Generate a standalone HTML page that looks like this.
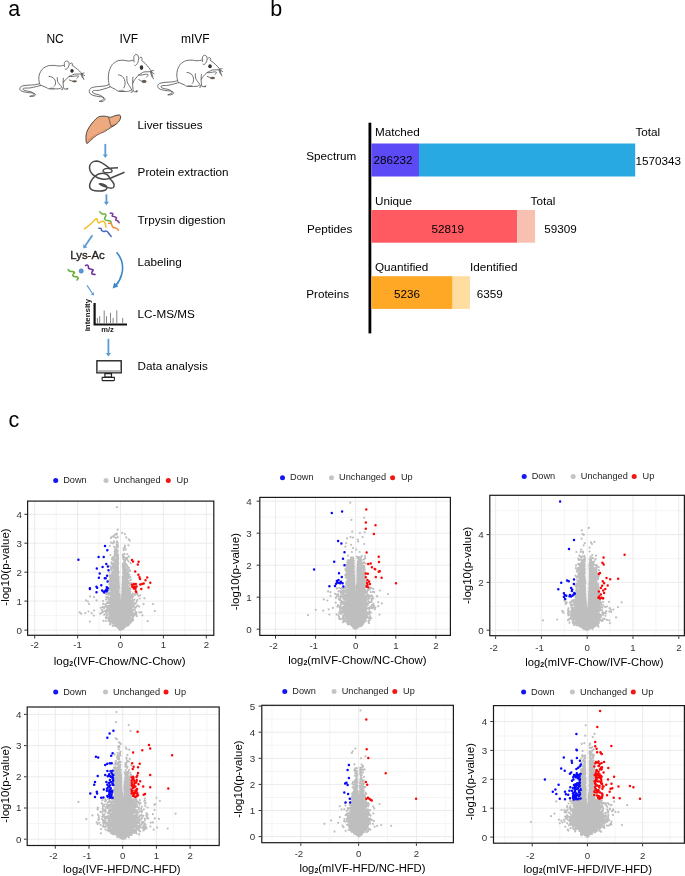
<!DOCTYPE html>
<html><head><meta charset="utf-8"><style>
html,body{margin:0;padding:0;background:#fff;}
svg{display:block;font-family:"Liberation Sans", sans-serif;will-change:transform;}
</style></head><body>
<svg width="685" height="876" viewBox="0 0 685 876">
<text x="8.2" y="15.6" font-size="21.5">a</text>
<text x="270.3" y="15.5" font-size="21.5">b</text>
<text x="8.5" y="427.0" font-size="21.5">c</text>
<g transform="translate(0.00 0.00) scale(1 1.0)"><ellipse cx="72" cy="70.9" rx="1.75" ry="1.8" fill="#333"/>
<ellipse cx="74.6" cy="81.3" rx="2.4" ry="1.15" fill="#6b5d50"/>
<ellipse cx="67.2" cy="88.8" rx="1" ry="0.8" fill="#777"/>
<ellipse cx="52" cy="88.4" rx="3" ry="0.9" fill="#aaa"/><g fill="none" stroke="#555" stroke-width="0.85" stroke-linecap="round"><path vector-effect="non-scaling-stroke" d="M39.7 83.8C39.6 83.1 38.8 81.2 38.8 79.5C38.8 77.8 38.9 75.6 39.5 73.9C40.1 72.2 41.4 70.3 42.3 69.2C43.2 68.1 43.9 67.8 45.0 67.2C46.1 66.6 47.2 66.0 48.7 65.7C50.2 65.4 52.5 65.4 54.2 65.4C55.9 65.5 57.6 66.0 59.1 66.0C60.6 66.0 62.7 65.5 63.4 65.4"/>
<path vector-effect="non-scaling-stroke" d="M64.5 66.6C64.5 66.1 64.2 64.3 64.3 63.5C64.4 62.7 64.6 62.2 65.0 61.8C65.4 61.4 66.0 61.1 66.5 61.1C67.0 61.1 67.8 61.2 68.3 61.7C68.8 62.2 69.2 63.2 69.2 64.1C69.2 65.0 68.8 66.3 68.3 67.2C67.8 68.1 66.7 69.0 66.2 69.3C65.7 69.6 65.4 69.0 65.2 69.0"/>
<path vector-effect="non-scaling-stroke" d="M70.1 63.8C70.3 63.7 70.7 63.1 71.1 63.1C71.5 63.1 72.0 63.2 72.3 63.5C72.5 63.8 72.5 64.5 72.6 64.7"/>
<path vector-effect="non-scaling-stroke" d="M72.0 65.4C72.6 65.8 74.5 66.9 75.7 67.8C76.9 68.7 78.3 70.0 79.3 70.9C80.3 71.9 81.4 73.1 81.8 73.5"/>
<path vector-effect="non-scaling-stroke" d="M81.8 73.9C81.2 73.9 79.3 74.0 78.1 74.1C76.9 74.1 75.5 74.0 74.4 74.2C73.3 74.4 72.3 75.1 71.4 75.5C70.5 75.9 69.6 76.2 69.2 76.4"/>
<path vector-effect="non-scaling-stroke" d="M69.5 76.6C70.0 76.6 71.5 76.6 72.6 76.5C73.7 76.4 75.3 75.9 76.3 75.9C77.3 75.9 78.6 76.0 78.7 76.4C78.8 76.8 77.2 77.9 76.9 78.2"/>
<path vector-effect="non-scaling-stroke" d="M81.6 74L84.6 75.6M81.9 74.4L83.8 79.4M81 74.6L82.5 77.8M81.5 73.6L84 73"/>
<path vector-effect="non-scaling-stroke" d="M69.2 76.4C68.8 76.8 67.3 78.0 66.5 78.8C65.7 79.5 64.9 80.3 64.4 80.9C63.9 81.5 63.6 82.2 63.4 82.5"/>
<path vector-effect="non-scaling-stroke" d="M69.3 80.0C69.6 80.1 70.5 80.4 71.0 80.6C71.5 80.8 72.3 81.2 72.6 81.3"/>
<path vector-effect="non-scaling-stroke" d="M63.4 78.2C63.4 78.9 63.1 81.2 63.1 82.5C63.1 83.8 63.2 85.2 63.4 86.2C63.5 87.2 63.5 88.2 64.0 88.7C64.5 89.2 65.9 89.1 66.5 89.1C67.1 89.1 67.6 88.7 67.8 88.6"/>
<path vector-effect="non-scaling-stroke" d="M57.3 77.6C57.3 78.2 57.3 80.3 57.6 81.3C57.9 82.3 58.4 82.9 59.1 83.8C59.8 84.7 61.0 85.9 61.6 86.8C62.2 87.7 62.8 88.8 62.8 89.3C62.8 89.8 61.7 89.5 61.5 89.5"/>
<path vector-effect="non-scaling-stroke" d="M49.0 76.4C49.5 76.5 50.8 76.6 51.7 77.0C52.6 77.4 53.6 78.1 54.2 78.8C54.8 79.5 55.2 80.4 55.4 81.3C55.6 82.2 55.6 83.6 55.4 84.4C55.2 85.2 54.4 85.9 54.2 86.2"/>
<path vector-effect="non-scaling-stroke" d="M39.9 84.8C40.4 85.0 42.0 85.8 43.0 86.2C44.0 86.6 45.2 87.0 46.2 87.4C47.2 87.8 47.4 88.5 48.7 88.7C50.0 89.0 52.5 88.9 54.2 88.9C55.9 88.9 58.0 88.9 59.1 88.7C60.2 88.5 60.7 88.1 61.0 88.0"/>
<path vector-effect="non-scaling-stroke" d="M39.2 83.8C38.4 84.0 36.4 84.6 34.5 84.8C32.6 85.0 30.0 85.0 28.0 85.2C26.0 85.4 24.0 85.6 22.7 85.9C21.4 86.2 20.8 86.7 20.3 87.2C19.8 87.7 19.7 88.4 19.8 89.0C19.9 89.6 20.1 90.2 20.9 90.7C21.7 91.2 23.0 91.7 24.4 92.0C25.8 92.3 27.8 92.5 29.3 92.7C30.8 92.9 32.2 92.8 33.2 93.1C34.2 93.3 35.1 93.8 35.4 94.2C35.7 94.6 35.4 95.1 35.0 95.5C34.6 95.9 33.6 96.2 32.8 96.4C32.0 96.6 30.6 96.4 30.1 96.4"/>
<path vector-effect="non-scaling-stroke" d="M40.7 85.4C40.0 85.6 38.5 86.1 36.7 86.5C34.9 86.9 32.1 87.6 30.1 87.9C28.1 88.2 26.1 88.0 24.9 88.1C23.7 88.2 23.3 88.4 23.1 88.7C22.9 89.0 23.0 89.6 23.6 90.0C24.2 90.4 25.4 90.6 26.6 90.9C27.8 91.2 29.8 91.4 31.0 91.8C32.2 92.2 33.1 92.8 33.6 93.3C34.1 93.8 34.3 94.2 34.1 94.6C33.9 95.0 33.0 95.2 32.3 95.5C31.6 95.8 30.5 96.1 30.1 96.2"/></g></g>
<g transform="translate(69.50 -26.73) scale(1 1.33)"><ellipse cx="72" cy="70.9" rx="1.75" ry="1.8" fill="#333"/>
<ellipse cx="74.6" cy="81.3" rx="2.4" ry="1.15" fill="#6b5d50"/>
<ellipse cx="67.2" cy="88.8" rx="1" ry="0.8" fill="#777"/>
<ellipse cx="52" cy="88.4" rx="3" ry="0.9" fill="#aaa"/><g fill="none" stroke="#555" stroke-width="0.85" stroke-linecap="round"><path vector-effect="non-scaling-stroke" d="M39.7 83.8C39.6 83.1 38.8 81.2 38.8 79.5C38.8 77.8 38.9 75.6 39.5 73.9C40.1 72.2 41.4 70.3 42.3 69.2C43.2 68.1 43.9 67.8 45.0 67.2C46.1 66.6 47.2 66.0 48.7 65.7C50.2 65.4 52.5 65.4 54.2 65.4C55.9 65.5 57.6 66.0 59.1 66.0C60.6 66.0 62.7 65.5 63.4 65.4"/>
<path vector-effect="non-scaling-stroke" d="M64.5 66.6C64.5 66.1 64.2 64.3 64.3 63.5C64.4 62.7 64.6 62.2 65.0 61.8C65.4 61.4 66.0 61.1 66.5 61.1C67.0 61.1 67.8 61.2 68.3 61.7C68.8 62.2 69.2 63.2 69.2 64.1C69.2 65.0 68.8 66.3 68.3 67.2C67.8 68.1 66.7 69.0 66.2 69.3C65.7 69.6 65.4 69.0 65.2 69.0"/>
<path vector-effect="non-scaling-stroke" d="M70.1 63.8C70.3 63.7 70.7 63.1 71.1 63.1C71.5 63.1 72.0 63.2 72.3 63.5C72.5 63.8 72.5 64.5 72.6 64.7"/>
<path vector-effect="non-scaling-stroke" d="M72.0 65.4C72.6 65.8 74.5 66.9 75.7 67.8C76.9 68.7 78.3 70.0 79.3 70.9C80.3 71.9 81.4 73.1 81.8 73.5"/>
<path vector-effect="non-scaling-stroke" d="M81.8 73.9C81.2 73.9 79.3 74.0 78.1 74.1C76.9 74.1 75.5 74.0 74.4 74.2C73.3 74.4 72.3 75.1 71.4 75.5C70.5 75.9 69.6 76.2 69.2 76.4"/>
<path vector-effect="non-scaling-stroke" d="M69.5 76.6C70.0 76.6 71.5 76.6 72.6 76.5C73.7 76.4 75.3 75.9 76.3 75.9C77.3 75.9 78.6 76.0 78.7 76.4C78.8 76.8 77.2 77.9 76.9 78.2"/>
<path vector-effect="non-scaling-stroke" d="M81.6 74L84.6 75.6M81.9 74.4L83.8 79.4M81 74.6L82.5 77.8M81.5 73.6L84 73"/>
<path vector-effect="non-scaling-stroke" d="M69.2 76.4C68.8 76.8 67.3 78.0 66.5 78.8C65.7 79.5 64.9 80.3 64.4 80.9C63.9 81.5 63.6 82.2 63.4 82.5"/>
<path vector-effect="non-scaling-stroke" d="M69.3 80.0C69.6 80.1 70.5 80.4 71.0 80.6C71.5 80.8 72.3 81.2 72.6 81.3"/>
<path vector-effect="non-scaling-stroke" d="M63.4 78.2C63.4 78.9 63.1 81.2 63.1 82.5C63.1 83.8 63.2 85.2 63.4 86.2C63.5 87.2 63.5 88.2 64.0 88.7C64.5 89.2 65.9 89.1 66.5 89.1C67.1 89.1 67.6 88.7 67.8 88.6"/>
<path vector-effect="non-scaling-stroke" d="M57.3 77.6C57.3 78.2 57.3 80.3 57.6 81.3C57.9 82.3 58.4 82.9 59.1 83.8C59.8 84.7 61.0 85.9 61.6 86.8C62.2 87.7 62.8 88.8 62.8 89.3C62.8 89.8 61.7 89.5 61.5 89.5"/>
<path vector-effect="non-scaling-stroke" d="M49.0 76.4C49.5 76.5 50.8 76.6 51.7 77.0C52.6 77.4 53.6 78.1 54.2 78.8C54.8 79.5 55.2 80.4 55.4 81.3C55.6 82.2 55.6 83.6 55.4 84.4C55.2 85.2 54.4 85.9 54.2 86.2"/>
<path vector-effect="non-scaling-stroke" d="M39.9 84.8C40.4 85.0 42.0 85.8 43.0 86.2C44.0 86.6 45.2 87.0 46.2 87.4C47.2 87.8 47.4 88.5 48.7 88.7C50.0 89.0 52.5 88.9 54.2 88.9C55.9 88.9 58.0 88.9 59.1 88.7C60.2 88.5 60.7 88.1 61.0 88.0"/>
<path vector-effect="non-scaling-stroke" d="M39.2 83.8C38.4 84.0 36.4 84.6 34.5 84.8C32.6 85.0 30.0 85.0 28.0 85.2C26.0 85.4 24.0 85.6 22.7 85.9C21.4 86.2 20.8 86.7 20.3 87.2C19.8 87.7 19.7 88.4 19.8 89.0C19.9 89.6 20.1 90.2 20.9 90.7C21.7 91.2 23.0 91.7 24.4 92.0C25.8 92.3 27.8 92.5 29.3 92.7C30.8 92.9 32.2 92.8 33.2 93.1C34.2 93.3 35.1 93.8 35.4 94.2C35.7 94.6 35.4 95.1 35.0 95.5C34.6 95.9 33.6 96.2 32.8 96.4C32.0 96.6 30.6 96.4 30.1 96.4"/>
<path vector-effect="non-scaling-stroke" d="M40.7 85.4C40.0 85.6 38.5 86.1 36.7 86.5C34.9 86.9 32.1 87.6 30.1 87.9C28.1 88.2 26.1 88.0 24.9 88.1C23.7 88.2 23.3 88.4 23.1 88.7C22.9 89.0 23.0 89.6 23.6 90.0C24.2 90.4 25.4 90.6 26.6 90.9C27.8 91.2 29.8 91.4 31.0 91.8C32.2 92.2 33.1 92.8 33.6 93.3C34.1 93.8 34.3 94.2 34.1 94.6C33.9 95.0 33.0 95.2 32.3 95.5C31.6 95.8 30.5 96.1 30.1 96.2"/></g></g>
<g transform="translate(138.00 -13.12) scale(1 1.12)"><ellipse cx="72" cy="70.9" rx="1.75" ry="1.8" fill="#333"/>
<ellipse cx="74.6" cy="81.3" rx="2.4" ry="1.15" fill="#6b5d50"/>
<ellipse cx="67.2" cy="88.8" rx="1" ry="0.8" fill="#777"/>
<ellipse cx="52" cy="88.4" rx="3" ry="0.9" fill="#aaa"/><g fill="none" stroke="#555" stroke-width="0.85" stroke-linecap="round"><path vector-effect="non-scaling-stroke" d="M39.7 83.8C39.6 83.1 38.8 81.2 38.8 79.5C38.8 77.8 38.9 75.6 39.5 73.9C40.1 72.2 41.4 70.3 42.3 69.2C43.2 68.1 43.9 67.8 45.0 67.2C46.1 66.6 47.2 66.0 48.7 65.7C50.2 65.4 52.5 65.4 54.2 65.4C55.9 65.5 57.6 66.0 59.1 66.0C60.6 66.0 62.7 65.5 63.4 65.4"/>
<path vector-effect="non-scaling-stroke" d="M64.5 66.6C64.5 66.1 64.2 64.3 64.3 63.5C64.4 62.7 64.6 62.2 65.0 61.8C65.4 61.4 66.0 61.1 66.5 61.1C67.0 61.1 67.8 61.2 68.3 61.7C68.8 62.2 69.2 63.2 69.2 64.1C69.2 65.0 68.8 66.3 68.3 67.2C67.8 68.1 66.7 69.0 66.2 69.3C65.7 69.6 65.4 69.0 65.2 69.0"/>
<path vector-effect="non-scaling-stroke" d="M70.1 63.8C70.3 63.7 70.7 63.1 71.1 63.1C71.5 63.1 72.0 63.2 72.3 63.5C72.5 63.8 72.5 64.5 72.6 64.7"/>
<path vector-effect="non-scaling-stroke" d="M72.0 65.4C72.6 65.8 74.5 66.9 75.7 67.8C76.9 68.7 78.3 70.0 79.3 70.9C80.3 71.9 81.4 73.1 81.8 73.5"/>
<path vector-effect="non-scaling-stroke" d="M81.8 73.9C81.2 73.9 79.3 74.0 78.1 74.1C76.9 74.1 75.5 74.0 74.4 74.2C73.3 74.4 72.3 75.1 71.4 75.5C70.5 75.9 69.6 76.2 69.2 76.4"/>
<path vector-effect="non-scaling-stroke" d="M69.5 76.6C70.0 76.6 71.5 76.6 72.6 76.5C73.7 76.4 75.3 75.9 76.3 75.9C77.3 75.9 78.6 76.0 78.7 76.4C78.8 76.8 77.2 77.9 76.9 78.2"/>
<path vector-effect="non-scaling-stroke" d="M81.6 74L84.6 75.6M81.9 74.4L83.8 79.4M81 74.6L82.5 77.8M81.5 73.6L84 73"/>
<path vector-effect="non-scaling-stroke" d="M69.2 76.4C68.8 76.8 67.3 78.0 66.5 78.8C65.7 79.5 64.9 80.3 64.4 80.9C63.9 81.5 63.6 82.2 63.4 82.5"/>
<path vector-effect="non-scaling-stroke" d="M69.3 80.0C69.6 80.1 70.5 80.4 71.0 80.6C71.5 80.8 72.3 81.2 72.6 81.3"/>
<path vector-effect="non-scaling-stroke" d="M63.4 78.2C63.4 78.9 63.1 81.2 63.1 82.5C63.1 83.8 63.2 85.2 63.4 86.2C63.5 87.2 63.5 88.2 64.0 88.7C64.5 89.2 65.9 89.1 66.5 89.1C67.1 89.1 67.6 88.7 67.8 88.6"/>
<path vector-effect="non-scaling-stroke" d="M57.3 77.6C57.3 78.2 57.3 80.3 57.6 81.3C57.9 82.3 58.4 82.9 59.1 83.8C59.8 84.7 61.0 85.9 61.6 86.8C62.2 87.7 62.8 88.8 62.8 89.3C62.8 89.8 61.7 89.5 61.5 89.5"/>
<path vector-effect="non-scaling-stroke" d="M49.0 76.4C49.5 76.5 50.8 76.6 51.7 77.0C52.6 77.4 53.6 78.1 54.2 78.8C54.8 79.5 55.2 80.4 55.4 81.3C55.6 82.2 55.6 83.6 55.4 84.4C55.2 85.2 54.4 85.9 54.2 86.2"/>
<path vector-effect="non-scaling-stroke" d="M39.9 84.8C40.4 85.0 42.0 85.8 43.0 86.2C44.0 86.6 45.2 87.0 46.2 87.4C47.2 87.8 47.4 88.5 48.7 88.7C50.0 89.0 52.5 88.9 54.2 88.9C55.9 88.9 58.0 88.9 59.1 88.7C60.2 88.5 60.7 88.1 61.0 88.0"/>
<path vector-effect="non-scaling-stroke" d="M39.2 83.8C38.4 84.0 36.4 84.6 34.5 84.8C32.6 85.0 30.0 85.0 28.0 85.2C26.0 85.4 24.0 85.6 22.7 85.9C21.4 86.2 20.8 86.7 20.3 87.2C19.8 87.7 19.7 88.4 19.8 89.0C19.9 89.6 20.1 90.2 20.9 90.7C21.7 91.2 23.0 91.7 24.4 92.0C25.8 92.3 27.8 92.5 29.3 92.7C30.8 92.9 32.2 92.8 33.2 93.1C34.2 93.3 35.1 93.8 35.4 94.2C35.7 94.6 35.4 95.1 35.0 95.5C34.6 95.9 33.6 96.2 32.8 96.4C32.0 96.6 30.6 96.4 30.1 96.4"/>
<path vector-effect="non-scaling-stroke" d="M40.7 85.4C40.0 85.6 38.5 86.1 36.7 86.5C34.9 86.9 32.1 87.6 30.1 87.9C28.1 88.2 26.1 88.0 24.9 88.1C23.7 88.2 23.3 88.4 23.1 88.7C22.9 89.0 23.0 89.6 23.6 90.0C24.2 90.4 25.4 90.6 26.6 90.9C27.8 91.2 29.8 91.4 31.0 91.8C32.2 92.2 33.1 92.8 33.6 93.3C34.1 93.8 34.3 94.2 34.1 94.6C33.9 95.0 33.0 95.2 32.3 95.5C31.6 95.8 30.5 96.1 30.1 96.2"/></g></g>
<path d="M86.4 142.9C85.8 139.5 85.7 135.5 86.6 132.5C87.8 128.8 90.5 124.8 93.4 121.6C95.2 119.5 96.8 117.9 98.6 116.9C100.5 116 103.5 116.1 106.5 116.4C108 116.6 109 117.2 110.2 117.4C111.8 117.3 113 116.3 114.6 115.8C116.2 115.3 118 114.9 119.3 115C120.6 115.2 120.8 116.5 120.5 118C120.1 120 118.8 121.8 117 123.4C115.3 125 113 126.3 110.6 127.6C108.5 128.8 106.7 130.6 104.5 131.6C102 132.6 99 133.8 96.8 135.2C94.4 136.8 92.4 138.6 90.6 140.5C89.4 141.8 88.2 143 87.2 143.4C86.8 143.5 86.5 143.3 86.4 142.9Z" fill="#EDAA80" stroke="#3a3a3a" stroke-width="0.9"/>
<path d="M87 141.5C89 138.5 92.5 135.8 96.5 133.8C100 132 103.5 130.6 106.2 129.2C108.3 128 110.3 126.7 112.2 125.6C110 127.6 107.5 129.8 104.6 131.3C101.8 132.7 98.5 134 96 135.6C93 137.6 90.6 140.2 88.2 142.6Z" fill="#E08E68"/>
<path d="M108.6 117.6C109.4 119.5 109.8 121.6 110.2 123.6C110.5 125 111 126 111.8 126.4" fill="none" stroke="#5a4030" stroke-width="0.8"/>
<path d="M110.4 126.2C111.8 125.3 113.5 124.8 115 125" fill="none" stroke="#6a4a3a" stroke-width="0.6"/>
<circle cx="105.9" cy="129.8" r="0.9" fill="#7CB342"/>
<path d="M105.3 143.9L105.3 154.9" stroke="#5B9BD5" stroke-width="1.8" fill="none"/><path d="M102.7 154.6L105.3 158.0L107.9 154.6Z" fill="#5B9BD5"/>
<path d="M106.4 194.3L106.4 202.1" stroke="#5B9BD5" stroke-width="1.8" fill="none"/><path d="M103.8 201.8L106.4 205.2L109.0 201.8Z" fill="#5B9BD5"/>
<path d="M92.4 235.3L85.1 246.0" stroke="#5B9BD5" stroke-width="1.8" fill="none"/><path d="M83.2 244.3L83.4 248.6L87.5 247.2Z" fill="#5B9BD5"/>
<path d="M108.4 338.8L108.4 353.3" stroke="#5B9BD5" stroke-width="1.8" fill="none"/><path d="M105.8 353.0L108.4 356.4L111.0 353.0Z" fill="#5B9BD5"/>
<path d="M87.0 285.3L92.5 293.5" stroke="#5B9BD5" stroke-width="1.2" fill="none"/><path d="M90.7 294.4L93.9 295.6L94.0 292.2Z" fill="#5B9BD5"/>
<path d="M116.6 252.2C121.5 258 123.8 266 121.8 274C120.6 278.8 118.5 282.5 115.6 285.6" fill="none" stroke="#3D86C9" stroke-width="1.6"/>
<path d="M112.6 288.4L114.2 282.6L118.3 286.6Z" fill="#3D86C9"/>
<path d="M118 167.8L109.5 168.3C106 165.5 100.5 161.2 96.8 161.1C92.3 161.1 89.6 164 89.5 167.5C89.4 171 91.5 173.8 94.9 176.2C97.5 174 101 173 104 173.4C107 174 109 176 109.7 178.2C108 179.3 105 179.4 102 179C99 178.6 96.5 177.5 94.9 176.2C92 179 90 182 89.6 185.5C89.4 188.5 91.5 190.3 95 190.8C99 191.3 103 191 105 190.3C107.5 189 107.5 186.5 105.5 185.3C103.5 184 100.5 183.6 99.4 183.9C101 185.2 104 186.5 107.1 187.4C109.5 188.2 112 188.6 113.5 187.5C114.5 185.5 113.8 183 112.5 181.5C111.5 180.3 110.5 179.3 109.7 178.5L124.5 172.3" fill="none" stroke="#484848" stroke-width="1.5" stroke-linejoin="round"/>
<path d="M105.5 168.6C103.3 169.2 102.5 170.8 103.4 171.8C104.6 172.8 108 172.9 110.5 172.4C112.4 171.9 112.5 170.4 111.2 169.5C109.6 168.5 107.3 168.2 105.5 168.6Z" fill="none" stroke="#484848" stroke-width="1.4"/>
<path d="M84.5 228.9C85.4 228.2 88.2 226.2 90.1 224.5C92.1 222.8 95.0 219.3 96.3 218.8C97.5 218.3 97.2 220.8 97.6 221.5C98.0 222.1 98.2 222.9 98.9 222.9C99.6 222.9 100.7 221.7 101.5 221.5C102.3 221.2 103.1 221.2 103.7 221.5C104.3 221.7 104.7 222.0 105.0 222.9C105.4 223.9 105.8 226.5 105.9 227.2" fill="none" stroke="#F5BE2A" stroke-width="1.5" stroke-linecap="round"/>
<path d="M99.8 211.8C100.2 212.2 101.5 213.6 102.4 214.0C103.3 214.4 104.5 213.7 105.0 214.0C105.6 214.3 106.0 215.3 105.9 215.9C105.8 216.6 104.7 217.3 104.6 218.0C104.5 218.6 104.9 219.5 105.5 220.0C106.0 220.4 107.0 220.4 107.8 220.6C108.6 220.8 109.7 220.7 110.3 221.0C110.8 221.3 111.0 222.1 111.2 222.3" fill="none" stroke="#6AB23E" stroke-width="1.5" stroke-linecap="round"/>
<path d="M110.3 213.1C110.7 213.3 112.6 213.4 112.9 213.8C113.2 214.3 111.9 215.5 112.2 216.0C112.5 216.5 113.9 216.5 114.7 216.8C115.4 217.1 116.5 217.4 116.6 218.0C116.7 218.5 115.4 219.5 115.5 220.0C115.7 220.5 117.2 220.4 117.7 220.8C118.3 221.3 118.8 222.3 119.1 222.6" fill="none" stroke="#7A3E9D" stroke-width="1.5" stroke-linecap="round"/>
<path d="M108.5 223.2C108.9 223.3 110.4 223.1 111.0 223.5C111.6 223.8 111.7 224.8 112.0 225.4C112.4 226.0 112.5 226.9 113.1 227.3C113.7 227.8 114.8 227.8 115.5 228.0C116.2 228.3 116.8 228.5 117.3 228.9C117.8 229.3 118.2 230.0 118.4 230.2" fill="none" stroke="#F08A36" stroke-width="1.5" stroke-linecap="round"/>
<path d="M98.9 228.2C99.3 228.2 100.7 228.1 101.1 228.5C101.5 228.8 101.1 229.7 101.5 230.2C102.0 230.7 103.1 231.4 103.7 231.5C104.4 231.7 104.8 231.0 105.5 231.1C106.1 231.2 107.0 231.4 107.7 232.0C108.3 232.5 108.8 233.6 109.4 234.3C110.0 235.1 110.9 236.0 111.2 236.4" fill="none" stroke="#4565C0" stroke-width="1.5" stroke-linecap="round"/>
<path d="M68.2 269.5C68.5 269.8 69.0 270.9 69.8 271.3C70.6 271.7 72.1 271.4 72.9 271.6C73.7 271.8 74.5 272.1 74.5 272.6C74.5 273.1 73.1 274.1 72.9 274.7C72.7 275.3 72.9 275.9 73.5 276.3C74.1 276.7 75.8 276.5 76.6 276.8C77.4 277.1 78.1 277.4 78.2 277.9C78.3 278.4 77.3 279.6 77.1 280.0" fill="none" stroke="#6AAE3A" stroke-width="1.6" stroke-linecap="round"/>
<path d="M85.5 265.5C85.8 265.4 86.6 264.9 87.1 265.0C87.6 265.1 88.1 265.7 88.4 266.3C88.7 266.9 88.2 267.9 88.7 268.4C89.2 268.9 90.5 268.9 91.3 269.2C92.0 269.5 93.1 269.5 93.2 270.0C93.3 270.5 92.1 271.5 91.9 272.1C91.7 272.8 91.6 273.5 92.1 273.9C92.6 274.3 94.5 274.4 95.0 274.5" fill="none" stroke="#6E2F9A" stroke-width="1.6" stroke-linecap="round"/>
<circle cx="81.2" cy="271" r="2.2" fill="#5A95D8" stroke="#3E78BE" stroke-width="0.5"/>
<text x="70.3" y="258.9" font-size="11.4" fill="#2a2420" stroke="#2a2420" stroke-width="0.35">Lys-Ac</text>
<path d="M94.6 303.1V324.5H127" fill="none" stroke="#111" stroke-width="2.2"/>
<path d="M97.4 318.0V323.4M99.7 316.2V323.4M104.2 310.5V323.4M106.5 316.2V323.4M110.5 312.8V323.4M113.1 318.0V323.4M116.8 310.3V323.4M122.7 318.0V323.4" stroke="#777" stroke-width="0.9" fill="none"/>
<text transform="translate(89.9 315.1) rotate(-90)" font-size="7.9" font-weight="bold" text-anchor="middle" fill="#222">intensity</text>
<text x="107.6" y="332.3" font-size="7.6" font-weight="bold" text-anchor="middle" fill="#222">m/z</text>
<rect x="96.9" y="360.8" width="24.3" height="12" fill="#fff" stroke="#222" stroke-width="1.4"/>
<rect x="97.6" y="370" width="22.9" height="2.2" fill="#bbb"/>
<path d="M104.9 373.6H111.5V377.2H104.9Z" fill="#fff" stroke="#222" stroke-width="1.2"/>
<path d="M102.2 377.4H114.3Q114.6 380.6 114 380.6H102.4Q101.9 380.6 102.2 377.4Z" fill="#fff" stroke="#222" stroke-width="1.1"/>
<text x="46.4" y="42.8" font-size="12">NC</text>
<text x="119.4" y="42.5" font-size="12">IVF</text>
<text x="181.0" y="42.5" font-size="12">mIVF</text>
<text x="137.6" y="129.0" font-size="11.7">Liver tissues</text>
<text x="137.6" y="176.0" font-size="11.7">Protein extraction</text>
<text x="137.6" y="223.5" font-size="11.7">Trpysin digestion</text>
<text x="137.6" y="266.1" font-size="11.7">Labeling</text>
<text x="137.6" y="317.8" font-size="11.7">LC-MS/MS</text>
<text x="137.6" y="369.6" font-size="11.7">Data analysis</text>
<rect x="368.5" y="122.7" width="2.8" height="210.7" fill="#000"/>
<rect x="371.3" y="143.5" width="47.7" height="33.0" fill="#5D4AF7"/>
<rect x="419.0" y="143.5" width="216.2" height="33.0" fill="#29A9E1"/>
<rect x="371.3" y="210.0" width="145.8" height="32.7" fill="#FF5A62"/>
<rect x="517.1" y="210.0" width="18.0" height="32.7" fill="#F7C0B1"/>
<rect x="371.3" y="276.2" width="81.3" height="32.7" fill="#FFA826"/>
<rect x="452.6" y="276.2" width="17.4" height="32.7" fill="#FFDDA0"/>
<text x="375.0" y="135.5" font-size="11.7">Matched</text>
<text x="635.5" y="135.5" font-size="11.7">Total</text>
<text x="306.3" y="160.1" font-size="11.7">Spectrum</text>
<text x="373.4" y="164.0" font-size="11.7">286232</text>
<text x="635.5" y="164.7" font-size="11.7">1570343</text>
<text x="375.0" y="204.7" font-size="11.7">Unique</text>
<text x="530.6" y="204.7" font-size="11.7">Total</text>
<text x="306.9" y="233.3" font-size="11.7">Peptides</text>
<text x="431.5" y="232.9" font-size="11.7">52819</text>
<text x="544.3" y="233.0" font-size="11.7">59309</text>
<text x="375.0" y="270.8" font-size="11.7">Quantified</text>
<text x="470.0" y="270.8" font-size="11.7">Identified</text>
<text x="306.2" y="298.2" font-size="11.7">Proteins</text>
<text x="393.9" y="298.2" font-size="11.7">5236</text>
<text x="476.7" y="298.2" font-size="11.7">6359</text>
<rect x="27.5" y="501.0" width="186.5" height="134.2" fill="#fff"/>
<path d="M56.2 501.0V635.2M99.0 501.0V635.2M141.9 501.0V635.2M184.8 501.0V635.2M27.5 615.6H214.0M27.5 586.7H214.0M27.5 557.7H214.0M27.5 528.8H214.0" stroke="#F2F2F2" stroke-width="0.8" fill="none"/>
<path d="M34.7 501.0V635.2M77.6 501.0V635.2M120.5 501.0V635.2M163.4 501.0V635.2M206.3 501.0V635.2M27.5 630.1H214.0M27.5 601.1H214.0M27.5 572.2H214.0M27.5 543.2H214.0M27.5 514.3H214.0" stroke="#EBEBEB" stroke-width="1" fill="none"/>
<path d="M121.5 608.9h0M116.3 567.1h0M122.0 623.1h0M116.6 567.5h0M114.8 614.9h0M126.3 612.7h0M123.2 591.0h0M122.0 613.2h0M114.4 603.5h0M121.4 627.9h0M122.6 596.2h0M116.7 604.1h0M110.9 614.1h0M124.5 593.9h0M115.8 615.2h0M124.7 611.4h0M122.6 623.5h0M117.4 610.8h0M116.5 619.5h0M117.5 617.0h0M114.9 591.0h0M119.9 616.2h0M122.2 610.1h0M114.5 556.2h0M111.6 564.0h0M125.9 598.0h0M126.0 607.6h0M125.6 618.3h0M117.9 621.3h0M117.5 561.2h0M115.8 605.2h0M118.6 623.2h0M119.8 599.3h0M114.9 588.9h0M116.7 599.9h0M127.8 581.8h0M120.1 626.8h0M119.6 604.6h0M117.8 608.1h0M116.4 625.5h0M123.6 602.7h0M116.0 582.2h0M118.8 601.1h0M125.5 590.0h0M116.9 605.6h0M116.0 590.8h0M115.6 621.8h0M125.4 591.6h0M117.1 595.6h0M117.1 588.1h0M125.9 621.4h0M128.7 592.9h0M119.2 620.0h0M120.7 625.4h0M116.6 581.9h0M115.6 581.3h0M118.3 579.6h0M121.6 610.6h0M117.1 616.5h0M120.5 629.3h0M118.5 598.0h0M118.4 593.1h0M115.2 583.9h0M126.6 620.5h0M119.4 598.4h0M117.2 586.6h0M112.9 563.4h0M118.6 621.7h0M117.3 607.0h0M129.3 612.7h0M131.1 601.0h0M115.6 573.6h0M118.4 584.7h0M111.2 578.5h0M123.3 601.7h0M123.7 619.4h0M113.7 589.6h0M120.5 620.7h0M117.0 584.3h0M113.0 584.8h0M119.2 621.1h0M116.9 612.1h0M117.8 614.6h0M117.8 595.1h0M122.6 621.9h0M112.6 611.1h0M121.8 618.8h0M132.0 612.8h0M115.5 623.6h0M115.9 598.7h0M119.7 611.8h0M125.5 598.0h0M125.3 602.0h0M122.8 612.3h0M128.2 587.5h0M122.2 603.2h0M116.7 586.2h0M119.8 613.5h0M124.2 607.5h0M111.5 619.8h0M117.6 542.6h0M118.4 617.8h0M130.9 619.0h0M122.6 625.7h0M115.2 590.0h0M113.0 594.6h0M115.1 612.0h0M116.0 609.9h0M115.6 596.8h0M115.8 608.3h0M137.7 605.5h0M116.0 583.5h0M117.3 592.7h0M118.7 612.5h0M126.9 611.6h0M116.3 612.4h0M118.0 623.4h0M123.9 621.0h0M113.9 616.0h0M125.3 616.9h0M104.2 614.8h0M118.9 602.0h0M116.1 560.6h0M117.3 589.1h0M116.4 587.8h0M128.5 595.9h0M115.2 600.8h0M112.9 573.9h0M114.0 595.2h0M116.5 606.0h0M123.5 625.6h0M127.3 609.9h0M123.7 623.5h0M118.2 605.8h0M111.0 588.3h0M126.4 617.6h0M131.3 595.2h0M115.6 604.7h0M117.4 621.8h0M123.2 572.4h0M117.6 610.8h0M115.6 615.6h0M118.7 582.8h0M126.4 623.8h0M124.2 597.5h0M110.9 620.1h0M121.9 619.9h0M111.4 583.3h0M128.2 614.0h0M114.8 559.3h0M119.2 599.2h0M126.1 599.8h0M119.0 605.0h0M118.9 615.0h0M121.7 613.8h0M114.3 569.3h0M119.6 619.6h0M116.4 551.2h0M117.7 590.4h0M118.2 612.7h0M107.3 611.8h0M114.0 605.9h0M121.0 628.6h0M133.0 609.7h0M128.1 618.0h0M113.1 591.1h0M112.3 608.9h0M119.1 619.2h0M116.7 575.8h0M120.0 628.4h0M114.2 535.7h0M119.9 617.0h0M117.7 582.5h0M131.6 604.5h0M117.9 586.5h0M110.6 598.9h0M119.7 612.6h0M123.8 595.8h0M112.3 612.2h0M113.5 607.2h0M122.4 620.3h0M128.7 606.6h0M125.7 614.1h0M122.4 593.7h0M117.8 600.4h0M118.0 581.3h0M127.8 597.6h0M119.3 600.6h0M124.2 617.9h0M112.3 588.5h0M118.6 624.9h0M118.7 589.2h0M120.5 608.1h0M122.7 604.2h0M120.4 627.1h0M123.3 621.6h0M117.8 596.2h0M122.9 622.6h0M113.0 566.7h0M119.7 621.5h0M119.2 605.5h0M127.7 622.0h0M120.5 604.1h0M117.3 565.3h0M127.7 575.1h0M112.3 596.4h0M124.0 589.6h0M123.1 578.2h0M122.1 615.2h0M122.3 625.0h0M123.5 604.8h0M115.0 617.0h0M125.2 618.7h0M113.8 615.9h0M125.2 624.8h0M112.3 591.6h0M126.7 602.2h0M113.4 600.3h0M119.4 627.1h0M118.7 609.5h0M124.4 600.3h0M118.2 621.5h0M123.1 614.2h0M120.6 620.5h0M111.8 610.2h0M125.7 611.0h0M116.2 578.6h0M123.0 616.8h0M119.0 628.0h0M123.0 626.2h0M110.0 624.2h0M124.8 572.8h0M123.0 596.2h0M127.1 614.1h0M129.7 616.0h0M125.2 586.8h0M118.0 624.6h0M115.9 572.2h0M108.7 599.4h0M115.7 623.3h0M117.2 624.2h0M130.6 603.2h0M126.1 604.0h0M122.2 627.7h0M125.0 592.5h0M117.8 574.3h0M122.1 601.1h0M112.4 595.0h0M116.9 621.1h0M119.4 625.4h0M113.3 598.0h0M124.5 576.6h0M116.3 613.2h0M114.6 590.6h0M114.5 625.4h0M123.7 607.2h0M114.2 603.1h0M128.8 609.5h0M124.4 612.6h0M121.8 606.0h0M124.9 571.9h0M127.9 590.2h0M112.8 625.9h0M127.9 606.7h0M114.8 599.5h0M122.5 613.6h0M123.0 576.6h0M119.6 601.5h0M119.2 625.4h0M122.0 626.6h0M121.6 620.7h0M126.8 565.0h0M120.4 629.8h0M112.4 598.3h0M121.1 625.9h0M119.0 616.6h0M114.8 602.0h0M114.2 616.8h0M121.3 618.0h0M128.0 596.7h0M119.4 622.7h0M113.1 586.5h0M114.2 584.3h0M110.8 620.6h0M125.3 603.4h0M117.6 619.7h0M122.5 619.5h0M119.1 606.4h0M111.2 604.9h0M113.9 619.0h0M122.6 594.6h0M124.9 582.4h0M122.3 617.3h0M120.4 606.8h0M120.4 612.0h0M123.0 603.6h0M113.7 606.1h0M116.3 626.1h0M122.7 591.0h0M113.6 586.0h0M127.2 580.8h0M123.2 601.5h0M116.3 621.3h0M110.3 608.9h0M123.3 612.0h0M126.9 603.2h0M123.2 614.3h0M117.5 619.4h0M113.1 613.0h0M122.9 600.0h0M122.5 590.6h0M116.5 556.9h0M122.1 621.2h0M103.5 611.6h0M116.1 599.9h0M115.6 607.2h0M114.5 551.8h0M110.3 610.6h0M117.1 615.4h0M114.3 585.9h0M121.2 610.9h0M120.4 616.5h0M128.4 576.6h0M114.2 564.0h0M120.6 618.2h0M117.9 593.7h0M122.3 607.6h0M121.2 615.5h0M118.1 559.5h0M124.3 604.1h0M121.7 627.3h0M121.3 625.0h0M127.2 559.7h0M109.0 592.7h0M129.5 587.5h0M119.0 626.2h0M133.3 600.5h0M117.9 609.0h0M113.0 593.9h0M127.3 617.1h0M127.0 608.8h0M121.0 613.9h0M105.3 604.3h0M119.4 621.4h0M125.0 610.6h0M116.1 587.0h0M119.0 598.1h0M116.9 602.8h0M125.3 587.3h0M123.4 621.2h0M119.0 623.7h0M114.8 611.2h0M115.2 603.1h0M125.6 606.1h0M116.0 593.4h0M130.7 606.9h0M118.6 581.8h0M127.0 582.0h0M133.4 596.0h0M120.0 603.2h0M118.5 572.4h0M122.9 598.3h0M113.1 611.2h0M125.7 572.9h0M124.4 598.7h0M115.4 592.9h0M118.7 586.6h0M123.1 585.4h0M114.1 575.7h0M116.5 576.0h0M118.7 612.0h0M115.4 608.2h0M112.7 577.7h0M118.0 616.8h0M125.9 594.4h0M120.2 614.9h0M123.7 608.0h0M116.9 612.6h0M114.2 578.8h0M117.1 619.3h0M120.3 602.8h0M110.2 588.9h0M118.2 571.7h0M123.1 586.9h0M125.8 600.9h0M109.9 621.0h0M118.8 591.0h0M119.5 624.5h0M125.2 619.1h0M122.0 596.7h0M110.0 614.2h0M125.1 599.8h0M117.8 604.1h0M117.3 578.2h0M117.2 592.2h0M118.6 610.5h0M120.7 610.1h0M120.9 610.7h0M118.1 580.1h0M128.4 623.3h0M135.4 612.6h0M136.3 612.1h0M122.4 604.9h0M121.8 613.1h0M132.4 600.2h0M119.1 614.1h0M127.0 604.5h0M117.7 622.6h0M116.8 568.4h0M115.3 562.6h0M126.7 559.1h0M118.1 584.7h0M117.0 570.5h0M107.4 602.1h0M123.5 593.9h0M123.6 620.1h0M122.7 583.0h0M112.3 615.3h0M113.6 598.6h0M101.7 612.9h0M121.9 622.0h0M115.2 624.3h0M110.2 605.2h0M125.1 623.7h0M119.8 606.2h0M120.2 619.3h0M125.6 587.2h0M119.3 605.9h0M116.6 571.5h0M119.7 618.2h0M110.4 592.7h0M124.3 610.1h0M112.8 588.1h0M134.3 615.2h0M126.9 607.5h0M128.8 587.7h0M126.0 582.1h0M122.7 566.4h0M123.6 597.6h0M126.0 584.7h0M110.9 616.6h0M115.3 552.4h0M109.4 606.2h0M114.7 620.4h0M116.5 613.8h0M123.5 615.5h0M134.0 614.2h0M130.2 595.1h0M110.9 567.1h0M130.7 622.4h0M111.4 597.7h0M113.6 575.7h0M122.3 588.1h0M126.0 581.1h0M127.2 578.9h0M112.6 601.3h0M117.6 604.8h0M130.4 588.6h0M130.3 620.6h0M110.8 619.6h0M124.4 608.1h0M109.6 608.8h0M132.7 605.7h0M116.5 585.8h0M124.7 620.4h0M132.1 609.6h0M121.6 608.8h0M123.7 550.2h0M123.1 610.5h0M114.4 601.8h0M102.3 612.2h0M127.3 585.1h0M117.1 557.6h0M116.3 609.2h0M115.6 582.5h0M127.5 598.8h0M117.7 598.8h0M114.1 571.0h0M121.8 622.5h0M115.0 585.1h0M123.2 594.8h0M123.1 617.6h0M127.3 574.4h0M115.5 612.6h0M108.3 606.9h0M121.3 604.6h0M115.0 578.3h0M123.6 590.3h0M115.8 570.9h0M114.8 609.5h0M116.0 616.3h0M114.8 597.6h0M116.8 618.4h0M121.8 599.2h0M116.7 581.0h0M126.3 588.1h0M105.7 613.5h0M126.0 558.1h0M113.6 565.6h0M124.1 627.5h0M114.5 580.5h0M106.6 614.6h0M129.5 597.2h0M114.4 612.3h0M119.4 615.5h0M109.0 611.5h0M118.5 580.2h0M116.5 580.5h0M118.6 608.0h0M115.3 595.3h0M123.0 588.0h0M111.2 611.3h0M116.9 593.7h0M116.0 591.0h0M112.3 594.1h0M125.4 621.6h0M124.0 591.1h0M123.6 593.0h0M122.9 624.4h0M118.2 599.2h0M119.9 601.7h0M117.9 625.1h0M135.1 603.7h0M126.1 570.2h0M126.1 598.8h0M114.8 580.1h0M123.6 580.4h0M116.0 585.2h0M126.1 580.7h0M123.2 569.9h0M124.3 582.4h0M116.9 559.8h0M128.5 583.5h0M121.2 629.2h0M124.8 579.6h0M112.4 564.6h0M123.8 592.8h0M123.8 611.0h0M117.9 562.6h0M114.2 611.1h0M123.6 612.6h0M126.6 598.4h0M118.1 568.2h0M118.4 596.2h0M129.2 590.2h0M129.5 570.2h0M126.7 605.3h0M114.5 578.2h0M122.9 609.3h0M126.3 579.2h0M116.9 560.7h0M128.7 612.2h0M126.7 618.0h0M120.1 623.5h0M132.8 615.9h0M110.0 586.5h0M120.6 623.6h0M117.0 597.4h0M124.3 608.9h0M112.7 590.3h0M110.5 594.1h0M123.8 585.8h0M125.3 581.1h0M114.1 610.2h0M123.9 621.8h0M117.5 615.9h0M125.6 619.2h0M114.5 591.6h0M129.8 588.7h0M125.2 614.8h0M127.3 622.9h0M124.1 602.3h0M125.2 612.1h0M114.0 617.7h0M121.1 616.3h0M111.3 613.7h0M117.8 572.1h0M124.5 588.2h0M120.3 626.8h0M124.5 595.3h0M115.2 617.9h0M125.8 549.4h0M120.4 615.4h0M122.3 610.8h0M122.7 600.4h0M128.2 620.6h0M119.8 603.8h0M121.7 601.8h0M118.1 558.9h0M123.2 573.5h0M111.4 590.7h0M115.6 598.2h0M121.9 606.7h0M132.8 616.7h0M120.7 613.3h0M124.2 602.8h0M116.2 618.3h0M124.5 574.6h0M123.2 564.7h0M124.3 581.1h0M117.5 588.6h0M124.5 614.1h0M124.9 586.2h0M120.5 607.9h0M116.1 607.0h0M119.4 614.3h0M121.7 626.5h0M117.5 552.1h0M124.3 561.0h0M126.9 585.7h0M123.7 548.4h0M117.8 566.2h0M129.6 601.3h0M127.6 592.3h0M110.9 607.9h0M117.6 583.4h0M109.8 566.0h0M110.7 597.3h0M117.2 605.2h0M125.0 594.8h0M123.9 617.8h0M122.3 606.5h0M107.8 614.6h0M125.0 615.2h0M125.2 596.0h0M117.9 567.0h0M116.9 617.3h0M124.6 620.1h0M123.8 563.9h0M126.1 583.5h0M113.0 608.8h0M122.4 616.6h0M134.5 604.5h0M128.8 595.2h0M111.3 615.9h0M114.5 607.4h0M121.0 605.9h0M120.2 623.2h0M124.6 606.5h0M117.3 580.8h0M127.4 607.5h0M124.6 571.5h0M107.8 607.7h0M131.1 619.8h0M122.5 598.6h0M115.6 569.3h0M128.0 619.9h0M115.4 626.0h0M112.9 599.4h0M115.5 534.2h0M120.1 611.1h0M118.7 590.8h0M117.6 613.4h0M128.3 619.5h0M127.5 588.5h0M115.2 606.7h0M108.9 606.9h0M128.0 572.4h0M125.2 596.3h0M127.1 611.1h0M128.1 616.7h0M110.4 555.0h0M125.9 585.7h0M123.1 582.0h0M123.9 615.4h0M117.1 566.4h0M126.9 591.2h0M113.2 592.4h0M125.8 619.7h0M115.7 619.7h0M110.0 597.5h0M121.3 604.3h0M109.1 609.8h0M126.8 620.9h0M116.9 626.7h0M110.2 620.2h0M122.3 588.7h0M117.9 564.8h0M118.2 591.0h0M114.6 609.5h0M107.3 593.8h0M124.9 545.7h0M124.8 604.6h0M114.5 584.8h0M122.3 605.8h0M117.5 587.8h0M123.3 574.6h0M109.5 572.5h0M115.8 589.8h0M117.1 556.4h0M106.8 615.3h0M115.5 619.6h0M110.2 616.9h0M127.1 579.6h0M125.6 622.7h0M122.4 601.7h0M115.3 600.4h0M100.8 607.8h0M114.4 596.8h0M121.4 607.6h0M120.0 610.0h0M116.1 596.9h0M115.0 605.9h0M111.6 570.5h0M128.7 608.6h0M128.0 614.5h0M119.5 596.2h0M132.8 593.6h0M121.8 614.3h0M124.0 576.2h0M113.0 606.8h0M113.6 621.8h0M112.3 572.7h0M126.5 593.6h0M122.2 628.3h0M117.9 626.8h0M124.4 606.1h0M118.5 579.6h0M110.0 576.9h0M117.7 550.4h0M114.4 613.9h0M119.3 607.6h0M117.8 546.2h0M107.9 594.5h0M114.2 575.2h0M113.8 601.9h0M125.9 602.1h0M117.2 610.4h0M126.4 596.8h0M118.5 582.1h0M114.0 600.2h0M140.1 595.3h0M120.3 624.6h0M116.8 598.1h0M115.9 568.6h0M126.7 623.3h0M125.2 621.1h0M129.4 602.9h0M117.0 614.4h0M118.7 618.4h0M116.8 607.5h0M112.8 602.6h0M117.4 576.5h0M128.0 580.7h0M123.4 584.0h0M118.3 606.2h0M118.5 604.3h0M109.0 603.3h0M116.0 588.2h0M116.2 603.9h0M112.5 584.7h0M126.4 602.6h0M127.6 625.7h0M124.7 608.6h0M125.2 622.9h0M114.8 614.1h0M137.2 600.1h0M124.3 580.4h0M113.6 614.8h0M127.5 587.0h0M128.9 618.6h0M120.2 622.2h0M117.1 609.1h0M121.4 617.5h0M131.7 611.1h0M127.1 596.5h0M128.9 622.5h0M122.8 597.7h0M113.7 595.6h0M126.3 605.0h0M116.5 545.3h0M107.6 598.2h0M128.6 617.2h0M123.9 586.8h0M124.3 574.7h0M120.0 609.7h0M126.7 615.3h0M114.4 592.0h0M115.6 564.1h0M116.8 595.3h0M113.8 575.5h0M118.5 597.0h0M120.2 601.5h0M128.9 620.6h0M120.6 617.8h0M119.3 597.2h0M116.4 595.4h0M128.3 588.3h0M111.7 603.4h0M114.9 620.2h0M128.5 594.0h0M115.7 597.2h0M120.4 605.1h0M123.4 583.3h0M114.5 572.1h0M112.7 607.6h0M124.4 624.1h0M129.1 602.2h0M139.2 606.6h0M131.3 613.5h0M117.1 623.7h0M124.5 616.9h0M118.3 601.9h0M110.3 624.5h0M118.2 627.4h0M117.8 589.2h0M121.9 598.2h0M116.5 591.8h0M116.3 584.0h0M117.8 609.8h0M126.5 575.3h0M129.7 610.0h0M116.0 564.3h0M116.4 622.0h0M132.0 607.2h0M114.2 561.0h0M129.1 599.0h0M127.2 576.4h0M111.8 621.9h0M117.9 592.3h0M116.4 599.3h0M107.0 607.3h0M112.9 617.4h0M132.0 604.9h0M113.1 579.2h0M115.4 621.4h0M124.5 590.5h0M123.6 575.0h0M118.6 610.9h0M129.4 591.3h0M116.9 541.3h0M116.0 617.2h0M117.9 603.0h0M128.4 571.5h0M129.0 613.1h0M118.2 607.3h0M114.2 588.3h0M111.6 563.1h0M127.7 619.4h0M124.7 600.8h0M114.6 597.9h0M117.0 583.3h0M117.1 602.5h0M131.6 583.0h0M128.4 598.6h0M123.9 626.4h0M113.7 605.1h0M115.8 622.7h0M107.9 597.1h0M117.0 601.4h0M124.9 560.8h0M114.0 586.5h0M120.2 608.9h0M129.7 620.7h0M111.3 605.6h0M128.6 600.3h0M107.5 609.5h0M122.7 618.4h0M123.5 579.3h0M125.3 582.9h0M125.3 589.2h0M116.9 564.6h0M113.5 619.6h0M115.8 610.8h0M125.4 606.5h0M126.2 600.2h0M117.1 555.1h0M130.7 597.0h0M117.0 572.3h0M116.7 588.7h0M114.0 604.9h0M128.6 591.4h0M126.6 600.5h0M126.7 601.5h0M127.2 566.8h0M129.0 621.5h0M116.4 559.0h0M121.8 624.0h0M119.0 607.2h0M113.3 578.3h0M130.6 598.4h0M113.3 618.1h0M126.3 589.7h0M111.8 574.0h0M126.8 586.7h0M111.8 619.1h0M129.0 592.4h0M130.7 611.9h0M124.7 598.8h0M114.3 614.4h0M116.3 566.1h0M112.2 614.9h0M117.6 556.4h0M116.2 601.8h0M125.9 616.3h0M126.7 614.6h0M125.5 612.8h0M112.2 616.7h0M114.4 558.7h0M115.8 614.5h0M124.2 622.6h0M115.4 592.0h0M117.5 597.2h0M129.5 612.4h0M120.0 608.8h0M122.5 609.5h0M118.1 586.1h0M114.3 606.6h0M127.6 605.0h0M121.8 600.3h0M127.4 557.8h0M117.0 569.6h0M118.8 588.4h0M130.1 609.9h0M122.6 614.5h0M123.9 572.3h0M115.0 582.9h0M117.4 622.7h0M117.7 577.7h0M113.8 601.2h0M130.4 614.7h0M110.8 605.3h0M115.4 566.7h0M125.7 621.8h0M123.6 592.4h0M129.8 613.8h0M118.3 573.7h0M114.6 620.9h0M108.9 608.8h0M129.1 610.7h0M119.7 629.2h0M114.9 549.3h0M128.9 610.2h0M117.0 542.2h0M113.4 574.1h0M110.0 583.1h0M116.6 614.0h0M124.2 599.8h0M118.7 603.2h0M127.0 606.7h0M115.8 560.0h0M137.0 601.1h0M116.8 596.6h0M121.5 601.0h0M125.0 605.6h0M131.7 619.3h0M142.4 615.3h0M109.0 609.2h0M118.5 615.6h0M122.7 589.5h0M124.7 593.1h0M127.4 569.1h0M119.1 600.5h0M114.2 566.7h0M110.6 599.1h0M128.2 617.1h0M130.2 585.0h0M108.8 614.2h0M115.8 562.6h0M134.7 613.8h0M130.4 577.2h0M117.5 612.0h0M123.3 581.5h0M112.2 606.4h0M116.3 594.7h0M124.3 592.1h0M128.9 600.9h0M125.0 594.1h0M128.1 606.0h0M125.9 625.1h0M126.5 570.6h0M117.9 596.3h0M134.6 594.0h0M125.2 609.0h0M118.1 570.6h0M106.7 605.8h0M125.9 584.3h0M130.3 608.8h0M110.5 589.3h0M121.6 612.3h0M135.3 594.8h0M116.5 567.8h0M119.2 593.7h0M122.6 582.6h0M122.5 608.3h0M124.0 612.4h0M112.8 605.2h0M111.0 602.8h0M130.4 609.4h0M131.1 609.1h0M117.3 578.4h0M119.4 619.7h0M111.5 617.4h0M132.4 597.7h0M127.4 599.0h0M106.0 599.6h0M113.5 620.4h0M128.0 613.0h0M113.0 577.6h0M128.4 615.0h0M102.0 609.9h0M108.4 608.1h0M122.9 596.3h0M113.5 617.5h0M117.8 618.7h0M116.9 608.3h0M111.5 585.2h0M124.9 577.5h0M124.8 600.0h0M126.2 615.4h0M112.0 604.1h0M124.8 625.8h0M126.4 624.5h0M115.3 623.0h0M129.1 590.7h0M109.4 584.3h0M126.8 573.4h0M118.9 587.5h0M126.7 594.6h0M127.0 592.9h0M130.4 607.6h0M123.4 569.2h0M116.3 570.1h0M125.6 559.3h0M114.4 561.6h0M117.3 557.3h0M123.6 559.6h0M116.5 603.1h0M110.1 611.2h0M124.9 614.2h0M115.9 607.6h0M118.6 627.1h0M114.1 565.7h0M123.0 588.8h0M112.0 582.6h0M129.4 593.5h0M116.1 574.2h0M114.1 546.8h0M122.7 580.2h0M124.6 619.1h0M125.7 596.2h0M128.1 602.7h0M124.7 575.5h0M114.7 612.5h0M125.2 565.1h0M124.0 604.6h0M108.5 607.7h0M113.8 583.8h0M117.1 567.2h0M122.9 627.5h0M122.7 586.3h0M124.6 625.7h0M124.2 563.4h0M107.0 603.2h0M115.6 578.1h0M122.9 618.7h0M127.7 596.2h0M125.1 617.6h0M113.1 560.1h0M127.0 584.5h0M127.8 593.9h0M113.0 588.9h0M130.6 563.2h0M127.7 603.7h0M117.3 625.3h0M114.0 581.0h0M128.6 615.2h0M124.3 584.5h0M131.3 618.4h0M124.3 556.9h0M109.0 601.7h0M125.5 584.3h0M114.4 593.3h0M113.1 609.1h0M113.1 587.9h0M125.6 591.8h0M114.0 621.6h0M123.9 565.1h0M115.4 570.2h0M112.2 608.3h0M127.4 609.8h0M124.0 566.8h0M110.8 612.5h0M126.1 614.3h0M130.4 591.5h0M127.3 621.5h0M124.0 587.9h0M118.2 563.2h0M122.8 599.3h0M115.3 586.4h0M123.2 585.7h0M124.9 626.4h0M111.2 613.3h0M130.1 617.3h0M114.7 588.0h0M117.3 620.1h0M110.0 602.4h0M117.0 574.0h0M126.9 619.3h0M131.6 606.3h0M111.5 612.4h0M111.2 616.9h0M122.0 629.2h0M134.4 614.9h0M110.8 622.5h0M114.0 622.9h0M125.0 568.8h0M110.1 581.1h0M122.8 554.6h0M122.9 563.5h0M121.9 596.2h0M124.5 584.6h0M112.0 601.0h0M128.1 602.0h0M124.3 614.3h0M132.4 602.0h0M128.7 613.6h0M127.2 592.1h0M122.1 592.0h0M116.3 577.4h0M129.3 604.7h0M112.5 579.2h0M114.4 623.8h0M112.0 606.3h0M126.7 609.2h0M122.7 586.6h0M125.7 593.2h0M116.5 580.0h0M109.8 614.3h0M123.8 568.2h0M124.9 570.7h0M127.3 612.7h0M132.4 607.0h0M132.0 618.0h0M126.5 616.4h0M124.7 603.8h0M123.0 610.8h0M111.7 596.2h0M110.1 618.8h0M114.3 571.8h0M112.7 623.4h0M126.2 578.4h0M111.4 602.4h0M128.0 609.4h0M115.4 577.1h0M113.4 573.0h0M129.1 616.1h0M107.7 610.9h0M115.0 554.8h0M110.7 585.6h0M115.6 586.3h0M125.0 607.4h0M125.2 585.4h0M128.8 605.0h0M123.6 606.9h0M122.6 592.7h0M130.7 613.0h0M115.7 593.8h0M113.6 566.2h0M127.8 577.3h0M112.2 610.0h0M124.3 600.8h0M100.1 613.7h0M116.9 553.9h0M117.2 585.4h0M124.9 627.3h0M125.2 567.9h0M113.8 557.9h0M118.1 557.2h0M127.1 624.3h0M121.1 629.6h0M123.8 596.7h0M123.9 579.5h0M111.4 596.7h0M131.9 603.0h0M131.5 604.2h0M125.5 574.2h0M113.4 590.2h0M110.8 610.9h0M118.0 578.6h0M117.1 573.5h0M126.1 572.7h0M129.2 598.9h0M124.1 559.5h0M111.5 567.2h0M130.1 570.8h0M112.2 596.1h0M112.9 577.2h0M111.4 577.7h0M131.3 615.0h0M124.8 562.6h0M129.4 605.4h0M111.7 608.4h0M109.3 580.7h0M114.1 568.8h0M123.5 566.5h0M134.5 607.1h0M114.9 603.7h0M130.8 613.4h0M108.1 601.9h0M116.1 571.9h0M114.5 589.4h0M110.5 587.0h0M128.1 612.0h0M130.4 589.1h0M118.7 584.0h0M118.0 576.3h0M110.0 579.4h0M110.9 582.1h0M115.5 575.0h0M116.1 547.6h0M116.9 579.7h0M124.0 583.2h0M111.9 607.8h0M112.4 581.6h0M124.1 573.2h0M128.5 574.8h0M126.0 611.6h0M125.2 572.9h0M113.8 613.7h0M123.0 628.8h0M114.0 599.1h0M124.0 569.1h0M127.7 590.9h0M127.1 595.6h0M127.9 623.8h0M110.8 601.1h0M126.6 597.7h0M122.9 568.0h0M124.8 566.6h0M129.2 603.8h0M113.9 541.4h0M116.8 533.7h0M127.0 588.1h0M117.9 600.8h0M116.8 534.6h0M109.6 621.6h0M113.9 577.0h0M112.7 602.3h0M118.8 594.7h0M130.1 597.5h0M110.8 614.3h0M124.4 566.4h0M123.2 554.9h0M124.8 547.2h0M106.2 611.9h0M113.4 616.2h0M116.6 542.6h0M103.2 603.9h0M126.6 583.3h0M112.4 603.7h0M108.7 594.5h0M117.1 599.5h0M126.1 577.4h0M112.4 589.1h0M123.7 565.6h0M115.2 550.5h0M113.9 594.2h0M119.6 596.9h0M114.4 596.1h0M115.5 579.4h0M136.3 614.3h0M129.8 609.7h0M110.8 606.8h0M109.9 600.1h0M124.6 624.9h0M122.9 555.9h0M112.9 597.5h0M114.7 559.7h0M134.5 609.3h0M128.7 604.0h0M134.6 615.4h0M115.0 616.6h0M117.5 555.7h0M114.1 598.1h0M112.2 613.6h0M130.2 600.9h0M129.1 578.0h0M129.8 608.0h0M106.5 609.9h0M124.3 570.6h0M127.6 566.8h0M117.0 591.1h0M129.6 617.8h0M129.3 623.7h0M130.9 579.8h0M136.0 603.1h0M102.7 606.9h0M127.4 585.4h0M139.6 598.5h0M123.3 605.5h0M123.6 599.0h0M119.4 595.2h0M131.9 594.8h0M127.8 600.1h0M109.3 618.4h0M134.0 603.8h0M137.0 616.1h0M129.2 616.8h0M113.9 583.3h0M117.7 537.2h0M127.0 589.8h0M117.7 544.7h0M111.8 576.4h0M112.1 619.2h0M109.4 580.5h0M130.4 604.6h0M128.6 586.7h0M132.5 600.8h0M112.7 568.4h0M112.7 586.6h0M111.6 620.9h0M130.1 584.3h0M116.2 624.9h0M131.5 597.1h0M124.4 562.1h0M110.9 583.5h0M105.9 621.0h0M126.5 578.1h0M113.9 608.5h0M131.1 612.2h0M129.4 574.7h0M111.9 589.9h0M114.4 601.2h0M118.4 591.8h0M112.9 566.0h0M123.2 589.7h0M124.7 588.4h0M116.2 549.6h0M109.6 610.3h0M106.2 594.2h0M112.2 583.6h0M114.0 542.3h0M115.4 565.8h0M109.6 589.7h0M129.4 620.3h0M118.0 557.9h0M116.5 601.6h0M118.2 554.8h0M109.7 575.2h0M106.5 616.8h0M128.3 582.0h0M128.4 597.1h0M128.8 624.8h0M113.1 581.5h0M108.5 619.8h0M134.4 599.7h0M114.8 567.8h0M113.3 611.8h0M113.1 623.3h0M118.1 583.8h0M134.7 609.3h0M111.3 586.0h0M110.5 616.0h0M111.5 592.0h0M127.4 622.7h0M111.7 609.5h0M112.8 543.3h0M107.7 605.9h0M111.6 598.9h0M123.0 578.6h0M117.4 575.1h0M109.8 613.3h0M115.7 572.9h0M125.3 559.3h0M112.1 575.9h0M124.9 561.3h0M110.9 537.9h0M135.7 607.5h0M114.8 589.8h0M126.2 576.2h0M108.2 602.8h0M127.7 594.5h0M128.7 607.7h0M118.7 576.5h0M129.7 618.1h0M115.0 565.6h0M138.3 595.8h0M110.4 595.1h0M126.8 588.3h0M109.6 587.7h0M130.0 595.2h0M137.4 594.2h0M103.7 607.6h0M111.4 562.3h0M113.8 592.8h0M130.3 599.1h0M122.4 584.6h0M128.8 556.4h0M123.2 558.4h0M111.4 594.1h0M117.7 592.9h0M129.7 606.5h0M118.5 578.1h0M131.4 584.6h0M113.1 603.1h0M126.6 599.6h0M117.4 590.5h0M125.9 610.5h0M122.6 577.5h0M111.2 575.3h0M127.1 590.0h0M118.6 578.6h0M132.8 612.7h0M129.5 582.9h0M110.5 611.9h0M133.0 617.5h0M113.7 610.3h0M116.4 577.1h0M110.6 575.7h0M115.1 588.0h0M111.5 586.7h0M122.6 577.3h0M125.8 563.9h0M112.4 575.3h0M121.9 595.1h0M117.7 575.5h0M126.4 609.7h0M112.4 586.3h0M121.4 603.2h0M128.4 603.4h0M131.5 621.6h0M103.0 601.1h0M127.7 611.3h0M113.9 536.7h0M112.0 559.2h0M116.5 565.3h0M132.2 616.1h0M131.3 596.2h0M123.7 575.9h0M112.2 600.0h0M127.6 566.4h0M119.0 585.8h0M124.4 578.1h0M122.8 564.2h0M118.9 628.7h0M112.5 581.9h0M115.5 594.3h0M113.4 568.6h0M136.3 613.7h0M134.7 610.5h0M118.2 628.1h0M110.9 617.2h0M121.9 597.4h0M127.5 573.0h0M128.5 576.0h0M110.8 575.5h0M129.6 595.8h0M128.5 561.4h0M125.6 626.1h0M113.8 596.7h0M133.2 620.2h0M114.5 554.0h0M108.1 597.6h0M126.4 595.3h0M130.2 593.3h0M111.0 542.6h0M112.7 593.4h0M127.8 608.8h0M123.2 557.4h0M123.4 570.8h0M125.6 574.0h0M115.4 553.4h0M108.7 614.4h0M119.9 629.9h0M112.7 580.9h0M129.0 605.5h0M132.5 614.3h0M112.3 558.3h0M104.1 608.3h0M108.5 620.7h0M111.8 618.7h0M136.9 606.1h0M125.5 576.5h0M118.1 564.4h0M133.5 602.5h0M128.9 568.0h0M105.2 611.0h0M115.4 561.7h0M112.4 606.0h0M116.8 544.7h0M130.1 622.1h0M117.2 552.9h0M105.9 617.5h0M106.0 618.2h0M112.0 580.0h0M118.0 560.9h0M112.3 571.0h0M114.7 625.0h0M132.9 618.9h0M110.1 607.9h0M130.0 621.8h0M125.0 578.7h0M130.2 580.2h0M131.1 620.8h0M127.3 554.1h0M128.4 545.3h0M112.0 580.9h0M112.9 592.3h0M113.3 620.6h0M125.7 588.6h0M115.3 556.1h0M111.0 604.6h0M117.8 547.3h0M112.6 557.3h0M105.1 606.6h0M133.1 605.9h0M110.6 583.7h0M127.1 569.4h0M109.3 616.8h0M110.9 600.0h0M107.5 608.5h0M106.2 597.0h0M125.6 608.2h0M124.5 553.9h0M110.9 569.2h0M108.2 617.9h0M117.6 569.4h0M113.4 599.8h0M111.4 584.3h0M127.0 576.7h0M141.4 612.3h0M127.9 593.0h0M111.7 614.4h0M116.5 574.9h0M90.1 596.4h0M86.1 600.4h0M88.0 601.5h0M89.0 604.1h0M94.1 597.2h0M96.5 600.4h0M79.6 612.4h0M81.2 613.7h0M85.3 613.2h0M88.5 611.6h0M91.7 613.2h0M94.1 610.5h0M93.8 615.6h0M89.8 621.6h0M103.4 620.8h0M144.4 598.3h0M143.6 604.1h0M153.0 604.1h0M154.8 611.1h0M147.7 621.2h0M139.4 612.4h0M116.9 507.2h0M117.7 529.7h0M122.2 532.9h0M124.9 534.0h0M112.2 536.6h0M115.8 537.9h0M126.2 537.4h0M129.7 540.6h0M128.6 539.3h0M109.8 545.8h0" stroke="#BEBEBE" stroke-width="2.2" stroke-linecap="round" fill="none"/>
<path d="M78.4 559.7h0M105.0 546.1h0M107.3 550.3h0M98.6 557.0h0M103.7 557.0h0M96.8 568.6h0M102.6 567.1h0M106.3 563.9h0M107.9 566.6h0M108.5 570.2h0M99.7 573.4h0M107.1 575.8h0M104.8 578.2h0M105.7 578.2h0M98.9 577.7h0M107.6 581.6h0M101.3 585.3h0M96.5 586.7h0M97.1 587.8h0M89.9 588.2h0M89.9 589.1h0M106.8 587.2h0M107.9 588.2h0M106.3 589.4h0M107.3 590.4h0M105.3 590.7h0M103.6 591.7h0M102.1 590.4h0M96.5 592.2h0M104.2 592.5h0M106.6 591.5h0" stroke="#0808FA" stroke-width="2.5" stroke-linecap="round" fill="none"/>
<path d="M132.0 559.9h0M133.0 561.5h0M138.6 561.8h0M137.8 564.6h0M135.2 571.6h0M138.4 574.8h0M139.5 577.2h0M140.0 579.0h0M147.2 577.4h0M145.5 580.3h0M143.7 583.5h0M150.3 582.7h0M141.9 584.0h0M140.2 584.6h0M132.1 584.8h0M133.9 584.1h0M135.8 584.1h0M133.0 586.4h0M134.7 586.7h0M136.6 586.4h0M133.8 588.5h0M135.5 588.8h0M141.3 589.1h0M148.5 587.5h0M135.8 591.2h0M136.3 592.3h0M132.3 586.7h0" stroke="#FA0808" stroke-width="2.5" stroke-linecap="round" fill="none"/>
<rect x="27.60" y="501.10" width="186.20" height="134.20" fill="none" stroke="#1a1a1a" stroke-width="1.2"/>
<path d="M34.7 635.9v2.6M77.6 635.9v2.6M120.5 635.9v2.6M163.4 635.9v2.6M206.3 635.9v2.6M27.0 630.1h-2.6M27.0 601.1h-2.6M27.0 572.2h-2.6M27.0 543.2h-2.6M27.0 514.3h-2.6" stroke="#333" stroke-width="1" fill="none"/>
<text x="34.7" y="647.6" font-size="9.6" text-anchor="middle" fill="#333">-2</text>
<text x="77.6" y="647.6" font-size="9.6" text-anchor="middle" fill="#333">-1</text>
<text x="120.5" y="647.6" font-size="9.6" text-anchor="middle" fill="#333">0</text>
<text x="163.4" y="647.6" font-size="9.6" text-anchor="middle" fill="#333">1</text>
<text x="206.3" y="647.6" font-size="9.6" text-anchor="middle" fill="#333">2</text>
<text x="22.0" y="633.5" font-size="9.8" text-anchor="end" fill="#333">0</text>
<text x="22.0" y="604.5" font-size="9.8" text-anchor="end" fill="#333">1</text>
<text x="22.0" y="575.6" font-size="9.8" text-anchor="end" fill="#333">2</text>
<text x="22.0" y="546.6" font-size="9.8" text-anchor="end" fill="#333">3</text>
<text x="22.0" y="517.7" font-size="9.8" text-anchor="end" fill="#333">4</text>
<text x="53.8" y="664.9" font-size="11.57">log<tspan font-size="7" font-weight="bold" dy="0.8">2</tspan><tspan dy="-0.8">(IVF-Chow/NC-Chow)</tspan></text>
<text transform="translate(9.3 567.0) rotate(-90)" font-size="11.5" text-anchor="middle">-log10(p-value)</text>
<circle cx="55.7" cy="480.5" r="2.5" fill="#1515F5"/><circle cx="106" cy="480.5" r="2.5" fill="#C4C4C4"/><circle cx="168.3" cy="480.5" r="2.5" fill="#F51515"/>
<text x="63.2" y="483.1" font-size="9.2" fill="#222">Down</text>
<text x="113.6" y="483.1" font-size="9.2" fill="#222">Unchanged</text>
<text x="176.6" y="483.1" font-size="9.2" fill="#222">Up</text>
<rect x="259.5" y="497.0" width="191.5" height="138.3" fill="#fff"/>
<path d="M295.5 497.0V635.3M335.6 497.0V635.3M375.8 497.0V635.3M415.9 497.0V635.3M259.5 613.2H451.0M259.5 581.2H451.0M259.5 549.2H451.0M259.5 517.2H451.0" stroke="#F2F2F2" stroke-width="0.8" fill="none"/>
<path d="M275.5 497.0V635.3M315.6 497.0V635.3M355.7 497.0V635.3M395.8 497.0V635.3M435.9 497.0V635.3M259.5 629.2H451.0M259.5 597.2H451.0M259.5 565.2H451.0M259.5 533.2H451.0M259.5 501.2H451.0" stroke="#EBEBEB" stroke-width="1" fill="none"/>
<path d="M351.0 614.7h0M352.7 613.0h0M352.6 582.8h0M360.9 622.7h0M356.7 597.3h0M353.7 589.2h0M359.3 618.2h0M360.9 624.6h0M360.7 614.1h0M362.1 593.9h0M348.5 599.5h0M361.2 620.0h0M365.5 606.5h0M356.6 593.1h0M346.2 607.0h0M361.5 595.4h0M350.0 566.8h0M361.9 592.3h0M367.2 608.5h0M356.7 618.2h0M353.6 610.8h0M355.3 602.3h0M357.4 575.9h0M352.4 585.8h0M355.6 612.1h0M360.0 572.4h0M351.9 604.5h0M353.9 591.6h0M353.3 622.0h0M356.4 622.1h0M355.2 617.5h0M350.3 576.6h0M352.3 592.5h0M363.9 579.8h0M357.6 594.7h0M350.7 607.8h0M359.6 602.0h0M355.8 597.7h0M352.5 578.7h0M378.3 606.2h0M347.7 575.8h0M352.9 596.5h0M361.1 581.5h0M362.3 603.0h0M352.1 591.6h0M347.7 611.1h0M358.2 601.7h0M358.0 616.9h0M360.1 622.3h0M357.8 625.6h0M347.4 591.0h0M358.4 605.2h0M360.3 575.2h0M359.8 581.1h0M359.8 608.9h0M350.6 565.8h0M354.2 597.8h0M349.2 586.5h0M347.6 607.8h0M351.7 617.8h0M354.9 619.0h0M354.4 618.5h0M351.4 597.1h0M368.4 621.7h0M358.5 627.0h0M353.1 581.2h0M359.5 605.5h0M356.5 603.6h0M370.3 596.2h0M352.7 570.8h0M357.7 587.7h0M343.6 598.8h0M348.1 596.3h0M348.7 602.6h0M359.1 567.2h0M352.3 616.4h0M342.2 591.9h0M358.2 599.9h0M354.8 613.1h0M352.0 572.0h0M349.5 585.1h0M357.3 627.7h0M363.1 613.1h0M355.0 628.0h0M363.0 581.7h0M352.2 621.8h0M348.1 624.4h0M349.3 564.2h0M355.2 605.8h0M360.1 612.1h0M355.0 624.9h0M353.3 608.6h0M351.7 609.8h0M352.2 601.7h0M355.6 628.3h0M363.4 620.1h0M354.2 617.2h0M358.0 606.1h0M355.7 612.8h0M352.0 596.6h0M362.3 613.6h0M349.2 574.0h0M360.1 567.7h0M357.1 624.3h0M361.4 617.2h0M351.6 599.5h0M358.8 586.2h0M357.8 624.1h0M348.3 593.2h0M364.8 574.6h0M353.5 578.2h0M357.0 584.4h0M359.5 624.7h0M358.6 565.3h0M342.2 596.5h0M357.2 623.0h0M349.0 615.1h0M354.8 596.1h0M369.5 608.8h0M357.5 605.7h0M350.3 582.0h0M358.2 584.5h0M369.1 607.8h0M352.3 565.7h0M356.2 597.0h0M360.1 566.8h0M354.5 625.3h0M356.1 599.7h0M359.8 590.2h0M355.5 618.0h0M352.7 600.3h0M357.6 613.5h0M355.7 628.8h0M360.5 574.3h0M358.3 593.0h0M350.7 617.4h0M352.4 604.8h0M363.5 582.5h0M350.9 621.5h0M353.9 566.8h0M360.3 570.0h0M359.8 615.5h0M363.1 610.1h0M350.9 622.9h0M348.5 598.0h0M361.1 595.8h0M348.8 575.9h0M355.0 619.8h0M344.4 608.6h0M364.9 599.1h0M362.1 567.8h0M353.0 590.4h0M357.5 588.5h0M352.4 566.0h0M357.9 614.5h0M355.4 614.9h0M373.7 607.0h0M345.5 613.2h0M344.0 594.3h0M359.9 569.0h0M352.4 619.8h0M353.6 602.0h0M354.5 592.6h0M367.5 603.3h0M351.8 573.5h0M364.2 588.6h0M352.4 576.8h0M355.0 621.8h0M357.3 624.0h0M359.4 567.5h0M355.6 627.6h0M346.7 584.8h0M357.1 589.3h0M358.4 574.1h0M354.9 614.3h0M351.9 590.2h0M354.8 615.9h0M356.5 623.5h0M353.4 588.0h0M352.9 625.4h0M359.2 591.2h0M352.3 613.7h0M359.1 603.6h0M366.1 615.6h0M360.9 604.6h0M354.5 610.3h0M347.3 618.1h0M355.7 604.3h0M352.9 618.5h0M354.3 584.0h0M362.7 596.5h0M356.8 613.7h0M359.0 565.9h0M351.8 610.8h0M365.8 593.0h0M351.0 588.9h0M359.2 575.7h0M359.3 619.0h0M355.3 619.8h0M356.2 606.5h0M358.1 597.5h0M351.4 562.5h0M364.4 567.4h0M361.8 562.8h0M355.8 615.5h0M357.8 606.3h0M350.6 624.0h0M358.5 619.1h0M365.5 610.2h0M358.2 622.9h0M354.1 619.9h0M355.4 625.2h0M360.4 596.0h0M342.8 603.3h0M355.7 601.5h0M356.6 593.8h0M352.8 571.4h0M364.6 610.4h0M355.4 594.6h0M354.1 616.7h0M353.6 570.5h0M355.2 596.3h0M353.4 619.6h0M343.9 615.0h0M355.1 619.5h0M359.6 618.6h0M359.7 612.6h0M360.3 582.1h0M367.7 605.2h0M364.4 614.0h0M352.9 607.2h0M362.0 614.5h0M356.4 624.4h0M358.8 613.5h0M364.5 611.9h0M352.4 588.5h0M369.6 618.6h0M354.0 612.9h0M347.8 587.3h0M357.1 609.9h0M352.5 594.0h0M364.4 616.8h0M354.2 626.9h0M354.4 611.9h0M357.0 585.6h0M352.1 580.9h0M353.1 580.0h0M359.0 601.7h0M344.3 606.1h0M354.9 616.6h0M353.8 575.6h0M352.3 612.9h0M364.0 569.9h0M357.2 621.9h0M357.0 606.6h0M355.0 605.9h0M340.2 610.8h0M355.0 603.3h0M350.4 612.4h0M354.4 589.5h0M360.3 604.9h0M361.7 615.9h0M350.9 619.2h0M355.7 621.3h0M348.6 582.8h0M353.9 592.0h0M358.3 609.1h0M368.7 608.5h0M357.4 597.1h0M358.1 573.3h0M362.5 572.9h0M364.8 603.9h0M359.9 593.8h0M363.0 600.5h0M358.8 612.5h0M362.0 605.4h0M361.1 589.7h0M361.6 600.1h0M354.5 603.6h0M351.5 568.9h0M350.9 585.8h0M356.2 620.9h0M347.7 582.8h0M359.9 573.1h0M348.5 582.6h0M349.1 610.9h0M355.9 609.7h0M358.4 624.5h0M356.1 604.4h0M362.1 586.3h0M349.9 593.6h0M350.8 580.0h0M347.5 593.8h0M356.2 616.5h0M350.6 583.7h0M357.5 609.7h0M358.0 611.7h0M352.7 622.7h0M352.8 589.1h0M360.7 577.9h0M374.1 607.5h0M347.6 585.5h0M352.6 624.7h0M357.7 600.5h0M358.7 620.9h0M354.2 596.9h0M359.0 620.3h0M348.7 596.2h0M360.0 620.9h0M357.2 585.4h0M359.8 605.4h0M361.9 591.7h0M346.4 577.5h0M358.2 617.5h0M349.9 583.6h0M358.2 594.6h0M365.3 592.3h0M350.2 587.8h0M353.9 576.9h0M349.0 572.8h0M354.1 615.0h0M351.8 619.3h0M353.7 575.4h0M353.7 617.5h0M370.1 616.6h0M358.5 583.5h0M352.0 567.0h0M358.8 580.2h0M350.5 602.0h0M354.0 609.3h0M353.4 588.7h0M349.2 595.6h0M351.5 617.9h0M350.2 615.9h0M352.7 598.4h0M356.9 617.5h0M348.7 600.4h0M358.0 569.3h0M354.0 578.5h0M363.0 615.5h0M352.8 573.3h0M359.0 608.1h0M368.8 601.7h0M344.2 611.8h0M361.8 556.1h0M347.5 612.6h0M358.5 596.2h0M359.5 591.9h0M355.6 622.1h0M354.4 600.9h0M363.8 559.3h0M354.1 599.5h0M357.8 611.5h0M358.0 626.6h0M351.2 625.0h0M357.4 576.8h0M352.9 615.0h0M345.9 604.3h0M358.0 620.0h0M351.7 594.5h0M359.5 581.6h0M349.6 609.5h0M356.4 626.7h0M352.3 592.8h0M361.2 599.1h0M358.0 580.6h0M360.3 587.5h0M351.6 581.7h0M358.5 582.0h0M339.3 588.0h0M353.8 606.0h0M354.8 626.5h0M360.4 623.0h0M357.8 607.7h0M361.2 579.7h0M363.7 618.8h0M347.3 584.1h0M359.2 558.9h0M357.2 625.7h0M354.6 606.9h0M348.7 589.0h0M362.2 613.9h0M352.0 583.2h0M343.7 609.5h0M352.7 617.6h0M358.8 596.6h0M347.2 580.8h0M362.8 593.5h0M346.6 598.8h0M354.2 590.8h0M353.9 625.2h0M357.3 593.9h0M362.4 584.6h0M356.3 627.4h0M348.2 575.5h0M357.9 572.6h0M352.3 607.8h0M364.0 601.9h0M367.6 604.5h0M351.5 576.6h0M366.8 596.7h0M349.4 571.4h0M348.3 572.3h0M358.7 599.0h0M356.2 628.4h0M356.8 586.4h0M352.2 570.0h0M356.5 625.2h0M362.9 590.6h0M362.8 586.3h0M371.7 600.7h0M356.4 622.5h0M353.5 583.0h0M368.8 612.0h0M355.6 613.5h0M360.3 566.1h0M355.4 622.5h0M361.6 606.3h0M350.7 592.9h0M350.8 597.2h0M348.6 620.3h0M348.7 617.1h0M357.1 598.9h0M337.3 606.6h0M356.5 620.2h0M353.9 582.0h0M357.8 604.0h0M359.4 578.3h0M359.5 605.2h0M362.6 591.7h0M357.4 601.8h0M356.4 592.3h0M350.8 575.4h0M366.1 585.7h0M359.9 597.9h0M348.5 616.6h0M357.5 583.0h0M347.2 585.3h0M356.9 603.7h0M359.6 579.6h0M346.5 591.5h0M360.7 615.7h0M364.1 598.1h0M346.2 571.0h0M352.4 616.7h0M340.7 602.3h0M357.9 586.7h0M354.8 609.7h0M369.6 620.3h0M347.1 602.2h0M351.2 620.2h0M351.3 591.6h0M358.2 570.6h0M348.0 587.6h0M361.6 590.3h0M358.2 586.2h0M360.9 578.5h0M350.1 604.6h0M362.4 583.0h0M354.8 587.6h0M357.6 573.2h0M363.4 575.9h0M363.3 598.0h0M351.0 618.5h0M358.6 571.8h0M355.3 593.5h0M365.3 587.1h0M359.6 585.8h0M346.6 610.8h0M356.9 603.1h0M368.6 597.7h0M350.4 579.3h0M351.2 593.9h0M346.3 582.2h0M357.6 596.2h0M354.0 571.5h0M352.1 601.1h0M366.1 592.9h0M350.1 569.6h0M357.8 612.7h0M355.9 603.2h0M350.2 585.0h0M353.4 579.9h0M365.6 608.4h0M360.1 580.2h0M353.2 574.7h0M352.4 608.2h0M350.6 574.1h0M356.2 612.5h0M344.8 597.7h0M352.1 564.6h0M362.1 602.2h0M352.5 603.4h0M359.8 592.6h0M352.5 600.8h0M362.4 612.1h0M353.9 618.1h0M352.0 562.9h0M352.4 596.2h0M357.3 611.2h0M361.0 594.3h0M353.9 615.8h0M354.2 575.5h0M364.8 600.7h0M366.0 592.4h0M354.3 593.5h0M356.8 619.4h0M354.1 580.1h0M346.5 620.2h0M352.7 599.1h0M343.9 601.4h0M350.8 609.3h0M348.0 606.7h0M356.4 595.6h0M347.3 600.0h0M358.1 608.5h0M348.9 600.4h0M353.7 595.6h0M355.2 616.9h0M355.1 624.5h0M358.3 567.6h0M357.5 590.9h0M351.1 563.3h0M354.6 621.2h0M351.5 608.0h0M351.9 623.0h0M338.5 615.3h0M352.4 622.2h0M357.6 607.3h0M353.7 597.8h0M359.0 600.4h0M353.6 601.0h0M349.3 561.2h0M352.7 563.7h0M362.7 615.0h0M361.4 608.1h0M358.6 622.3h0M351.7 620.1h0M367.6 599.4h0M359.6 563.0h0M354.0 622.6h0M359.0 577.2h0M354.7 594.9h0M353.6 607.2h0M360.3 616.2h0M351.2 616.0h0M362.0 616.1h0M355.1 623.8h0M362.7 607.1h0M350.2 570.6h0M340.4 591.1h0M356.4 591.1h0M356.5 588.7h0M363.1 620.8h0M345.4 592.0h0M357.1 593.2h0M356.9 619.4h0M346.4 595.2h0M351.0 583.1h0M351.4 614.0h0M351.4 610.4h0M347.3 622.7h0M359.2 616.0h0M343.1 617.3h0M350.0 623.4h0M361.7 570.0h0M351.9 600.2h0M358.6 610.5h0M352.6 609.6h0M351.1 571.8h0M350.2 619.7h0M357.3 619.9h0M358.8 607.3h0M353.0 605.4h0M361.6 620.8h0M341.6 603.3h0M361.1 577.3h0M349.9 620.8h0M352.8 618.8h0M358.2 590.7h0M359.3 588.5h0M352.4 559.6h0M358.1 588.2h0M356.0 611.6h0M347.9 583.9h0M358.3 599.2h0M358.8 610.0h0M353.3 569.7h0M348.8 592.2h0M360.0 619.6h0M362.2 621.5h0M356.8 600.3h0M344.9 614.1h0M351.2 586.5h0M355.4 595.4h0M359.1 623.8h0M356.5 602.8h0M353.7 603.6h0M360.8 607.4h0M357.2 601.2h0M347.6 579.0h0M353.2 568.8h0M357.6 575.5h0M350.2 586.2h0M364.6 613.0h0M358.1 620.8h0M340.5 606.6h0M360.0 617.7h0M356.4 602.3h0M351.1 564.3h0M351.3 604.9h0M350.3 613.2h0M351.2 606.4h0M367.7 599.7h0M357.3 579.4h0M352.8 594.8h0M361.9 603.2h0M352.9 615.8h0M363.6 588.7h0M354.2 578.4h0M353.4 581.7h0M363.9 583.9h0M363.9 592.0h0M351.2 608.7h0M349.6 607.4h0M336.5 614.4h0M354.3 585.2h0M350.6 603.2h0M349.6 606.0h0M358.6 563.3h0M360.0 599.3h0M348.6 569.2h0M336.7 594.6h0M347.8 614.1h0M353.2 604.1h0M366.1 581.9h0M350.5 604.0h0M350.4 573.8h0M368.8 620.8h0M360.6 610.1h0M351.4 572.2h0M360.5 598.6h0M359.9 584.0h0M375.4 607.5h0M358.8 579.9h0M353.9 572.9h0M364.6 578.9h0M362.4 584.0h0M361.0 616.9h0M360.2 562.0h0M356.6 609.4h0M357.8 597.0h0M350.9 567.2h0M352.0 568.3h0M356.0 605.9h0M360.8 605.5h0M363.8 578.0h0M351.3 616.4h0M351.6 615.2h0M346.6 608.7h0M350.7 605.4h0M349.1 616.6h0M358.6 618.7h0M356.7 610.9h0M359.3 570.3h0M362.8 597.9h0M346.9 572.4h0M350.2 614.1h0M354.3 581.9h0M343.8 603.9h0M351.1 601.4h0M355.6 604.6h0M351.8 625.0h0M362.3 576.8h0M354.9 594.2h0M357.5 599.7h0M360.0 599.9h0M351.7 606.5h0M362.1 610.6h0M354.3 623.4h0M350.3 597.4h0M353.7 563.9h0M353.0 576.0h0M344.2 610.0h0M361.1 617.4h0M349.6 563.2h0M357.5 612.9h0M361.5 581.0h0M353.5 626.2h0M351.1 573.0h0M339.1 612.7h0M358.8 616.7h0M363.6 589.8h0M359.0 578.0h0M352.0 595.4h0M361.9 582.5h0M350.1 603.3h0M358.2 577.5h0M359.9 589.6h0M347.5 599.1h0M348.3 591.3h0M361.2 584.8h0M359.7 598.5h0M355.5 607.4h0M365.7 602.4h0M353.3 627.8h0M361.2 618.8h0M354.4 611.0h0M363.4 596.8h0M345.3 611.3h0M355.5 608.8h0M352.6 610.8h0M344.5 607.6h0M353.9 583.7h0M361.6 570.6h0M365.6 586.0h0M363.2 588.1h0M363.9 608.5h0M364.3 615.1h0M366.8 602.4h0M351.0 570.9h0M364.1 563.0h0M351.9 614.3h0M347.4 602.9h0M350.3 590.1h0M359.1 621.8h0M370.6 606.7h0M352.4 611.9h0M350.8 578.8h0M355.2 626.5h0M361.2 612.3h0M349.1 570.7h0M362.5 618.1h0M354.2 576.1h0M355.4 598.3h0M351.4 601.8h0M357.6 571.2h0M361.0 614.8h0M366.7 599.4h0M357.4 578.1h0M348.8 615.6h0M348.8 573.2h0M359.0 611.8h0M364.5 573.2h0M359.0 589.3h0M361.5 596.8h0M354.3 585.7h0M367.1 612.4h0M358.5 567.4h0M356.1 615.5h0M352.1 574.9h0M366.0 597.6h0M361.8 609.0h0M347.4 605.4h0M352.6 586.9h0M353.6 585.4h0M342.6 602.0h0M362.5 616.5h0M348.1 621.4h0M350.1 575.3h0M345.6 615.2h0M340.8 604.4h0M360.6 618.7h0M362.7 598.3h0M347.8 565.5h0M357.8 589.2h0M347.7 606.8h0M348.3 564.1h0M354.9 607.2h0M365.0 601.4h0M336.6 596.5h0M352.2 583.9h0M362.3 568.0h0M357.7 568.4h0M348.8 608.0h0M352.6 620.6h0M359.4 622.5h0M354.5 600.5h0M353.7 621.4h0M360.6 587.3h0M349.1 582.1h0M357.8 592.2h0M353.8 623.4h0M346.1 609.7h0M352.1 585.5h0M350.0 605.9h0M361.5 588.1h0M351.4 581.9h0M349.5 623.1h0M357.1 590.0h0M348.8 620.5h0M359.3 609.4h0M352.8 584.9h0M365.3 558.1h0M365.9 620.5h0M347.3 616.0h0M358.6 578.8h0M350.4 578.7h0M357.1 614.7h0M361.6 604.4h0M359.7 588.6h0M355.0 591.2h0M365.9 598.9h0M358.7 606.3h0M345.5 569.2h0M347.9 607.3h0M350.4 616.5h0M362.7 579.9h0M346.8 601.0h0M354.8 614.0h0M365.9 605.1h0M349.8 596.3h0M363.9 562.2h0M360.3 591.4h0M361.2 621.8h0M351.2 595.9h0M353.5 592.7h0M366.3 606.2h0M362.6 617.6h0M365.3 590.1h0M354.1 624.6h0M361.1 564.3h0M361.4 580.8h0M356.3 600.8h0M366.5 603.9h0M344.5 621.4h0M352.8 613.6h0M353.5 590.2h0M352.0 578.5h0M349.5 593.6h0M361.5 573.1h0M363.1 606.1h0M341.3 603.5h0M354.6 602.1h0M346.8 614.5h0M353.7 568.1h0M352.8 592.4h0M353.8 627.1h0M360.1 570.4h0M363.0 619.5h0M351.3 568.6h0M347.1 589.8h0M353.0 574.5h0M360.2 577.2h0M349.7 607.1h0M350.0 619.0h0M348.3 622.0h0M361.3 594.5h0M360.3 604.1h0M352.3 560.5h0M360.1 595.2h0M365.4 617.4h0M340.8 592.2h0M361.0 620.7h0M371.2 602.0h0M360.8 568.2h0M359.8 574.6h0M353.4 610.6h0M360.1 611.1h0M352.6 565.2h0M360.8 559.2h0M340.0 607.3h0M363.8 600.4h0M348.9 583.0h0M349.0 617.6h0M367.7 608.3h0M357.5 570.3h0M373.4 589.0h0M358.3 579.7h0M351.4 576.3h0M351.5 588.1h0M362.6 572.6h0M362.6 608.8h0M346.6 594.2h0M360.7 580.1h0M347.5 571.9h0M357.4 621.4h0M345.2 606.0h0M350.3 599.5h0M349.1 578.2h0M343.4 620.2h0M351.2 568.0h0M359.9 603.3h0M352.7 623.8h0M347.4 578.2h0M359.1 594.6h0M350.1 564.5h0M361.6 586.8h0M357.5 616.0h0M348.1 610.7h0M348.9 606.6h0M361.7 575.2h0M340.6 613.9h0M369.6 589.4h0M343.2 598.1h0M347.1 593.2h0M363.6 610.9h0M358.8 586.9h0M351.5 612.1h0M341.0 619.0h0M353.0 587.6h0M354.1 600.3h0M359.9 601.0h0M351.4 592.5h0M347.5 600.9h0M351.4 620.6h0M353.5 613.6h0M357.2 586.6h0M356.3 617.0h0M350.9 598.3h0M350.3 591.9h0M359.2 614.7h0M342.9 616.1h0M361.3 613.2h0M354.4 608.5h0M360.8 559.8h0M364.8 603.0h0M347.2 595.1h0M354.4 583.5h0M358.3 593.6h0M359.0 596.0h0M360.0 597.0h0M371.8 607.0h0M352.0 577.9h0M345.2 609.4h0M350.3 576.4h0M360.8 608.1h0M367.2 594.0h0M360.6 583.6h0M354.2 578.2h0M351.0 590.8h0M352.3 603.9h0M359.6 625.8h0M357.4 582.5h0M357.9 591.3h0M349.5 578.4h0M357.3 616.4h0M361.0 611.4h0M344.8 603.7h0M349.8 600.1h0M361.1 600.7h0M359.2 574.2h0M357.9 598.7h0M358.2 601.3h0M363.5 607.4h0M358.2 568.6h0M348.6 612.1h0M357.2 618.1h0M360.7 606.5h0M352.1 570.9h0M366.4 611.5h0M350.0 610.2h0M352.7 582.1h0M362.1 604.2h0M364.9 576.0h0M360.4 584.8h0M352.4 580.9h0M343.3 610.0h0M360.1 623.3h0M352.5 591.4h0M348.8 580.5h0M354.0 585.9h0M363.6 605.9h0M347.1 620.8h0M360.7 591.9h0M358.6 603.2h0M346.0 617.8h0M352.3 598.2h0M362.3 600.9h0M352.5 569.6h0M357.5 608.6h0M362.8 606.2h0M373.4 607.3h0M348.6 624.1h0M350.3 571.2h0M343.1 594.5h0M345.4 618.5h0M359.6 592.8h0M354.0 611.7h0M356.0 610.6h0M359.3 597.3h0M359.2 564.0h0M360.9 591.2h0M353.8 560.7h0M361.7 611.6h0M345.5 597.4h0M351.8 588.4h0M346.9 589.8h0M344.7 604.9h0M349.7 581.2h0M356.3 614.4h0M346.1 574.6h0M348.4 594.7h0M350.4 586.7h0M357.7 578.5h0M348.7 615.7h0M358.1 563.9h0M364.6 572.0h0M354.7 604.6h0M353.7 594.3h0M351.1 560.0h0M367.8 590.4h0M349.0 620.8h0M352.5 583.9h0M353.7 604.6h0M349.0 609.9h0M349.5 613.0h0M352.4 610.5h0M361.2 603.8h0M359.9 606.6h0M348.3 568.0h0M345.5 595.1h0M353.8 606.7h0M358.7 571.2h0M350.0 595.0h0M369.1 609.1h0M360.6 602.4h0M353.2 577.4h0M366.2 618.2h0M353.5 566.1h0M359.0 562.1h0M349.6 604.6h0M348.8 590.9h0M355.2 599.6h0M361.4 601.3h0M351.9 609.7h0M349.1 599.8h0M358.9 594.1h0M357.3 592.1h0M363.1 609.1h0M347.9 609.8h0M359.5 584.8h0M343.9 611.1h0M350.6 594.5h0M369.1 618.4h0M349.2 595.0h0M351.7 561.5h0M360.7 570.6h0M351.3 561.4h0M352.9 558.6h0M352.1 581.9h0M364.7 596.3h0M350.3 592.7h0M362.0 599.2h0M358.1 575.4h0M359.0 588.1h0M365.4 602.8h0M348.8 589.3h0M362.7 580.2h0M357.2 604.8h0M354.4 598.3h0M350.7 577.0h0M349.7 601.6h0M341.8 588.1h0M350.0 588.7h0M363.1 593.7h0M343.1 592.2h0M352.1 621.4h0M364.6 590.1h0M349.2 560.2h0M366.8 592.6h0M355.4 610.6h0M358.4 587.9h0M366.8 616.1h0M348.0 578.4h0M339.8 599.9h0M352.9 607.0h0M348.1 618.7h0M352.1 623.8h0M345.2 602.3h0M347.4 609.1h0M344.4 610.2h0M345.1 614.5h0M357.8 616.0h0M348.7 584.6h0M342.8 612.8h0M349.0 579.6h0M357.4 569.3h0M345.6 616.1h0M363.2 617.2h0M360.4 608.3h0M356.9 612.4h0M349.3 590.5h0M360.1 577.4h0M364.0 614.0h0M359.9 571.4h0M346.3 564.7h0M363.3 585.8h0M361.2 569.0h0M359.9 614.2h0M378.2 602.2h0M345.6 570.5h0M351.6 598.0h0M352.2 625.9h0M345.7 608.0h0M338.2 594.4h0M365.8 595.8h0M352.3 586.9h0M360.4 578.7h0M358.9 568.6h0M359.4 593.5h0M357.9 561.8h0M352.1 579.2h0M361.4 580.0h0M365.0 569.5h0M357.5 565.0h0M364.4 605.0h0M360.6 576.4h0M356.8 608.3h0M347.8 605.2h0M363.9 622.3h0M353.7 569.2h0M348.5 593.9h0M348.4 613.8h0M360.7 590.1h0M349.0 588.8h0M360.7 586.8h0M350.9 557.7h0M360.5 557.6h0M361.5 571.6h0M353.4 562.9h0M349.7 610.7h0M358.7 565.3h0M347.9 605.4h0M352.2 574.5h0M354.1 597.0h0M350.6 577.6h0M357.4 580.4h0M362.0 610.9h0M356.4 590.7h0M349.4 581.7h0M363.3 604.0h0M349.2 612.1h0M358.3 560.9h0M369.5 598.3h0M354.7 599.5h0M360.5 575.3h0M343.0 592.7h0M363.1 578.2h0M344.4 611.9h0M361.7 607.4h0M348.8 567.3h0M350.9 599.8h0M359.8 583.0h0M369.0 613.8h0M366.1 609.6h0M353.4 598.6h0M353.1 572.6h0M367.0 614.2h0M359.5 573.0h0M364.4 605.5h0M359.6 586.7h0M350.9 612.0h0M366.0 591.3h0M361.3 567.3h0M362.7 611.2h0M348.0 614.7h0M351.7 589.7h0M346.6 605.6h0M346.0 604.8h0M346.8 590.7h0M364.0 601.1h0M361.5 613.2h0M344.7 592.0h0M357.4 572.0h0M344.4 618.5h0M363.6 602.7h0M363.3 615.5h0M345.3 610.4h0M370.6 592.1h0M360.5 561.3h0M346.5 603.8h0M345.2 575.0h0M361.1 557.0h0M361.4 579.0h0M348.3 581.5h0M347.5 576.6h0M342.4 618.5h0M351.3 589.5h0M370.6 587.7h0M347.6 617.8h0M358.6 581.6h0M349.9 606.6h0M353.2 560.9h0M349.5 613.4h0M351.7 576.3h0M373.0 591.9h0M357.5 597.6h0M357.4 567.6h0M347.4 614.4h0M350.2 617.2h0M345.7 612.1h0M342.0 608.9h0M335.0 593.8h0M362.2 584.8h0M336.9 588.6h0M347.5 608.5h0M349.3 584.4h0M347.6 582.7h0M364.4 595.7h0M363.0 587.6h0M350.1 614.8h0M347.3 573.5h0M347.9 603.7h0M340.3 606.0h0M354.6 586.4h0M361.4 583.4h0M364.5 615.3h0M367.0 591.2h0M347.9 577.4h0M358.0 566.1h0M359.5 617.7h0M351.3 612.7h0M363.9 574.7h0M349.8 578.2h0M359.5 601.5h0M358.8 570.1h0M360.7 588.7h0M358.7 598.9h0M365.2 591.7h0M365.3 573.4h0M346.8 568.8h0M363.8 585.1h0M359.2 611.0h0M354.0 586.6h0M362.5 574.2h0M357.9 613.6h0M349.5 585.9h0M342.3 607.6h0M363.3 591.2h0M346.2 604.5h0M366.1 597.0h0M349.4 575.1h0M364.9 589.3h0M365.1 604.1h0M343.5 618.4h0M363.2 568.3h0M355.2 611.0h0M345.5 595.9h0M351.8 584.7h0M347.8 560.7h0M364.2 586.4h0M360.0 620.4h0M362.2 594.6h0M349.2 592.7h0M360.9 584.3h0M351.7 571.9h0M361.4 593.5h0M350.0 595.8h0M351.2 565.6h0M348.4 608.7h0M362.1 567.2h0M353.3 564.8h0M343.1 588.2h0M353.2 601.7h0M340.3 596.7h0M335.9 597.9h0M347.0 592.1h0M349.5 619.2h0M349.2 587.7h0M364.5 587.5h0M354.2 579.5h0M367.4 616.0h0M358.4 575.8h0M350.4 583.7h0M338.8 599.2h0M365.8 616.6h0M362.5 566.5h0M361.8 622.6h0M344.3 620.5h0M364.7 621.8h0M371.3 618.3h0M364.4 617.7h0M365.5 612.4h0M346.5 612.0h0M355.8 600.2h0M364.5 607.7h0M358.9 590.4h0M345.6 575.6h0M346.4 617.1h0M372.5 596.8h0M368.6 588.0h0M346.5 567.1h0M367.5 604.3h0M359.3 602.6h0M350.4 573.6h0M356.5 607.1h0M356.1 598.5h0M353.2 557.6h0M355.2 606.6h0M366.4 600.1h0M364.1 592.7h0M361.3 565.7h0M357.3 574.5h0M352.1 593.8h0M354.8 622.4h0M363.2 618.2h0M360.3 607.1h0M343.3 606.5h0M365.0 598.7h0M352.9 567.7h0M350.5 580.9h0M344.2 607.1h0M356.8 586.1h0M345.0 595.0h0M358.9 557.1h0M366.2 607.6h0M364.2 566.1h0M349.5 602.5h0M340.0 608.9h0M348.4 564.8h0M362.2 566.3h0M374.8 609.3h0M363.4 610.5h0M365.9 609.8h0M353.3 594.7h0M360.1 610.0h0M371.8 598.5h0M367.2 595.7h0M351.2 580.6h0M360.5 596.4h0M361.1 585.6h0M352.5 593.3h0M360.0 558.5h0M362.6 588.4h0M349.9 609.6h0M373.4 603.6h0M342.2 594.0h0M360.5 623.8h0M346.7 595.6h0M363.9 612.3h0M360.8 601.3h0M358.5 585.4h0M349.4 597.7h0M343.4 615.9h0M361.4 597.6h0M346.2 609.9h0M352.4 597.3h0M351.3 625.1h0M367.9 589.5h0M344.7 609.2h0M372.1 608.3h0M345.9 599.8h0M361.0 609.5h0M365.3 620.1h0M366.2 587.1h0M352.8 567.1h0M362.7 563.0h0M363.2 595.2h0M341.0 600.4h0M353.2 562.0h0M371.8 595.4h0M344.2 606.1h0M364.9 601.4h0M353.0 626.0h0M346.2 584.3h0M350.4 608.7h0M341.5 612.6h0M353.3 558.4h0M341.2 588.8h0M358.7 559.6h0M363.1 594.9h0M345.6 621.1h0M346.0 596.7h0M363.4 567.3h0M339.9 598.7h0M340.8 597.3h0M350.7 585.3h0M343.2 595.6h0M350.2 622.9h0M363.0 599.4h0M348.1 605.0h0M358.2 577.3h0M340.9 593.6h0M358.9 560.6h0M358.9 584.3h0M349.3 624.1h0M351.8 603.2h0M344.4 606.7h0M368.5 598.5h0M357.7 558.2h0M357.8 562.9h0M369.6 611.4h0M362.5 604.7h0M359.9 563.9h0M359.7 559.8h0M354.3 589.0h0M368.1 603.5h0M349.0 621.5h0M345.8 577.6h0M367.8 617.4h0M363.4 620.7h0M364.8 583.6h0M349.6 603.4h0M351.7 605.9h0M345.4 603.4h0M344.2 616.1h0M339.1 616.9h0M354.0 603.4h0M370.9 612.6h0M348.2 612.7h0M363.3 623.6h0M364.2 609.2h0M365.6 607.7h0M373.9 605.8h0M360.6 582.6h0M365.4 614.6h0M365.6 605.1h0M354.2 581.1h0M355.1 592.2h0M365.2 598.0h0M356.3 595.1h0M363.9 616.6h0M353.5 574.3h0M346.4 575.1h0M361.7 576.9h0M361.3 603.4h0M341.4 600.9h0M362.4 595.4h0M347.7 590.7h0M361.8 618.1h0M341.7 603.9h0M350.4 572.3h0M356.7 588.1h0M347.4 562.2h0M360.4 614.5h0M362.9 624.1h0M361.6 574.5h0M365.2 610.8h0M358.8 583.2h0M357.5 581.8h0M365.3 612.6h0M353.9 572.8h0M339.4 606.6h0M349.8 565.9h0M361.8 598.3h0M348.6 576.7h0M338.7 596.3h0M348.6 602.5h0M346.5 620.8h0M368.5 595.1h0M346.6 613.8h0M351.0 610.7h0M363.3 614.7h0M363.5 586.4h0M343.7 597.2h0M370.4 607.8h0M368.9 603.0h0M362.7 589.9h0M362.9 571.8h0M351.5 564.9h0M364.2 594.9h0M366.3 617.6h0M371.9 605.1h0M360.6 597.7h0M356.7 589.3h0M340.9 596.2h0M362.3 582.3h0M339.4 618.0h0M363.5 606.5h0M349.8 591.7h0M350.5 568.0h0M362.5 604.0h0M346.0 574.3h0M339.3 618.9h0M353.8 563.5h0M371.7 599.7h0M360.5 571.5h0M362.2 564.3h0M361.0 569.9h0M362.1 568.9h0M346.3 600.7h0M362.8 602.5h0M348.1 566.6h0M362.1 577.6h0M344.1 608.3h0M347.3 623.3h0M373.5 605.2h0M349.6 596.9h0M368.8 596.7h0M362.6 567.4h0M348.3 573.3h0M365.0 600.6h0M367.8 603.2h0M348.6 573.9h0M366.7 615.0h0M343.6 592.2h0M363.8 581.7h0M363.4 580.1h0M346.5 607.3h0M349.0 565.0h0M358.8 575.3h0M342.5 610.9h0M362.0 589.7h0M346.5 587.3h0M348.6 590.2h0M373.2 598.5h0M347.7 567.4h0M341.3 612.4h0M350.9 587.8h0M361.1 592.7h0M364.5 580.5h0M348.3 562.7h0M348.3 592.2h0M346.7 602.0h0M369.5 614.6h0M365.1 619.3h0M354.9 628.7h0M345.0 595.5h0M362.5 621.9h0M360.6 626.2h0M350.5 562.1h0M365.0 589.5h0M357.2 626.1h0M377.3 596.5h0M345.0 599.4h0M347.9 579.2h0M374.1 592.2h0M345.9 598.8h0M361.8 588.4h0M335.7 602.7h0M362.0 576.2h0M342.7 590.1h0M362.0 625.4h0M345.7 590.8h0M348.7 598.1h0M362.7 565.3h0M362.6 576.1h0M343.7 593.3h0M364.4 606.3h0M365.8 563.5h0M347.6 575.4h0M360.9 563.0h0M349.7 622.1h0M338.0 605.2h0M344.1 591.2h0M361.2 572.9h0M354.3 580.1h0M364.2 591.6h0M344.7 602.5h0M340.5 608.7h0M346.5 596.9h0M346.2 582.8h0M347.9 609.5h0M363.3 583.5h0M364.5 620.9h0M342.4 608.0h0M361.7 560.2h0M359.6 624.3h0M362.4 575.3h0M350.0 568.5h0M365.7 581.6h0M351.1 559.0h0M370.3 602.0h0M347.2 616.3h0M363.4 612.5h0M359.4 581.9h0M365.1 580.9h0M351.4 581.6h0M347.3 570.2h0M344.5 610.8h0M339.6 607.3h0M345.9 587.1h0M344.8 598.4h0M344.9 588.7h0M363.7 599.3h0M348.2 570.0h0M364.7 597.5h0M364.9 611.0h0M366.2 611.7h0M342.3 613.4h0M348.0 575.7h0M347.3 612.3h0M348.1 563.2h0M363.8 596.1h0M347.8 564.3h0M365.6 585.0h0M347.3 610.6h0M347.3 597.6h0M355.3 594.3h0M369.7 612.1h0M350.7 600.1h0M364.1 608.1h0M347.5 618.8h0M347.9 622.6h0M366.3 596.0h0M343.8 619.1h0M350.3 502.7h0M351.4 519.9h0M352.2 531.6h0M364.2 517.8h0M364.7 532.3h0M359.9 533.1h0M362.6 537.1h0M347.1 538.4h0M350.6 537.1h0M353.0 537.6h0M357.8 539.6h0M358.1 541.6h0M346.2 543.2h0M351.1 544.8h0M364.2 544.0h0M345.4 546.7h0M353.0 548.0h0M356.2 549.6h0M359.7 552.0h0M351.9 552.0h0M347.9 555.7h0M351.9 557.6h0M357.0 556.8h0M364.6 558.8h0M365.0 556.0h0M308.0 615.1h0M315.7 609.8h0M323.3 610.6h0M328.6 609.3h0M332.9 607.9h0M329.4 614.6h0M323.8 599.4h0M327.3 600.5h0M330.5 595.8h0M328.1 591.4h0M330.5 592.2h0M336.9 588.1h0M338.5 591.4h0M343.0 622.2h0M369.1 623.1h0M379.5 614.6h0M381.9 603.4h0M377.1 596.2h0M388.0 594.1h0M379.8 590.5h0M371.5 588.1h0" stroke="#BEBEBE" stroke-width="2.2" stroke-linecap="round" fill="none"/>
<path d="M331.8 513.1h0M342.1 511.5h0M338.1 541.1h0M341.4 543.5h0M344.5 552.3h0M343.0 558.8h0M334.2 561.8h0M344.5 565.2h0M314.1 569.4h0M339.0 573.2h0M341.8 576.9h0M336.9 580.9h0M338.5 580.1h0M339.3 583.0h0M337.4 582.5h0M336.1 583.8h0M335.0 586.1h0M329.4 586.2h0M340.1 583.3h0M342.6 583.3h0M343.4 586.5h0M340.9 581.7h0" stroke="#0808FA" stroke-width="2.5" stroke-linecap="round" fill="none"/>
<path d="M366.3 509.5h0M365.8 522.6h0M375.5 525.2h0M365.8 528.7h0M373.9 533.9h0M366.6 552.5h0M378.7 556.8h0M379.0 562.1h0M368.2 564.1h0M370.7 563.6h0M371.9 567.3h0M374.7 568.9h0M375.2 569.2h0M378.7 571.8h0M379.8 571.3h0M365.8 573.4h0M367.8 573.7h0M375.8 576.9h0M381.6 577.7h0M365.8 577.2h0M367.4 580.1h0M369.1 581.4h0M367.1 583.0h0M369.9 584.1h0M367.4 584.9h0M366.6 586.5h0M368.2 587.3h0M396.0 583.3h0" stroke="#FA0808" stroke-width="2.5" stroke-linecap="round" fill="none"/>
<rect x="259.80" y="497.40" width="190.60" height="138.00" fill="none" stroke="#1a1a1a" stroke-width="1.2"/>
<path d="M275.5 636.0v2.6M315.6 636.0v2.6M355.7 636.0v2.6M395.8 636.0v2.6M435.9 636.0v2.6M259.2 629.2h-2.6M259.2 597.2h-2.6M259.2 565.2h-2.6M259.2 533.2h-2.6M259.2 501.2h-2.6" stroke="#333" stroke-width="1" fill="none"/>
<text x="273.6" y="649.3" font-size="9.6" text-anchor="middle" fill="#333">-2</text>
<text x="313.7" y="649.3" font-size="9.6" text-anchor="middle" fill="#333">-1</text>
<text x="355.7" y="649.3" font-size="9.6" text-anchor="middle" fill="#333">0</text>
<text x="395.8" y="649.3" font-size="9.6" text-anchor="middle" fill="#333">1</text>
<text x="435.9" y="649.3" font-size="9.6" text-anchor="middle" fill="#333">2</text>
<text x="251.8" y="632.6" font-size="9.8" text-anchor="end" fill="#333">0</text>
<text x="251.8" y="600.6" font-size="9.8" text-anchor="end" fill="#333">1</text>
<text x="251.8" y="568.6" font-size="9.8" text-anchor="end" fill="#333">2</text>
<text x="251.8" y="536.6" font-size="9.8" text-anchor="end" fill="#333">3</text>
<text x="251.8" y="504.6" font-size="9.8" text-anchor="end" fill="#333">4</text>
<text x="288.3" y="663.8" font-size="11.3">log<tspan font-size="7" font-weight="bold" dy="0.8">2</tspan><tspan dy="-0.8">(mIVF-Chow/NC-Chow)</tspan></text>
<text transform="translate(239.1 571.7) rotate(-90)" font-size="11.5" text-anchor="middle">-log10(p-value)</text>
<circle cx="282.5" cy="477.7" r="2.5" fill="#1515F5"/><circle cx="331.5" cy="477.7" r="2.5" fill="#C4C4C4"/><circle cx="392.6" cy="477.7" r="2.5" fill="#F51515"/>
<text x="290.0" y="480.3" font-size="9.2" fill="#222">Down</text>
<text x="339.1" y="480.3" font-size="9.2" fill="#222">Unchanged</text>
<text x="400.9" y="480.3" font-size="9.2" fill="#222">Up</text>
<rect x="489.5" y="495.0" width="194.7" height="140.8" fill="#fff"/>
<path d="M518.5 495.0V635.8M564.3 495.0V635.8M610.1 495.0V635.8M655.9 495.0V635.8M489.5 606.3H684.2M489.5 558.5H684.2M489.5 510.7H684.2" stroke="#F2F2F2" stroke-width="0.8" fill="none"/>
<path d="M495.6 495.0V635.8M541.4 495.0V635.8M587.2 495.0V635.8M633.0 495.0V635.8M678.8 495.0V635.8M489.5 630.2H684.2M489.5 582.4H684.2M489.5 534.6H684.2" stroke="#EBEBEB" stroke-width="1" fill="none"/>
<path d="M593.2 625.2h0M588.2 619.1h0M584.6 602.2h0M589.0 624.8h0M585.4 609.7h0M595.0 608.6h0M584.7 621.8h0M597.9 594.9h0M574.4 623.7h0M586.9 611.7h0M585.9 605.6h0M599.2 610.9h0M575.0 602.0h0M584.8 570.3h0M571.2 616.5h0M583.9 598.5h0M584.9 595.5h0M585.4 616.1h0M587.1 630.0h0M596.5 569.7h0M586.6 615.9h0M597.8 615.9h0M582.2 579.6h0M594.5 603.5h0M582.7 607.9h0M580.5 590.3h0M590.5 627.7h0M589.0 596.6h0M583.1 612.5h0M581.6 624.7h0M583.1 597.7h0M594.8 620.3h0M596.1 601.1h0M585.8 615.9h0M581.1 592.5h0M596.3 595.7h0M588.7 619.8h0M584.1 585.7h0M579.8 597.9h0M589.9 598.1h0M584.6 586.6h0M578.1 609.9h0M579.4 591.4h0M594.6 583.5h0M582.4 624.2h0M589.9 586.2h0M581.8 611.6h0M571.4 607.5h0M589.6 622.7h0M589.7 597.1h0M598.3 584.2h0M580.6 616.9h0M582.9 603.3h0M593.5 612.2h0M579.6 600.5h0M582.7 620.2h0M584.5 620.9h0M591.6 594.1h0M582.5 591.8h0M584.1 603.0h0M592.6 578.7h0M580.4 619.8h0M580.4 583.8h0M583.4 621.4h0M583.2 568.7h0M594.4 601.4h0M598.8 602.3h0M583.8 567.2h0M584.5 589.3h0M589.3 591.1h0M586.4 626.3h0M580.1 612.7h0M576.5 620.3h0M585.2 619.5h0M584.1 583.1h0M593.8 623.5h0M585.2 615.9h0M582.2 606.8h0M582.0 584.0h0M590.2 571.6h0M596.1 596.6h0M593.9 620.0h0M573.5 604.2h0M585.2 626.4h0M583.2 596.6h0M593.6 613.6h0M589.0 603.2h0M590.6 598.9h0M580.3 597.2h0M579.9 605.3h0M589.6 605.0h0M590.1 607.9h0M585.1 623.2h0M588.8 608.6h0M578.1 604.6h0M593.5 612.5h0M586.1 628.3h0M582.5 605.1h0M589.6 620.4h0M593.7 594.5h0M580.1 611.8h0M580.0 612.2h0M581.8 577.5h0M587.5 612.5h0M587.7 614.5h0M578.9 613.7h0M591.9 624.9h0M596.7 605.4h0M580.7 575.9h0M585.8 603.2h0M597.8 574.9h0M582.8 584.6h0M577.0 592.4h0M592.4 589.3h0M583.1 586.6h0M594.1 618.4h0M581.2 607.4h0M594.9 614.7h0M590.0 618.1h0M585.4 615.0h0M585.0 600.2h0M587.3 624.4h0M584.4 609.3h0M586.3 611.8h0M577.8 594.9h0M590.5 625.1h0M591.6 621.8h0M581.9 605.8h0M584.8 611.1h0M591.5 615.1h0M583.7 620.2h0M592.8 577.2h0M586.6 618.2h0M596.5 622.7h0M592.4 617.3h0M590.7 614.8h0M590.8 619.6h0M585.5 604.6h0M589.5 576.5h0M585.7 623.2h0M590.4 611.6h0M581.7 597.3h0M594.3 582.9h0M590.5 556.6h0M586.4 622.5h0M583.3 604.6h0M580.4 580.8h0M593.1 603.3h0M587.0 621.2h0M589.3 592.7h0M595.1 576.4h0M584.2 604.5h0M586.7 629.2h0M589.8 626.1h0M591.9 611.5h0M584.7 584.2h0M585.8 618.5h0M592.0 598.9h0M595.5 617.9h0M592.9 596.8h0M586.6 612.6h0M590.5 592.8h0M592.0 607.9h0M584.9 589.5h0M580.7 605.7h0M585.5 621.8h0M579.5 609.2h0M581.6 581.7h0M585.4 603.1h0M591.1 571.6h0M587.3 630.1h0M584.8 614.0h0M583.2 590.6h0M596.0 597.9h0M594.9 604.7h0M590.8 583.7h0M596.8 598.0h0M590.1 605.4h0M576.7 603.3h0M577.2 597.4h0M599.0 615.5h0M595.5 601.9h0M574.7 607.5h0M589.4 605.9h0M593.0 585.5h0M578.2 599.0h0M594.5 600.3h0M582.9 611.7h0M583.1 594.1h0M587.6 625.5h0M594.6 584.7h0M589.3 583.7h0M582.4 569.1h0M590.1 623.2h0M590.4 624.0h0M592.7 581.9h0M583.8 611.2h0M578.9 617.1h0M602.2 613.0h0M588.7 622.1h0M593.9 608.3h0M585.6 597.8h0M591.4 595.8h0M587.5 629.0h0M588.0 610.7h0M594.1 617.3h0M596.1 582.7h0M592.1 620.1h0M594.7 605.6h0M582.5 621.4h0M590.0 581.0h0M595.5 583.1h0M580.9 622.8h0M578.9 599.8h0M589.6 582.0h0M582.9 620.1h0M588.6 611.6h0M590.0 596.2h0M594.5 594.7h0M588.5 609.9h0M589.3 600.6h0M593.9 598.9h0M580.5 613.4h0M583.5 602.5h0M594.4 597.2h0M583.8 605.9h0M592.6 615.0h0M582.3 609.7h0M583.2 575.8h0M588.4 629.0h0M595.2 586.0h0M590.7 565.2h0M599.4 619.1h0M589.8 617.9h0M591.7 620.6h0M573.2 601.2h0M584.0 607.2h0M581.2 586.5h0M587.8 620.2h0M593.4 583.6h0M584.2 608.2h0M589.6 589.7h0M593.6 590.2h0M581.7 577.3h0M593.7 607.7h0M590.0 602.2h0M592.8 621.0h0M583.9 575.2h0M578.2 577.5h0M587.2 628.2h0M602.8 599.2h0M585.6 614.6h0M580.0 588.6h0M591.2 572.8h0M583.1 605.5h0M591.6 613.0h0M601.5 607.2h0M583.6 585.8h0M595.0 594.1h0M585.2 625.8h0M579.2 582.2h0M582.7 599.2h0M595.8 594.9h0M594.0 605.5h0M580.5 618.8h0M587.3 621.1h0M584.4 559.4h0M586.2 629.1h0M598.9 597.6h0M582.8 618.7h0M581.4 626.6h0M595.0 612.3h0M586.9 614.5h0M585.3 610.0h0M589.8 575.7h0M584.5 623.5h0M589.9 575.4h0M588.6 626.9h0M592.3 576.3h0M593.1 595.4h0M581.1 609.1h0M585.5 599.6h0M584.2 587.7h0M585.7 627.7h0M594.1 587.5h0M590.7 611.5h0M586.0 619.1h0M591.0 599.9h0M586.3 626.6h0M583.5 615.6h0M590.8 595.1h0M578.6 601.7h0M596.7 580.8h0M582.9 595.2h0M574.3 616.0h0M588.1 623.7h0M588.0 618.9h0M592.4 602.4h0M580.8 593.3h0M584.2 613.8h0M596.9 590.1h0M594.8 572.9h0M586.2 625.0h0M588.4 625.8h0M591.1 593.3h0M583.1 606.7h0M586.2 610.1h0M589.9 600.9h0M589.0 593.2h0M586.8 625.6h0M584.7 570.0h0M583.4 608.0h0M589.0 617.7h0M573.8 601.9h0M591.5 620.4h0M592.4 606.0h0M583.0 578.1h0M586.2 606.2h0M593.9 588.2h0M591.1 583.0h0M591.8 623.7h0M593.2 620.1h0M580.2 594.0h0M594.8 616.4h0M588.3 623.8h0M589.2 625.1h0M581.5 588.8h0M587.6 628.4h0M590.8 626.4h0M591.7 575.2h0M574.3 612.6h0M589.7 620.9h0M580.5 582.2h0M590.4 591.3h0M574.8 604.9h0M591.0 568.6h0M572.8 605.4h0M590.3 602.9h0M575.8 592.5h0M597.4 616.8h0M584.7 612.6h0M592.8 617.9h0M589.8 613.4h0M575.2 585.4h0M585.7 611.4h0M589.6 569.5h0M583.4 579.4h0M576.9 619.3h0M598.8 622.4h0M577.7 606.9h0M599.1 614.5h0M595.6 589.2h0M579.0 618.3h0M598.9 600.2h0M579.9 625.8h0M582.7 626.3h0M589.4 623.9h0M577.7 589.7h0M588.5 613.5h0M591.9 609.9h0M583.7 626.7h0M580.3 583.1h0M579.5 614.1h0M583.6 617.3h0M592.0 596.9h0M582.5 612.0h0M578.6 606.2h0M588.1 612.4h0M589.1 604.1h0M584.7 601.6h0M594.2 603.9h0M584.4 578.4h0M591.1 574.4h0M590.5 613.1h0M585.7 612.5h0M580.1 588.0h0M601.6 604.4h0M581.2 587.3h0M591.5 602.0h0M593.8 616.4h0M593.6 591.4h0M586.6 627.1h0M586.1 620.6h0M591.7 591.1h0M583.4 622.9h0M591.4 603.2h0M582.2 616.9h0M596.8 596.7h0M578.1 617.4h0M596.0 577.4h0M584.8 603.8h0M589.7 580.1h0M583.6 616.6h0M579.0 598.5h0M583.6 623.5h0M602.3 607.7h0M600.1 618.0h0M592.6 583.8h0M585.0 582.4h0M584.6 612.4h0M582.1 588.5h0M579.1 564.8h0M590.0 613.6h0M600.8 606.5h0M595.7 622.1h0M585.8 624.0h0M581.3 594.0h0M583.0 626.0h0M581.7 601.2h0M596.7 598.9h0M578.7 573.0h0M594.7 612.7h0M591.4 612.2h0M578.4 614.7h0M582.6 593.1h0M591.6 576.5h0M596.4 567.9h0M577.4 611.2h0M593.9 584.1h0M589.5 614.4h0M582.0 582.5h0M583.7 622.4h0M585.3 605.6h0M592.1 622.7h0M589.8 606.2h0M579.6 617.8h0M583.4 587.8h0M587.7 618.1h0M591.3 626.0h0M593.0 558.2h0M592.4 621.2h0M592.0 627.2h0M589.6 571.4h0M590.0 577.6h0M591.3 594.9h0M588.9 600.3h0M598.5 586.7h0M583.8 615.5h0M590.3 594.1h0M580.7 589.5h0M583.1 599.0h0M584.7 566.7h0M591.5 608.8h0M591.3 585.9h0M592.0 588.6h0M583.7 606.2h0M582.6 609.9h0M590.6 620.7h0M594.0 600.1h0M591.8 616.2h0M607.0 619.9h0M592.1 590.0h0M581.6 585.4h0M589.1 602.4h0M589.6 583.3h0M580.7 607.8h0M579.4 592.3h0M587.4 622.7h0M592.8 572.9h0M581.2 594.6h0M595.6 606.2h0M592.8 599.8h0M595.2 619.4h0M580.3 606.5h0M583.3 624.9h0M598.8 617.1h0M577.8 621.6h0M591.5 611.5h0M586.1 625.9h0M591.6 564.0h0M588.7 611.0h0M581.8 610.5h0M594.8 599.8h0M592.8 588.3h0M586.0 608.3h0M596.3 589.5h0M579.6 583.9h0M592.5 615.2h0M582.4 621.8h0M587.4 627.1h0M578.7 608.0h0M585.0 620.9h0M585.4 623.3h0M582.5 615.7h0M589.1 596.2h0M592.4 591.2h0M599.2 603.1h0M578.9 603.0h0M589.4 617.0h0M581.2 621.7h0M583.0 592.3h0M580.3 596.3h0M576.3 615.6h0M584.4 581.3h0M590.9 607.3h0M577.5 622.8h0M588.6 628.6h0M589.2 588.9h0M589.7 615.6h0M594.1 622.6h0M581.5 585.9h0M590.3 580.5h0M593.7 621.2h0M584.3 555.8h0M581.3 614.5h0M583.3 622.1h0M597.9 610.6h0M597.6 621.3h0M590.2 583.6h0M590.8 578.5h0M586.1 609.0h0M584.0 592.8h0M593.5 575.2h0M576.6 620.9h0M592.3 618.3h0M584.4 614.4h0M596.1 616.3h0M590.3 625.0h0M581.6 606.4h0M592.3 587.9h0M589.2 584.7h0M594.7 568.1h0M581.3 568.1h0M584.9 585.2h0M582.7 573.1h0M576.8 598.4h0M587.9 608.7h0M593.3 606.5h0M577.6 612.7h0M586.7 624.2h0M589.5 607.9h0M577.3 604.8h0M579.5 596.5h0M582.0 601.1h0M583.0 625.4h0M585.0 624.4h0M581.2 598.7h0M584.5 610.6h0M589.1 618.8h0M595.0 595.8h0M573.0 623.0h0M572.4 616.0h0M580.4 598.7h0M581.6 574.3h0M603.2 614.7h0M590.9 599.5h0M604.3 612.9h0M590.6 575.1h0M584.3 590.7h0M591.4 609.4h0M582.1 614.3h0M587.4 615.7h0M580.1 581.2h0M595.1 592.7h0M577.9 615.4h0M598.9 590.6h0M583.9 570.3h0M575.6 616.7h0M584.8 599.5h0M585.1 581.7h0M596.6 583.8h0M584.9 618.4h0M583.0 582.4h0M586.4 610.6h0M580.5 592.6h0M589.9 590.7h0M589.9 628.0h0M589.3 609.7h0M597.3 618.4h0M583.0 599.9h0M581.5 568.8h0M576.2 598.3h0M575.5 575.7h0M595.0 603.4h0M589.2 610.5h0M576.1 599.1h0M580.8 615.8h0M592.0 621.9h0M592.9 607.9h0M589.6 613.1h0M593.4 622.2h0M593.6 606.2h0M583.7 597.8h0M582.4 574.0h0M588.9 607.1h0M590.2 589.0h0M581.5 605.8h0M592.8 563.8h0M579.5 607.7h0M587.5 626.2h0M590.4 604.2h0M593.1 615.3h0M578.5 592.8h0M598.3 588.3h0M585.4 596.8h0M590.2 567.2h0M584.2 628.3h0M592.8 565.6h0M584.0 622.2h0M592.8 608.9h0M582.8 580.7h0M596.3 608.9h0M583.7 616.1h0M597.3 611.3h0M583.5 567.6h0M594.3 604.6h0M590.9 624.8h0M591.4 580.2h0M584.4 613.0h0M598.4 613.0h0M587.1 617.7h0M581.3 574.9h0M579.4 595.8h0M592.2 613.6h0M575.2 610.2h0M593.5 598.7h0M589.7 574.5h0M589.6 627.0h0M589.9 586.4h0M592.5 586.3h0M590.6 619.8h0M590.3 568.5h0M595.7 595.7h0M582.2 624.0h0M586.7 609.1h0M588.8 605.0h0M611.3 611.8h0M583.5 619.2h0M586.9 613.7h0M589.6 559.1h0M574.3 614.1h0M578.9 615.8h0M588.8 609.5h0M595.6 614.9h0M584.5 556.8h0M578.2 563.9h0M568.2 614.3h0M582.2 625.1h0M580.4 585.4h0M590.0 622.3h0M596.8 594.4h0M582.4 580.8h0M584.4 619.3h0M584.5 582.0h0M596.8 585.8h0M591.3 590.1h0M594.0 577.2h0M574.4 618.6h0M590.4 601.1h0M584.8 593.2h0M591.0 625.7h0M591.9 626.2h0M593.3 608.4h0M594.7 580.5h0M576.7 609.0h0M581.5 623.2h0M576.8 570.8h0M582.5 597.0h0M580.3 564.6h0M590.4 576.8h0M578.6 601.0h0M576.2 607.1h0M591.9 593.6h0M594.7 613.4h0M579.4 623.2h0M578.4 596.2h0M580.1 626.6h0M588.8 614.9h0M590.2 627.9h0M581.0 615.5h0M596.6 618.6h0M584.0 600.2h0M581.1 596.3h0M580.1 594.8h0M583.7 591.7h0M585.2 597.7h0M599.2 606.0h0M597.9 591.9h0M593.1 570.1h0M585.1 607.4h0M580.4 569.2h0M577.5 599.9h0M590.8 608.8h0M582.9 598.1h0M591.0 578.4h0M581.6 583.0h0M594.7 588.0h0M577.8 594.4h0M581.1 602.0h0M595.3 610.8h0M590.0 569.7h0M583.7 580.4h0M583.3 581.4h0M593.2 592.8h0M596.6 621.4h0M594.2 602.3h0M592.6 597.7h0M574.3 599.7h0M595.6 615.7h0M578.4 575.8h0M588.0 609.6h0M584.9 620.3h0M583.9 611.6h0M584.2 571.2h0M568.5 615.4h0M578.7 610.6h0M584.0 584.7h0M597.2 619.9h0M581.9 612.5h0M594.5 589.0h0M586.9 620.3h0M596.5 573.2h0M581.7 573.3h0M599.2 593.3h0M605.4 615.8h0M569.6 612.1h0M585.8 601.5h0M581.0 584.2h0M592.3 604.6h0M584.8 606.2h0M591.5 587.8h0M580.5 600.1h0M590.5 617.8h0M591.5 622.6h0M590.2 615.9h0M591.3 618.3h0M592.4 604.3h0M578.5 574.2h0M595.6 603.1h0M582.3 556.4h0M594.9 598.0h0M596.6 603.0h0M583.9 594.2h0M591.5 610.2h0M592.1 579.7h0M591.9 574.7h0M602.2 610.3h0M596.8 614.1h0M581.5 578.6h0M590.4 575.8h0M594.5 592.3h0M593.4 610.5h0M598.4 619.9h0M582.0 600.6h0M579.9 573.8h0M581.3 596.0h0M574.7 617.9h0M588.8 605.9h0M584.3 573.0h0M581.3 599.4h0M585.3 608.5h0M584.6 576.4h0M591.1 605.5h0M580.0 601.9h0M581.9 608.6h0M582.2 598.4h0M582.2 591.6h0M573.8 622.7h0M590.9 569.5h0M589.3 587.3h0M592.7 617.4h0M580.3 618.2h0M582.5 563.9h0M584.4 586.9h0M596.2 600.4h0M590.8 591.8h0M578.6 572.7h0M589.1 610.9h0M581.7 592.9h0M593.8 572.5h0M583.9 625.3h0M580.3 601.5h0M581.5 591.3h0M580.9 624.9h0M587.0 623.4h0M590.8 606.9h0M578.5 619.7h0M582.0 570.5h0M588.1 613.9h0M592.8 584.4h0M581.8 604.4h0M596.8 609.9h0M580.3 605.1h0M591.4 561.2h0M581.4 602.7h0M598.0 577.2h0M577.9 569.2h0M590.6 564.0h0M600.0 620.1h0M585.3 590.3h0M583.2 627.3h0M589.6 578.3h0M586.4 607.2h0M596.3 613.2h0M584.0 576.9h0M597.7 592.8h0M583.0 572.3h0M595.7 607.6h0M581.8 589.4h0M597.5 600.3h0M594.2 624.8h0M579.7 565.0h0M588.3 616.2h0M580.0 580.1h0M580.0 610.9h0M593.2 562.0h0M576.5 622.9h0M578.6 624.9h0M593.4 589.5h0M583.5 610.1h0M590.4 616.3h0M591.3 616.6h0M583.1 589.7h0M575.5 614.1h0M593.1 591.1h0M590.3 574.6h0M582.9 567.1h0M589.9 570.8h0M594.2 595.7h0M596.6 589.0h0M577.3 583.7h0M593.6 579.6h0M573.2 615.5h0M586.0 604.1h0M592.5 619.0h0M585.3 627.6h0M584.4 618.0h0M573.9 625.1h0M595.4 622.8h0M609.3 611.6h0M583.4 593.1h0M598.5 615.2h0M587.6 616.8h0M580.8 599.4h0M579.5 602.6h0M583.4 601.1h0M582.8 584.3h0M590.8 568.0h0M582.2 563.4h0M575.7 622.3h0M596.4 582.5h0M591.2 604.0h0M597.3 598.2h0M586.0 616.3h0M583.0 575.5h0M580.0 608.5h0M581.0 576.3h0M580.6 577.0h0M583.0 573.3h0M593.8 613.2h0M590.3 572.5h0M594.3 609.3h0M598.1 609.6h0M584.6 566.1h0M582.6 575.2h0M591.0 606.6h0M600.8 610.2h0M581.5 579.6h0M596.3 579.8h0M598.5 573.2h0M592.5 608.1h0M593.6 610.9h0M584.2 625.0h0M581.7 590.7h0M597.6 612.5h0M592.1 572.2h0M576.8 576.9h0M579.6 587.3h0M588.2 615.3h0M580.6 570.0h0M594.8 581.3h0M592.5 581.8h0M593.4 610.7h0M589.4 616.9h0M581.0 623.5h0M585.0 628.8h0M581.1 580.2h0M600.1 609.3h0M585.1 587.4h0M590.7 573.4h0M581.1 608.6h0M582.7 571.8h0M590.1 610.1h0M596.5 574.9h0M570.7 617.9h0M594.7 623.9h0M590.5 586.3h0M593.8 587.2h0M595.6 609.9h0M598.6 621.5h0M589.5 624.3h0M584.2 576.4h0M584.6 568.8h0M592.8 571.9h0M581.9 603.8h0M584.1 595.6h0M592.4 576.6h0M592.4 628.8h0M584.8 628.0h0M577.9 608.5h0M590.5 589.8h0M574.5 612.1h0M571.0 614.0h0M594.9 607.6h0M578.6 586.6h0M603.2 618.7h0M597.3 617.3h0M579.9 621.2h0M577.6 614.5h0M610.9 609.8h0M589.0 591.6h0M570.2 614.4h0M576.7 583.5h0M584.7 557.8h0M592.5 612.0h0M591.6 579.3h0M583.2 596.1h0M591.7 623.3h0M594.4 593.6h0M593.5 592.2h0M597.5 603.4h0M578.9 576.5h0M565.7 603.9h0M576.6 586.5h0M578.5 607.5h0M576.7 623.8h0M590.9 588.8h0M589.1 603.1h0M584.3 591.9h0M578.9 622.2h0M595.8 623.9h0M577.9 603.8h0M593.2 605.6h0M583.4 591.2h0M593.9 578.5h0M582.7 622.7h0M581.3 620.9h0M588.9 626.3h0M587.6 617.5h0M598.1 589.5h0M591.5 586.8h0M595.3 610.1h0M578.3 570.0h0M595.3 615.6h0M595.2 621.5h0M590.6 609.6h0M596.4 614.5h0M590.4 596.5h0M591.1 568.0h0M584.0 588.2h0M586.2 619.8h0M579.4 606.6h0M591.7 563.3h0M582.9 571.7h0M592.9 590.2h0M584.6 579.7h0M579.1 581.0h0M591.2 591.9h0M592.3 613.3h0M596.5 619.7h0M584.8 573.4h0M582.1 596.2h0M590.7 587.4h0M602.8 620.6h0M595.3 571.0h0M583.3 614.0h0M592.2 585.1h0M574.2 617.3h0M581.0 600.6h0M578.7 600.1h0M591.0 619.1h0M576.3 625.2h0M581.7 603.6h0M572.2 609.8h0M580.6 621.7h0M592.8 623.0h0M582.6 570.0h0M589.0 601.1h0M592.7 626.2h0M584.4 566.1h0M564.4 600.4h0M578.7 559.9h0M583.3 583.5h0M580.1 611.4h0M587.6 610.6h0M577.7 618.0h0M579.0 592.4h0M584.2 565.2h0M581.8 563.6h0M582.0 613.4h0M597.3 604.1h0M576.5 588.6h0M600.4 599.1h0M597.1 592.0h0M583.9 601.2h0M592.3 593.2h0M582.8 562.7h0M589.2 622.0h0M571.3 604.5h0M577.3 613.3h0M582.4 611.5h0M600.6 602.2h0M591.2 581.8h0M590.2 600.3h0M583.8 569.3h0M588.9 612.9h0M595.6 559.1h0M584.9 585.6h0M596.3 616.5h0M589.9 563.9h0M582.7 572.5h0M582.4 618.6h0M581.6 564.3h0M595.1 579.8h0M595.1 589.7h0M596.3 604.4h0M579.6 618.1h0M583.0 574.1h0M598.7 567.2h0M602.9 612.3h0M596.0 587.9h0M589.4 599.5h0M595.8 619.9h0M588.6 623.0h0M589.7 594.9h0M577.5 606.0h0M590.1 597.4h0M588.4 620.7h0M594.5 596.9h0M579.4 577.8h0M580.4 586.2h0M582.3 578.0h0M583.7 617.3h0M583.2 577.0h0M589.8 608.0h0M597.9 595.6h0M571.1 605.7h0M601.7 620.4h0M596.1 575.1h0M597.5 591.3h0M587.4 621.7h0M586.0 617.2h0M581.8 567.2h0M595.7 591.1h0M579.8 599.5h0M580.0 604.2h0M581.7 625.2h0M580.5 609.9h0M586.8 621.8h0M576.2 590.3h0M582.5 585.3h0M594.8 569.9h0M580.5 617.5h0M595.7 592.9h0M599.5 614.1h0M588.8 602.1h0M589.0 598.8h0M570.3 602.5h0M592.5 609.4h0M580.0 621.8h0M592.9 618.8h0M598.4 604.1h0M579.5 575.8h0M576.1 565.4h0M585.9 607.3h0M578.6 619.6h0M594.8 600.8h0M582.7 581.4h0M581.0 618.4h0M579.7 572.3h0M582.5 565.5h0M601.2 615.4h0M594.9 618.3h0M578.2 592.0h0M581.8 559.9h0M582.7 577.0h0M583.0 565.3h0M586.5 619.2h0M606.4 611.2h0M588.5 618.6h0M577.0 589.1h0M576.6 600.7h0M592.3 596.0h0M584.2 584.5h0M581.3 611.2h0M578.1 612.3h0M586.3 629.6h0M583.0 603.7h0M592.8 585.2h0M594.1 561.6h0M585.4 617.7h0M585.4 594.1h0M601.0 620.0h0M590.9 614.1h0M598.1 625.4h0M584.9 598.3h0M578.4 595.3h0M594.9 606.8h0M577.6 587.1h0M595.4 559.6h0M577.6 581.0h0M575.9 613.0h0M593.7 570.2h0M593.6 614.3h0M593.4 627.3h0M580.2 609.5h0M581.0 566.4h0M597.2 575.6h0M599.0 608.0h0M575.2 600.2h0M583.9 604.3h0M579.6 567.8h0M596.1 603.7h0M591.5 566.4h0M582.9 588.5h0M593.3 600.4h0M586.8 616.8h0M589.2 612.3h0M580.7 625.3h0M590.0 604.8h0M589.9 572.4h0M597.9 585.8h0M595.8 598.3h0M594.3 596.3h0M596.8 566.7h0M591.9 582.4h0M577.4 621.2h0M593.0 572.3h0M584.8 561.2h0M581.7 620.5h0M592.4 599.4h0M572.3 600.4h0M590.5 586.6h0M584.4 596.8h0M594.9 601.8h0M584.7 572.7h0M592.8 616.8h0M593.8 599.4h0M593.9 625.9h0M578.4 580.8h0M580.0 593.8h0M594.8 575.1h0M591.5 585.0h0M577.1 585.7h0M569.8 602.5h0M580.9 621.1h0M575.2 614.7h0M595.5 588.4h0M592.3 603.3h0M593.2 603.7h0M585.3 594.9h0M580.9 571.8h0M591.8 600.2h0M577.0 612.2h0M591.6 617.8h0M596.2 617.3h0M589.6 567.7h0M592.5 625.1h0M591.7 598.5h0M595.4 593.9h0M593.5 580.6h0M582.2 597.7h0M576.8 571.5h0M579.7 595.3h0M591.5 584.1h0M596.5 599.4h0M593.7 612.3h0M575.5 616.8h0M583.1 607.9h0M593.9 615.9h0M597.8 596.9h0M591.6 596.3h0M583.5 609.3h0M598.2 578.8h0M591.6 582.5h0M574.1 616.6h0M582.1 578.8h0M576.4 614.2h0M583.9 594.6h0M582.9 564.7h0M580.0 616.8h0M589.4 597.5h0M575.1 602.7h0M595.4 586.2h0M596.8 593.0h0M577.8 607.7h0M575.3 622.2h0M598.0 589.9h0M573.0 613.4h0M595.6 579.2h0M598.3 610.1h0M597.5 597.3h0M580.7 578.2h0M576.1 612.3h0M579.3 555.6h0M593.7 593.0h0M580.0 592.9h0M577.9 596.9h0M595.5 612.7h0M580.7 579.9h0M593.9 584.6h0M579.8 581.0h0M595.4 624.9h0M581.8 572.7h0M597.8 619.4h0M579.4 598.3h0M582.6 601.8h0M584.5 599.4h0M597.1 602.1h0M583.3 615.1h0M596.3 617.8h0M580.8 624.0h0M576.9 594.3h0M598.1 608.6h0M584.0 627.4h0M579.6 601.1h0M582.1 594.9h0M597.8 605.1h0M588.9 599.0h0M584.2 562.1h0M572.9 617.1h0M582.9 610.7h0M579.0 623.7h0M593.7 622.0h0M600.4 616.6h0M581.2 613.8h0M580.5 566.3h0M582.4 617.4h0M589.2 592.2h0M572.5 611.7h0M579.6 604.5h0M592.5 580.5h0M595.5 612.1h0M577.8 592.8h0M579.5 619.7h0M582.2 593.8h0M606.9 606.5h0M584.7 578.1h0M576.1 609.2h0M580.5 586.8h0M572.0 613.5h0M568.7 619.7h0M583.8 563.1h0M576.7 608.5h0M588.6 606.6h0M589.3 594.2h0M580.7 603.2h0M582.3 586.7h0M592.7 576.1h0M593.9 575.3h0M591.8 586.7h0M583.9 577.8h0M599.0 622.7h0M592.1 569.5h0M584.2 579.3h0M584.9 592.0h0M580.6 591.4h0M596.5 611.2h0M573.7 610.3h0M563.4 612.7h0M590.6 582.0h0M599.7 600.1h0M589.8 572.9h0M584.9 578.9h0M595.4 619.4h0M596.1 605.4h0M581.8 616.5h0M595.8 611.4h0M596.6 623.6h0M595.6 586.7h0M581.9 585.9h0M593.5 597.3h0M596.4 582.8h0M600.7 615.5h0M580.5 602.4h0M592.3 571.4h0M590.1 579.3h0M601.0 603.2h0M573.0 608.0h0M591.7 558.3h0M578.6 591.4h0M599.3 604.2h0M595.8 576.9h0M598.3 596.0h0M584.9 588.7h0M596.1 572.3h0M593.3 594.7h0M576.1 605.1h0M582.5 587.6h0M597.9 594.4h0M593.8 618.9h0M580.0 587.2h0M589.8 562.9h0M580.7 551.9h0M591.5 566.7h0M576.7 616.2h0M590.9 627.8h0M605.1 606.9h0M598.8 613.4h0M592.0 594.8h0M593.2 567.9h0M580.1 595.5h0M579.6 589.1h0M591.6 589.3h0M593.1 581.4h0M586.8 610.9h0M575.6 618.0h0M592.2 564.3h0M580.3 565.3h0M580.6 604.2h0M591.5 565.5h0M595.6 621.1h0M591.0 601.2h0M578.7 622.5h0M576.9 590.3h0M576.1 619.8h0M578.9 596.8h0M584.5 557.8h0M593.0 578.7h0M584.1 564.0h0M594.1 582.3h0M590.6 563.5h0M590.3 566.2h0M601.1 616.4h0M585.9 602.2h0M584.1 601.8h0M577.3 615.5h0M596.3 601.3h0M593.2 574.6h0M597.7 614.4h0M593.5 579.9h0M577.0 593.2h0M579.7 613.1h0M578.8 575.4h0M589.6 581.2h0M578.8 604.8h0M601.7 620.9h0M600.0 606.0h0M598.0 599.0h0M578.0 601.3h0M609.9 623.0h0M588.5 603.9h0M580.4 556.6h0M592.3 583.6h0M579.9 583.1h0M596.2 592.0h0M591.8 606.2h0M596.7 624.5h0M580.2 588.2h0M600.0 607.8h0M589.5 569.2h0M577.1 611.2h0M593.9 602.7h0M570.6 604.0h0M575.7 603.4h0M597.1 590.9h0M577.7 569.4h0M580.4 608.5h0M576.0 600.7h0M594.8 622.8h0M596.5 577.9h0M571.4 611.0h0M582.1 567.7h0M583.3 570.0h0M571.8 612.4h0M595.4 604.5h0M576.3 596.5h0M592.9 570.4h0M576.2 594.2h0M595.5 565.3h0M586.4 608.8h0M592.5 574.4h0M589.2 629.0h0M593.4 587.6h0M591.2 575.6h0M585.5 600.2h0M584.9 591.3h0M575.8 601.7h0M584.3 572.0h0M577.3 595.3h0M583.8 560.7h0M594.8 572.4h0M567.9 610.3h0M573.1 612.6h0M578.7 597.9h0M597.2 623.3h0M585.2 583.3h0M589.9 579.9h0M575.3 611.3h0M584.7 564.2h0M576.6 577.6h0M583.3 578.5h0M591.5 597.9h0M574.9 619.1h0M579.2 618.9h0M581.4 564.9h0M598.1 623.4h0M590.0 599.7h0M579.0 582.8h0M579.0 584.9h0M579.9 610.0h0M592.3 567.8h0M576.3 624.3h0M581.7 619.2h0M599.8 601.6h0M597.0 612.3h0M600.1 601.1h0M599.8 599.5h0M594.8 586.6h0M590.0 560.6h0M576.0 595.4h0M594.9 591.2h0M571.7 601.0h0M585.1 580.8h0M597.5 608.6h0M599.2 618.6h0M572.8 608.5h0M569.4 618.8h0M590.0 562.7h0M577.1 621.6h0M579.6 585.0h0M599.6 606.8h0M591.0 560.2h0M592.6 601.5h0M594.8 578.1h0M582.2 618.8h0M578.4 609.5h0M576.8 605.9h0M579.6 579.5h0M598.3 595.3h0M590.4 558.6h0M581.3 557.4h0M572.8 618.5h0M600.2 617.6h0M581.7 562.1h0M578.4 604.1h0M594.7 582.1h0M603.3 605.4h0M578.5 594.3h0M597.6 613.6h0M582.2 567.3h0M596.5 571.6h0M596.2 599.6h0M573.9 601.2h0M579.3 569.2h0M573.7 620.3h0M577.3 618.5h0M578.5 611.0h0M593.6 565.0h0M571.5 601.9h0M590.9 604.5h0M578.1 595.6h0M595.9 580.5h0M583.9 559.1h0M584.4 569.2h0M577.5 618.9h0M591.4 562.9h0M592.7 568.7h0M575.2 595.4h0M578.4 612.9h0M583.0 571.0h0M594.5 590.4h0M592.8 567.4h0M576.1 619.1h0M575.5 606.5h0M575.8 568.2h0M597.9 577.8h0M577.1 580.3h0M582.3 627.8h0M570.0 618.6h0M592.7 600.9h0M578.3 558.7h0M593.0 624.3h0M583.8 574.0h0M589.4 565.9h0M592.7 577.4h0M596.4 625.5h0M575.8 586.4h0M572.5 612.7h0M580.9 557.0h0M605.1 612.7h0M591.6 615.2h0M603.1 602.0h0M597.4 584.8h0M595.8 585.4h0M592.8 602.1h0M590.7 570.5h0M572.0 610.9h0M591.2 577.5h0M572.7 621.2h0M595.5 581.4h0M598.9 605.6h0M598.7 576.2h0M589.8 577.6h0M598.8 574.6h0M574.8 623.0h0M584.9 559.3h0M572.8 604.9h0M579.8 571.5h0M577.9 590.6h0M590.3 585.4h0M582.5 590.2h0M593.3 593.8h0M589.0 595.3h0M571.8 619.1h0M575.4 597.1h0M589.7 563.2h0M577.0 610.0h0M578.1 582.9h0M599.0 570.1h0M600.5 603.7h0M590.7 590.0h0M581.2 582.6h0M575.6 601.2h0M582.4 561.0h0M598.0 607.2h0M581.1 571.1h0M562.8 611.9h0M593.9 576.0h0M580.1 559.7h0M566.7 602.5h0M579.6 573.1h0M595.2 571.3h0M580.5 615.1h0M605.8 613.3h0M585.5 613.6h0M577.7 602.2h0M596.5 587.8h0M576.9 587.3h0M578.2 625.5h0M584.0 629.2h0M574.7 609.2h0M597.9 622.0h0M595.8 575.6h0M597.5 579.1h0M577.0 614.1h0M594.0 589.4h0M594.6 617.6h0M592.9 614.5h0M595.5 613.5h0M571.0 605.5h0M575.8 606.7h0M599.6 610.5h0M597.1 608.5h0M579.6 567.1h0M568.4 608.3h0M598.1 599.2h0M568.0 612.9h0M599.1 619.9h0M579.8 614.4h0M596.8 600.0h0M578.1 609.1h0M598.6 591.6h0M597.9 624.5h0M598.6 618.1h0M576.5 617.1h0M577.9 568.1h0M568.7 610.6h0M583.4 561.5h0M594.8 609.6h0M591.9 578.2h0M594.4 569.7h0M578.4 616.2h0M596.0 573.2h0M595.5 590.1h0M582.7 583.5h0M594.9 626.3h0M582.6 603.2h0M597.0 607.6h0M580.2 563.6h0M594.0 564.4h0M579.8 564.3h0M571.8 609.4h0M592.1 566.8h0M577.5 584.5h0M583.1 552.8h0M577.4 616.8h0M579.6 590.0h0M576.5 614.8h0M596.8 565.2h0M597.1 578.7h0M604.8 618.8h0M589.9 567.1h0M601.0 615.0h0M584.6 576.7h0M584.7 559.5h0M598.4 626.7h0M589.6 564.9h0M571.5 614.8h0M568.0 620.2h0M594.7 598.5h0M576.5 584.8h0M593.2 562.7h0M576.9 607.7h0M593.7 581.0h0M588.8 527.9h0M581.9 530.3h0M582.5 534.0h0M583.8 534.8h0M581.6 538.7h0M590.9 542.4h0M594.4 541.9h0M592.0 544.0h0M584.8 543.2h0M583.7 545.3h0M589.6 547.7h0M581.1 549.6h0M582.9 551.5h0M589.6 551.5h0M576.4 552.0h0M592.3 555.2h0M596.0 555.7h0M543.0 620.3h0M557.2 619.5h0M562.3 610.9h0M569.5 622.7h0M621.7 602.3h0M618.0 607.1h0M613.4 609.5h0M609.7 608.2h0M616.1 617.4h0M609.2 620.3h0M608.9 601.8h0M566.3 603.4h0M565.5 601.8h0" stroke="#BEBEBE" stroke-width="2.2" stroke-linecap="round" fill="none"/>
<path d="M560.1 501.4h0M574.0 540.0h0M569.0 549.0h0M574.0 579.6h0M567.1 580.4h0M568.7 581.2h0M561.2 582.7h0M573.9 584.1h0M558.3 589.3h0M571.1 588.1h0M572.3 589.7h0M571.9 591.0h0M563.9 593.3h0M564.7 594.9h0M566.3 595.8h0M563.9 597.0h0M565.2 599.1h0M570.0 594.9h0M571.1 596.5h0M572.7 595.4h0M574.3 593.0h0M573.5 594.6h0M574.8 593.8h0M569.5 596.2h0" stroke="#0808FA" stroke-width="2.5" stroke-linecap="round" fill="none"/>
<path d="M624.6 554.7h0M603.6 557.6h0M602.4 562.8h0M603.7 564.4h0M600.0 572.9h0M598.9 574.0h0M606.5 578.0h0M610.2 579.3h0M618.2 578.8h0M602.8 581.2h0M604.1 583.3h0M607.7 585.4h0M602.1 585.7h0M600.8 588.1h0M605.3 588.9h0M603.2 590.5h0M598.9 591.4h0M604.1 593.0h0M600.8 594.6h0M599.2 596.6h0M601.6 597.8h0M603.2 598.3h0M600.0 598.6h0M598.4 597.8h0" stroke="#FA0808" stroke-width="2.5" stroke-linecap="round" fill="none"/>
<rect x="489.80" y="495.30" width="194.60" height="140.40" fill="none" stroke="#1a1a1a" stroke-width="1.2"/>
<path d="M495.6 636.3v2.6M541.4 636.3v2.6M587.2 636.3v2.6M633.0 636.3v2.6M678.8 636.3v2.6M489.2 630.2h-2.6M489.2 582.4h-2.6M489.2 534.6h-2.6" stroke="#333" stroke-width="1" fill="none"/>
<text x="493.7" y="651.1" font-size="9.6" text-anchor="middle" fill="#333">-2</text>
<text x="539.5" y="651.1" font-size="9.6" text-anchor="middle" fill="#333">-1</text>
<text x="587.2" y="651.1" font-size="9.6" text-anchor="middle" fill="#333">0</text>
<text x="633.0" y="651.1" font-size="9.6" text-anchor="middle" fill="#333">1</text>
<text x="678.8" y="651.1" font-size="9.6" text-anchor="middle" fill="#333">2</text>
<text x="483.7" y="633.6" font-size="9.8" text-anchor="end" fill="#333">0</text>
<text x="483.7" y="585.8" font-size="9.8" text-anchor="end" fill="#333">2</text>
<text x="483.7" y="538.0" font-size="9.8" text-anchor="end" fill="#333">4</text>
<text x="525.2" y="665.8" font-size="11.2">log<tspan font-size="7" font-weight="bold" dy="0.8">2</tspan><tspan dy="-0.8">(mIVF-Chow/IVF-Chow)</tspan></text>
<text transform="translate(471.0 565.3) rotate(-90)" font-size="11.5" text-anchor="middle">-log10(p-value)</text>
<circle cx="524.2" cy="476.4" r="2.5" fill="#1515F5"/><circle cx="573.2" cy="476.4" r="2.5" fill="#C4C4C4"/><circle cx="634.2" cy="476.4" r="2.5" fill="#F51515"/>
<text x="531.7" y="479.0" font-size="9.2" fill="#222">Down</text>
<text x="580.8" y="479.0" font-size="9.2" fill="#222">Unchanged</text>
<text x="642.5" y="479.0" font-size="9.2" fill="#222">Up</text>
<rect x="27.0" y="707.0" width="192.5" height="138.2" fill="#fff"/>
<path d="M38.5 707.0V845.2M72.2 707.0V845.2M105.8 707.0V845.2M139.6 707.0V845.2M173.2 707.0V845.2M206.9 707.0V845.2M27.0 823.6H219.5M27.0 792.4H219.5M27.0 761.2H219.5M27.0 730.0H219.5" stroke="#F2F2F2" stroke-width="0.8" fill="none"/>
<path d="M55.3 707.0V845.2M89.0 707.0V845.2M122.7 707.0V845.2M156.4 707.0V845.2M190.1 707.0V845.2M27.0 839.2H219.5M27.0 808.0H219.5M27.0 776.8H219.5M27.0 745.6H219.5M27.0 714.4H219.5" stroke="#EBEBEB" stroke-width="1" fill="none"/>
<path d="M124.3 786.1h0M123.8 815.5h0M125.3 779.8h0M125.2 834.0h0M117.8 805.7h0M125.1 821.6h0M125.1 799.3h0M125.4 830.1h0M127.3 793.8h0M121.9 809.4h0M127.2 790.9h0M126.0 817.1h0M119.7 815.7h0M125.5 776.8h0M127.7 821.9h0M130.0 781.7h0M125.9 788.0h0M126.4 830.0h0M129.6 810.7h0M128.5 805.4h0M118.1 802.1h0M121.7 830.5h0M127.7 816.1h0M123.6 816.3h0M127.3 816.0h0M128.1 783.7h0M127.8 822.7h0M121.6 826.1h0M121.4 810.7h0M119.1 803.7h0M124.7 786.7h0M125.8 812.0h0M123.2 826.2h0M118.1 778.8h0M117.5 812.3h0M126.0 807.1h0M124.9 817.1h0M127.0 828.3h0M127.2 806.2h0M127.9 801.4h0M114.4 814.1h0M120.9 828.7h0M128.0 828.2h0M117.4 773.1h0M124.5 792.7h0M118.9 818.2h0M121.4 835.3h0M120.1 780.8h0M152.9 814.2h0M120.7 790.7h0M143.5 825.9h0M117.6 818.5h0M115.5 819.9h0M118.9 770.6h0M127.8 819.2h0M133.1 816.0h0M120.7 774.5h0M117.0 782.3h0M124.2 820.8h0M124.0 824.6h0M117.5 791.8h0M120.4 831.8h0M127.5 820.9h0M127.9 793.4h0M119.4 780.5h0M128.4 827.6h0M120.3 833.2h0M120.7 793.4h0M126.8 810.0h0M115.7 825.4h0M121.3 811.6h0M122.0 833.6h0M120.9 799.8h0M122.5 810.4h0M127.1 805.5h0M126.6 833.7h0M116.0 803.4h0M112.1 818.8h0M116.4 811.9h0M124.5 823.4h0M114.9 804.1h0M118.6 808.0h0M134.2 810.3h0M120.5 834.0h0M117.6 833.5h0M134.1 821.3h0M117.2 812.9h0M128.4 832.7h0M122.0 802.0h0M147.0 816.6h0M112.9 806.3h0M119.6 778.1h0M120.6 806.8h0M121.1 832.5h0M125.9 831.3h0M102.4 800.2h0M127.9 823.9h0M129.2 802.4h0M123.3 815.5h0M122.5 818.3h0M130.7 803.4h0M119.2 828.1h0M131.5 825.5h0M110.5 822.7h0M121.2 816.5h0M117.5 781.8h0M124.2 798.5h0M124.6 809.5h0M122.2 838.1h0M115.9 823.0h0M128.5 815.9h0M121.0 782.9h0M122.4 809.1h0M130.7 795.8h0M122.5 820.3h0M116.9 796.4h0M103.7 806.5h0M126.1 814.8h0M111.3 804.4h0M126.3 791.5h0M120.2 771.3h0M119.3 789.5h0M126.4 822.6h0M120.7 804.1h0M124.3 801.4h0M121.9 834.1h0M126.8 800.1h0M119.3 832.9h0M118.6 777.3h0M121.0 825.2h0M130.4 782.9h0M121.5 825.7h0M127.5 814.3h0M117.8 789.7h0M116.3 763.7h0M125.9 805.4h0M117.1 817.7h0M127.3 802.7h0M107.1 818.1h0M129.5 801.2h0M129.9 821.5h0M118.2 793.6h0M124.6 834.6h0M125.0 806.1h0M115.2 821.0h0M116.9 793.6h0M120.9 784.2h0M125.9 819.9h0M127.4 824.0h0M116.2 818.8h0M130.4 825.6h0M126.8 817.0h0M119.4 795.7h0M125.6 793.6h0M124.9 781.4h0M122.7 802.5h0M124.7 833.8h0M128.5 809.8h0M123.3 837.3h0M118.2 746.9h0M122.4 812.5h0M114.0 828.8h0M126.2 796.5h0M118.6 822.4h0M119.0 817.6h0M117.3 830.6h0M122.3 835.6h0M134.9 802.6h0M131.7 802.9h0M129.6 832.2h0M124.9 810.0h0M131.5 826.6h0M128.6 791.5h0M129.7 831.8h0M119.9 806.9h0M116.8 783.9h0M117.3 809.7h0M124.9 807.4h0M121.3 791.5h0M123.6 797.6h0M116.5 826.1h0M119.2 811.7h0M125.2 789.5h0M123.5 805.8h0M118.5 797.4h0M127.8 785.0h0M121.7 831.9h0M128.1 825.2h0M126.9 797.9h0M114.7 830.2h0M126.0 799.0h0M132.3 825.2h0M125.9 799.7h0M126.1 821.8h0M126.8 792.6h0M122.1 811.3h0M120.7 776.7h0M118.6 794.6h0M129.0 769.8h0M122.2 798.9h0M134.9 824.3h0M147.6 814.6h0M131.3 788.5h0M144.2 826.9h0M121.5 824.5h0M132.5 826.9h0M121.4 804.6h0M128.7 829.3h0M127.8 805.4h0M116.3 821.4h0M128.1 796.6h0M124.8 827.1h0M129.9 788.3h0M126.9 836.3h0M120.0 829.1h0M126.0 830.3h0M126.7 826.9h0M114.6 754.4h0M127.8 819.8h0M128.3 808.9h0M115.7 809.4h0M128.4 817.4h0M118.2 783.0h0M123.8 836.2h0M132.4 821.4h0M118.1 814.5h0M118.7 800.8h0M128.2 804.0h0M122.6 838.8h0M116.0 796.8h0M114.9 779.2h0M117.0 817.2h0M121.0 816.2h0M131.2 831.5h0M126.0 791.7h0M121.1 782.9h0M115.0 774.5h0M119.3 797.5h0M126.0 792.9h0M116.7 808.1h0M121.6 789.0h0M118.4 821.0h0M126.3 802.2h0M121.8 805.1h0M123.2 807.1h0M115.7 824.8h0M122.6 827.5h0M115.7 782.1h0M111.4 810.0h0M120.8 779.5h0M120.2 793.1h0M118.8 786.4h0M120.5 808.5h0M115.6 795.6h0M119.8 774.5h0M135.0 818.8h0M124.4 784.7h0M113.5 825.2h0M119.6 812.9h0M128.6 792.1h0M123.3 814.9h0M123.9 828.8h0M119.4 765.3h0M115.7 813.5h0M116.3 815.3h0M122.7 819.2h0M126.6 779.0h0M122.1 815.5h0M121.7 794.2h0M128.2 788.1h0M121.3 800.3h0M117.1 830.1h0M126.9 815.6h0M116.3 787.7h0M128.3 822.4h0M121.4 798.4h0M129.2 825.5h0M117.0 806.4h0M116.4 797.6h0M119.8 809.6h0M111.8 821.1h0M117.1 797.0h0M124.0 831.6h0M120.3 820.8h0M122.2 811.8h0M123.2 833.5h0M128.9 807.0h0M123.1 830.2h0M121.0 780.4h0M121.9 838.6h0M121.1 774.8h0M125.4 810.7h0M129.8 830.5h0M117.9 815.3h0M129.8 819.1h0M114.0 810.9h0M119.7 824.9h0M120.5 829.9h0M117.6 829.7h0M115.6 802.0h0M118.0 832.7h0M116.0 802.9h0M120.1 811.7h0M131.7 824.4h0M116.2 781.0h0M121.5 797.2h0M121.8 806.2h0M115.0 800.5h0M124.5 791.9h0M121.6 836.5h0M118.3 756.2h0M119.8 813.7h0M126.5 791.8h0M127.2 835.0h0M124.5 825.6h0M123.2 812.7h0M121.0 777.3h0M104.3 821.6h0M114.4 804.1h0M121.1 829.1h0M125.5 789.8h0M118.9 804.6h0M123.3 827.9h0M125.7 789.6h0M130.9 815.9h0M124.4 811.1h0M129.6 816.1h0M130.8 834.9h0M112.3 830.7h0M120.3 781.9h0M138.8 826.5h0M123.0 834.4h0M117.3 786.6h0M130.2 795.1h0M120.7 796.7h0M128.9 799.9h0M121.0 823.4h0M121.6 807.2h0M119.2 792.6h0M128.0 815.0h0M126.0 836.9h0M123.9 821.6h0M126.8 823.9h0M125.2 822.3h0M126.7 788.5h0M128.6 786.4h0M124.1 835.0h0M120.6 807.1h0M124.8 829.1h0M127.3 808.4h0M119.7 770.1h0M126.5 831.4h0M120.1 818.0h0M118.8 820.3h0M118.9 826.9h0M127.1 821.8h0M120.3 773.5h0M124.6 801.9h0M114.3 804.5h0M125.1 782.2h0M119.9 817.5h0M118.5 792.3h0M137.3 827.0h0M127.0 830.7h0M102.7 814.3h0M125.6 794.7h0M136.0 818.0h0M112.6 821.8h0M134.7 812.2h0M111.0 811.0h0M126.6 794.6h0M119.5 814.5h0M126.9 808.7h0M122.4 814.2h0M117.1 801.4h0M126.3 833.3h0M132.8 822.3h0M125.0 817.9h0M134.9 807.1h0M144.1 829.8h0M113.8 819.1h0M125.3 791.3h0M119.5 806.2h0M118.6 806.9h0M135.7 807.1h0M123.9 816.1h0M125.5 765.2h0M118.3 828.8h0M117.0 790.9h0M134.3 809.3h0M122.0 796.1h0M127.2 814.6h0M116.7 809.0h0M122.9 823.0h0M122.7 834.1h0M127.4 809.6h0M122.5 805.3h0M128.2 789.0h0M124.2 788.1h0M119.0 819.0h0M131.8 828.4h0M134.6 804.5h0M113.6 827.5h0M126.8 824.1h0M118.4 774.2h0M105.4 829.5h0M119.5 808.5h0M123.7 798.7h0M126.7 811.9h0M125.7 800.9h0M120.6 821.7h0M124.5 832.8h0M125.9 815.2h0M115.5 817.5h0M117.1 834.3h0M126.9 829.5h0M125.9 816.6h0M121.0 834.9h0M124.7 838.2h0M134.1 807.7h0M120.8 832.6h0M117.7 816.5h0M126.5 787.3h0M122.3 832.6h0M120.3 827.4h0M120.4 826.2h0M119.1 762.8h0M119.5 801.4h0M136.2 821.5h0M136.3 814.6h0M119.9 833.2h0M136.0 831.9h0M124.3 808.4h0M123.4 802.7h0M122.9 810.3h0M125.6 818.3h0M124.4 795.0h0M117.6 835.6h0M126.2 803.5h0M120.8 791.7h0M126.8 810.8h0M129.0 814.3h0M127.4 811.9h0M126.7 807.7h0M128.2 830.5h0M123.6 837.7h0M125.0 795.2h0M116.5 770.5h0M120.4 800.6h0M132.2 824.7h0M118.4 791.4h0M121.5 813.1h0M126.8 820.9h0M119.0 794.0h0M124.7 826.0h0M122.4 831.8h0M128.8 820.7h0M119.8 784.6h0M120.0 754.3h0M111.6 802.5h0M124.9 832.3h0M117.9 826.4h0M125.7 832.7h0M128.1 772.9h0M123.2 825.5h0M118.4 766.6h0M112.0 804.0h0M116.4 829.4h0M125.2 825.5h0M120.3 773.9h0M120.1 835.7h0M117.9 799.3h0M122.9 838.7h0M128.9 803.3h0M121.6 809.8h0M130.2 809.2h0M124.0 807.2h0M116.4 833.4h0M138.9 823.2h0M114.3 827.3h0M118.8 805.9h0M122.2 817.0h0M122.9 830.6h0M135.0 831.7h0M131.0 806.6h0M125.3 805.4h0M120.6 819.3h0M104.0 820.1h0M121.3 795.9h0M112.5 802.2h0M119.1 787.4h0M125.6 813.7h0M117.8 800.7h0M126.8 832.2h0M136.8 804.3h0M121.0 811.3h0M120.9 815.3h0M114.5 790.7h0M134.0 803.3h0M130.2 823.4h0M125.6 810.1h0M119.8 796.2h0M118.3 800.4h0M116.8 794.9h0M114.4 805.4h0M129.9 815.2h0M119.2 802.0h0M122.4 829.8h0M108.5 813.6h0M124.4 817.7h0M123.6 832.6h0M125.4 809.1h0M111.8 817.8h0M124.3 817.1h0M119.1 816.1h0M126.2 834.7h0M120.2 837.9h0M125.7 823.8h0M120.5 770.5h0M127.1 822.3h0M125.4 796.3h0M114.8 828.4h0M121.1 817.7h0M117.8 820.1h0M131.0 813.4h0M123.0 817.9h0M119.3 798.6h0M120.8 836.3h0M128.3 796.6h0M126.6 824.9h0M123.1 813.5h0M130.9 817.5h0M132.6 805.1h0M126.1 796.0h0M119.4 800.1h0M121.7 822.1h0M130.2 798.8h0M125.5 815.9h0M138.8 809.5h0M118.2 773.5h0M123.2 829.2h0M124.5 786.3h0M117.2 773.9h0M136.7 822.2h0M125.9 818.8h0M122.6 820.6h0M121.2 830.1h0M114.9 771.3h0M126.7 828.5h0M124.2 809.9h0M121.6 819.4h0M124.7 802.5h0M128.0 829.7h0M112.7 809.0h0M117.7 830.6h0M125.5 797.0h0M125.3 783.1h0M128.6 811.7h0M127.0 819.1h0M123.3 811.6h0M129.5 833.2h0M143.3 815.8h0M129.8 793.4h0M120.4 830.5h0M127.4 806.1h0M110.5 826.4h0M127.0 772.0h0M139.9 800.2h0M120.7 802.9h0M125.7 798.3h0M133.6 799.4h0M117.1 815.5h0M102.1 816.6h0M125.7 770.2h0M105.8 816.8h0M116.1 793.1h0M120.0 810.8h0M132.9 830.3h0M119.8 827.5h0M120.0 831.0h0M126.8 776.5h0M119.9 819.8h0M129.2 779.1h0M129.3 803.8h0M118.5 831.0h0M118.6 796.8h0M124.2 803.2h0M128.7 823.9h0M116.2 788.0h0M128.3 825.1h0M120.7 762.2h0M135.1 810.9h0M119.7 790.3h0M130.5 786.2h0M128.4 815.1h0M122.4 823.4h0M129.4 823.0h0M128.2 776.5h0M119.2 826.1h0M117.3 787.7h0M127.0 782.1h0M123.6 808.7h0M122.8 822.5h0M124.5 798.8h0M127.0 781.1h0M123.3 804.9h0M123.4 800.3h0M131.4 820.7h0M124.5 797.1h0M120.5 811.5h0M125.6 826.3h0M114.5 764.5h0M121.7 833.3h0M120.0 826.6h0M123.0 820.3h0M124.7 798.0h0M131.2 823.2h0M130.4 823.0h0M131.2 811.6h0M115.0 810.2h0M128.5 812.9h0M121.3 826.9h0M109.6 819.2h0M128.4 818.9h0M118.1 833.9h0M113.8 810.5h0M119.7 823.9h0M114.5 831.5h0M126.3 810.6h0M127.8 807.0h0M124.4 837.7h0M130.0 797.4h0M123.6 817.4h0M130.0 828.8h0M121.2 793.1h0M126.3 812.8h0M121.2 799.3h0M119.2 835.3h0M132.5 833.1h0M120.8 824.1h0M124.0 837.1h0M114.3 796.0h0M131.3 795.3h0M125.3 801.6h0M109.3 823.9h0M109.7 816.2h0M129.5 830.0h0M102.3 812.0h0M123.4 821.0h0M118.0 792.8h0M131.5 802.0h0M126.4 808.5h0M120.3 813.7h0M126.8 799.2h0M122.7 831.0h0M124.5 803.3h0M109.2 809.0h0M126.7 813.0h0M127.0 784.9h0M126.4 824.8h0M117.4 776.1h0M125.8 785.9h0M120.4 788.0h0M124.0 830.5h0M123.2 802.0h0M125.3 831.4h0M113.1 799.0h0M118.6 829.7h0M127.4 791.9h0M128.5 784.9h0M120.4 751.7h0M132.1 818.2h0M126.7 801.1h0M121.0 786.6h0M119.4 747.1h0M119.3 820.5h0M118.1 776.6h0M122.4 826.1h0M115.0 788.0h0M119.6 779.1h0M119.5 792.1h0M123.0 803.6h0M122.0 794.4h0M117.5 813.2h0M123.7 821.6h0M133.1 830.1h0M132.5 808.1h0M118.5 806.8h0M134.9 805.7h0M121.2 787.5h0M123.1 835.8h0M119.2 815.1h0M127.7 826.6h0M119.4 828.3h0M129.3 794.5h0M134.6 809.3h0M125.0 812.1h0M103.7 823.1h0M139.4 823.1h0M120.5 820.1h0M124.0 822.6h0M116.2 805.7h0M121.0 817.1h0M123.1 831.5h0M126.4 829.3h0M115.6 761.8h0M117.1 798.3h0M121.1 788.8h0M120.0 802.1h0M115.8 785.8h0M121.7 827.7h0M130.2 809.8h0M111.7 806.8h0M122.5 815.9h0M118.4 823.2h0M118.8 778.3h0M117.8 811.4h0M130.3 822.0h0M130.8 820.3h0M120.3 778.9h0M140.5 803.2h0M109.1 805.1h0M123.4 808.6h0M126.4 826.9h0M119.7 799.4h0M128.8 761.4h0M117.9 808.6h0M127.4 812.7h0M134.2 827.4h0M130.0 826.1h0M117.8 772.5h0M126.3 758.6h0M147.3 818.4h0M128.8 779.9h0M116.5 791.8h0M126.6 817.7h0M130.0 812.2h0M120.0 824.3h0M117.1 807.3h0M121.2 779.2h0M124.3 796.5h0M109.3 828.0h0M109.4 812.9h0M120.0 831.4h0M115.2 802.6h0M128.1 797.8h0M115.8 816.3h0M126.2 803.1h0M115.5 773.6h0M131.0 803.6h0M117.7 779.3h0M124.5 787.6h0M117.2 832.6h0M120.3 801.8h0M115.2 821.8h0M127.8 831.4h0M135.9 823.1h0M117.0 803.0h0M130.2 818.0h0M133.3 816.8h0M108.6 818.9h0M120.2 822.9h0M124.2 813.0h0M116.1 819.8h0M130.3 829.0h0M129.1 826.8h0M118.5 825.3h0M123.5 834.9h0M122.6 801.0h0M105.9 807.4h0M116.7 769.5h0M131.0 816.7h0M105.1 801.3h0M108.4 829.0h0M120.9 827.8h0M118.3 797.7h0M124.6 795.3h0M124.6 781.8h0M118.0 822.3h0M118.3 765.3h0M122.1 803.8h0M119.4 803.5h0M117.8 808.7h0M133.4 813.4h0M117.2 822.1h0M115.5 775.4h0M128.1 813.7h0M117.1 824.3h0M130.9 802.7h0M118.9 785.1h0M144.8 818.7h0M110.1 801.0h0M123.8 833.6h0M117.2 811.4h0M124.0 806.5h0M118.2 790.4h0M125.5 763.8h0M120.0 784.2h0M119.7 785.8h0M107.6 816.3h0M116.8 820.6h0M117.0 828.1h0M135.1 817.0h0M114.5 811.4h0M104.7 826.9h0M119.4 791.1h0M130.8 829.5h0M124.9 823.9h0M118.0 778.0h0M113.5 823.2h0M121.1 791.9h0M119.2 770.9h0M120.3 781.6h0M120.1 818.7h0M110.9 824.3h0M129.4 786.0h0M111.8 817.1h0M110.7 813.4h0M133.0 810.7h0M128.7 799.0h0M131.9 823.1h0M126.3 782.6h0M126.7 796.4h0M125.7 836.5h0M132.7 804.4h0M128.7 795.9h0M131.4 807.7h0M122.1 806.6h0M115.1 827.3h0M120.2 767.3h0M126.2 785.1h0M127.8 798.4h0M125.9 790.5h0M120.7 794.3h0M133.8 825.1h0M111.6 825.9h0M127.7 818.2h0M99.1 819.0h0M110.9 831.5h0M122.9 824.5h0M125.6 809.2h0M129.8 827.8h0M120.8 769.5h0M128.5 802.4h0M130.4 793.7h0M119.7 772.3h0M114.4 820.1h0M119.4 777.1h0M139.5 819.3h0M127.5 782.5h0M121.4 815.7h0M122.0 836.9h0M128.9 837.3h0M111.5 815.1h0M121.7 823.6h0M119.8 805.0h0M122.8 836.4h0M128.5 819.9h0M132.6 830.7h0M113.8 828.4h0M120.4 818.1h0M121.2 786.7h0M117.5 821.1h0M124.9 836.8h0M129.7 808.0h0M130.2 792.7h0M113.2 831.2h0M124.3 813.4h0M120.8 812.8h0M132.4 811.5h0M122.1 800.2h0M126.4 820.5h0M108.4 817.2h0M122.1 795.5h0M128.6 826.3h0M116.6 820.3h0M110.0 810.3h0M132.6 810.8h0M114.3 790.1h0M139.4 804.6h0M116.3 831.4h0M132.3 814.0h0M122.3 804.5h0M115.9 808.5h0M114.5 828.4h0M116.3 767.8h0M121.2 785.5h0M135.2 826.8h0M120.8 798.3h0M130.1 811.3h0M131.9 816.1h0M126.9 789.8h0M113.9 819.0h0M121.7 837.1h0M130.9 821.2h0M114.6 830.9h0M113.3 824.6h0M130.4 780.2h0M113.0 822.8h0M142.2 817.8h0M124.7 808.4h0M116.3 775.2h0M131.6 808.5h0M125.5 800.4h0M133.8 818.5h0M117.3 803.3h0M125.0 835.9h0M139.4 816.9h0M124.6 781.6h0M123.8 826.0h0M115.4 790.5h0M128.5 834.7h0M132.7 827.6h0M116.1 778.6h0M119.8 773.7h0M118.6 813.8h0M125.0 812.4h0M121.4 837.8h0M129.3 791.1h0M120.5 814.8h0M115.6 810.7h0M127.7 799.7h0M144.3 801.3h0M128.4 808.1h0M121.2 819.7h0M120.1 788.0h0M131.5 830.3h0M119.5 792.9h0M127.8 833.0h0M129.9 813.2h0M126.5 804.5h0M121.1 813.6h0M127.6 828.8h0M130.5 791.3h0M129.7 827.1h0M114.7 824.7h0M115.8 798.6h0M122.3 807.4h0M129.7 786.3h0M125.2 824.5h0M127.0 784.2h0M138.4 802.2h0M117.8 806.1h0M126.6 819.7h0M120.1 794.9h0M126.9 802.2h0M118.1 810.7h0M117.1 829.3h0M131.3 833.8h0M126.5 774.8h0M125.7 806.1h0M121.1 803.4h0M126.5 780.1h0M124.4 793.8h0M120.3 785.9h0M110.8 816.9h0M122.9 819.3h0M120.7 755.5h0M108.9 811.1h0M117.2 780.7h0M115.2 794.1h0M118.3 803.7h0M112.6 810.1h0M115.0 833.1h0M145.0 820.1h0M130.7 801.5h0M119.3 781.9h0M117.3 814.1h0M125.5 785.3h0M119.0 831.7h0M113.7 815.4h0M132.5 818.7h0M119.5 830.0h0M123.2 826.8h0M125.0 794.2h0M131.0 776.8h0M119.2 769.5h0M108.1 825.9h0M115.4 808.4h0M125.2 783.8h0M117.5 802.5h0M104.0 816.3h0M115.5 822.8h0M128.6 771.2h0M124.6 790.7h0M117.2 813.5h0M113.1 813.4h0M118.8 811.1h0M130.8 797.1h0M122.2 824.5h0M119.2 824.4h0M131.6 832.8h0M131.6 815.3h0M135.5 825.0h0M154.7 818.4h0M121.3 794.6h0M112.4 832.4h0M121.0 809.7h0M116.7 833.6h0M124.4 826.7h0M133.2 821.8h0M121.6 802.3h0M118.9 765.6h0M126.3 825.7h0M129.1 829.8h0M116.7 785.8h0M126.8 783.2h0M131.8 799.5h0M120.4 805.6h0M119.2 798.5h0M123.8 814.3h0M102.6 804.6h0M113.4 805.1h0M116.2 776.5h0M117.0 831.7h0M121.7 820.5h0M134.1 826.2h0M131.5 829.1h0M117.1 822.3h0M100.6 825.0h0M135.8 798.8h0M130.6 826.2h0M118.5 835.9h0M129.9 800.4h0M138.9 807.7h0M131.3 792.2h0M132.8 826.4h0M123.6 811.3h0M127.6 799.1h0M124.0 838.7h0M118.7 782.0h0M135.5 816.1h0M126.0 797.0h0M124.2 819.9h0M121.4 802.4h0M129.5 784.9h0M115.2 809.1h0M117.8 826.7h0M126.3 774.5h0M144.5 828.8h0M126.7 788.9h0M124.7 794.5h0M112.0 813.5h0M113.9 792.1h0M125.9 787.6h0M125.1 787.6h0M113.8 808.7h0M111.3 820.0h0M116.7 815.9h0M133.9 817.3h0M112.0 799.5h0M115.3 787.1h0M129.4 798.6h0M115.5 799.5h0M150.4 826.5h0M114.2 768.3h0M113.5 816.7h0M134.2 806.6h0M125.3 801.2h0M107.6 808.1h0M129.7 817.5h0M130.8 834.4h0M119.6 783.3h0M125.8 786.9h0M132.1 822.2h0M127.5 779.5h0M116.3 826.8h0M116.0 795.1h0M119.0 796.0h0M122.5 821.5h0M114.9 806.1h0M106.4 824.5h0M128.7 783.9h0M115.9 772.0h0M126.5 803.6h0M111.7 822.4h0M119.3 802.5h0M129.1 818.1h0M125.4 813.2h0M111.0 825.5h0M138.2 812.7h0M112.8 828.4h0M124.5 783.9h0M113.1 807.3h0M117.3 770.7h0M127.1 834.6h0M129.4 796.7h0M118.6 790.0h0M110.0 811.5h0M118.7 802.8h0M117.8 774.0h0M114.4 806.7h0M127.7 793.2h0M124.0 818.9h0M136.8 826.2h0M120.2 809.0h0M121.0 775.5h0M129.2 783.8h0M130.5 774.3h0M122.2 808.5h0M124.8 827.8h0M120.0 822.1h0M112.4 820.0h0M108.4 830.3h0M119.5 835.4h0M127.7 795.1h0M128.0 817.1h0M131.3 775.1h0M109.5 827.1h0M119.9 805.2h0M137.5 828.8h0M122.0 797.5h0M120.6 787.5h0M125.1 774.4h0M108.7 813.0h0M135.4 799.4h0M115.7 827.8h0M139.0 828.1h0M128.9 821.5h0M123.7 823.5h0M119.0 783.7h0M105.3 809.7h0M115.4 769.7h0M103.6 824.9h0M112.6 798.6h0M118.6 832.5h0M98.7 818.2h0M116.4 780.3h0M128.8 785.9h0M146.4 813.2h0M109.4 804.5h0M127.6 833.9h0M122.8 828.6h0M146.6 828.1h0M116.0 773.4h0M116.0 814.8h0M125.7 827.7h0M138.7 829.8h0M104.4 810.2h0M133.1 821.1h0M104.2 804.7h0M119.2 759.2h0M100.9 833.3h0M128.8 805.0h0M128.4 789.9h0M130.7 790.6h0M111.4 829.7h0M116.3 800.3h0M145.0 803.5h0M130.9 808.5h0M120.4 797.7h0M136.4 828.9h0M116.9 805.0h0M126.4 805.0h0M117.6 794.5h0M118.1 831.6h0M105.7 818.6h0M117.7 752.9h0M118.6 829.0h0M117.4 826.6h0M125.1 815.0h0M116.6 795.8h0M137.6 815.3h0M132.2 825.9h0M108.3 805.2h0M115.4 791.1h0M117.9 828.3h0M124.7 814.2h0M125.6 782.5h0M124.9 821.2h0M104.4 814.3h0M118.9 833.3h0M119.8 786.3h0M119.9 793.7h0M118.8 781.3h0M129.7 814.5h0M120.7 743.9h0M130.0 819.6h0M105.6 821.0h0M131.1 818.4h0M119.1 834.5h0M139.6 820.1h0M115.3 819.1h0M121.6 808.1h0M123.3 806.1h0M126.3 764.5h0M130.4 791.8h0M132.7 804.0h0M117.1 757.6h0M132.3 832.4h0M115.4 831.8h0M120.4 836.6h0M121.5 796.2h0M120.8 795.5h0M115.5 783.2h0M116.5 795.2h0M133.9 830.7h0M118.2 787.0h0M114.3 788.4h0M125.5 819.6h0M117.6 823.3h0M116.7 789.0h0M139.2 803.2h0M120.7 789.4h0M115.5 825.5h0M119.7 766.5h0M128.8 835.1h0M130.5 815.7h0M115.7 801.1h0M154.3 804.8h0M116.6 781.6h0M139.5 825.4h0M125.1 818.9h0M109.8 801.5h0M126.5 786.3h0M138.2 828.8h0M131.9 829.2h0M131.0 810.9h0M131.1 820.0h0M121.7 822.6h0M127.6 767.0h0M132.8 808.0h0M117.9 824.3h0M112.3 810.7h0M112.6 834.1h0M125.5 803.9h0M130.9 818.6h0M117.0 788.3h0M130.1 813.4h0M116.6 778.1h0M135.8 816.8h0M136.2 829.4h0M130.3 824.2h0M133.8 816.3h0M134.4 819.6h0M122.7 827.6h0M118.9 814.9h0M114.2 818.0h0M129.4 799.6h0M118.3 780.1h0M112.8 823.5h0M132.8 807.1h0M110.5 826.8h0M112.5 825.5h0M114.6 778.3h0M113.8 814.1h0M111.9 811.1h0M115.5 792.8h0M130.0 834.6h0M117.4 799.2h0M130.5 833.6h0M118.6 799.0h0M110.8 817.7h0M132.9 809.8h0M111.4 808.6h0M116.9 827.0h0M133.7 812.9h0M114.7 774.7h0M112.9 831.7h0M118.9 809.3h0M141.1 808.7h0M136.5 829.7h0M105.4 799.4h0M131.3 765.3h0M107.0 806.7h0M116.4 818.0h0M121.9 814.8h0M127.1 778.9h0M112.6 807.3h0M118.9 809.8h0M130.3 772.9h0M128.2 827.5h0M104.7 822.9h0M132.4 801.7h0M130.7 805.5h0M141.5 824.4h0M125.5 804.6h0M124.4 828.1h0M129.0 788.9h0M126.2 778.1h0M119.5 767.8h0M125.9 780.1h0M113.9 813.7h0M136.8 800.8h0M124.8 830.4h0M129.0 793.3h0M135.3 816.0h0M140.0 811.4h0M112.1 803.4h0M134.8 830.1h0M119.3 836.7h0M109.0 807.2h0M120.1 778.0h0M120.8 804.4h0M112.4 829.6h0M110.6 805.6h0M136.4 818.2h0M117.7 817.1h0M118.9 789.6h0M141.2 819.5h0M118.1 785.5h0M125.8 834.8h0M120.1 834.4h0M122.2 798.3h0M136.4 803.4h0M110.2 829.6h0M128.3 831.5h0M118.3 821.4h0M107.8 812.9h0M128.5 830.4h0M126.5 785.7h0M117.3 837.2h0M102.7 811.3h0M117.7 768.1h0M115.6 829.6h0M118.0 798.1h0M134.4 832.8h0M114.9 814.7h0M118.8 772.5h0M129.4 806.6h0M118.3 804.2h0M116.8 800.1h0M141.5 815.7h0M119.0 757.5h0M128.3 793.4h0M120.8 789.9h0M134.2 832.0h0M128.5 801.2h0M109.4 821.5h0M130.2 798.4h0M111.6 821.3h0M115.2 815.7h0M109.3 810.4h0M114.4 833.2h0M114.4 782.2h0M131.4 786.7h0M130.2 796.7h0M148.3 818.4h0M113.0 828.9h0M129.8 793.1h0M115.9 823.5h0M115.0 804.4h0M111.1 802.6h0M112.4 815.0h0M115.8 777.5h0M128.2 795.5h0M125.1 834.8h0M106.0 817.7h0M119.5 769.4h0M113.2 817.5h0M128.9 806.8h0M124.8 788.3h0M125.5 763.1h0M129.2 820.9h0M112.7 829.0h0M115.7 812.6h0M106.5 804.5h0M119.1 783.0h0M128.6 835.9h0M97.7 809.0h0M130.2 804.3h0M114.9 786.4h0M142.0 810.7h0M128.6 811.3h0M114.6 785.1h0M143.5 829.3h0M112.9 817.0h0M127.0 826.0h0M136.5 833.4h0M129.8 792.2h0M124.4 829.9h0M112.9 816.7h0M113.4 821.2h0M117.0 771.1h0M145.7 826.7h0M108.1 825.3h0M116.0 810.8h0M118.4 788.4h0M116.7 767.6h0M138.4 817.5h0M105.7 811.2h0M115.0 785.7h0M116.8 772.1h0M128.3 777.7h0M122.5 813.6h0M115.7 790.8h0M116.4 810.4h0M117.4 810.8h0M107.4 830.3h0M135.3 810.0h0M124.8 793.1h0M133.7 805.9h0M118.3 835.8h0M130.4 830.5h0M129.4 834.9h0M134.1 815.8h0M118.4 779.4h0M124.1 805.4h0M108.8 816.3h0M118.5 780.7h0M135.0 821.2h0M134.3 819.3h0M108.7 825.7h0M129.4 796.0h0M140.2 825.3h0M119.7 772.7h0M124.9 778.5h0M119.7 815.9h0M130.3 807.3h0M130.0 804.4h0M137.6 822.8h0M125.7 783.6h0M114.8 798.0h0M127.0 767.9h0M114.5 823.2h0M130.9 812.9h0M134.7 832.6h0M117.4 783.0h0M127.5 802.2h0M115.4 796.1h0M128.3 783.0h0M113.9 834.1h0M137.5 806.8h0M129.1 813.6h0M119.5 776.1h0M110.4 809.7h0M125.7 781.2h0M137.3 820.7h0M127.5 787.8h0M116.9 825.1h0M132.0 817.4h0M126.0 763.1h0M117.8 755.1h0M130.4 783.8h0M133.3 812.6h0M114.0 798.9h0M120.9 785.1h0M106.0 800.6h0M121.0 799.2h0M139.2 821.8h0M110.5 820.1h0M109.2 799.7h0M113.1 812.0h0M116.9 823.9h0M108.6 820.0h0M115.5 780.1h0M110.2 815.5h0M119.0 821.3h0M130.1 781.8h0M129.3 824.3h0M129.4 801.6h0M115.0 816.0h0M113.4 801.3h0M133.5 818.2h0M120.8 772.3h0M131.8 817.2h0M124.9 785.1h0M105.4 811.9h0M117.7 784.6h0M111.7 802.0h0M113.5 830.1h0M128.3 781.1h0M134.8 826.1h0M128.0 832.2h0M134.5 821.0h0M107.0 823.8h0M114.2 809.5h0M128.1 809.3h0M128.4 824.5h0M136.4 806.4h0M115.8 832.4h0M118.0 825.7h0M134.5 801.0h0M127.5 774.4h0M129.3 778.7h0M117.0 779.0h0M115.7 830.3h0M140.5 819.5h0M120.0 753.2h0M127.7 803.0h0M114.4 801.3h0M135.6 804.9h0M114.0 812.8h0M114.8 783.6h0M115.0 834.2h0M109.7 818.0h0M124.4 789.2h0M121.8 801.0h0M114.1 792.7h0M103.6 814.7h0M127.9 777.7h0M116.6 835.0h0M111.1 833.2h0M122.1 793.6h0M100.5 811.9h0M110.7 821.3h0M133.9 799.5h0M129.1 833.3h0M111.6 808.9h0M142.5 822.1h0M129.7 789.3h0M135.4 818.4h0M114.3 802.6h0M103.0 820.1h0M106.3 823.6h0M147.6 807.5h0M108.4 820.6h0M116.4 816.9h0M110.1 824.3h0M97.7 809.6h0M111.9 825.1h0M129.7 758.9h0M129.8 776.3h0M127.3 795.6h0M112.8 801.4h0M130.6 832.8h0M116.0 807.1h0M117.9 807.3h0M137.2 813.0h0M131.5 796.6h0M133.2 824.1h0M136.0 830.9h0M116.8 802.3h0M110.3 801.3h0M125.3 838.5h0M115.4 832.1h0M111.4 814.9h0M114.6 793.8h0M133.4 804.9h0M112.7 822.6h0M122.2 825.5h0M116.2 786.9h0M124.2 800.3h0M120.6 764.8h0M114.6 816.9h0M129.2 812.3h0M118.9 761.6h0M130.8 806.3h0M131.2 787.2h0M127.2 813.5h0M119.1 785.4h0M125.2 779.9h0M114.3 815.8h0M114.1 789.4h0M129.9 805.6h0M121.2 781.4h0M137.8 817.3h0M118.6 800.5h0M109.1 818.1h0M114.9 789.5h0M103.3 816.7h0M122.0 792.5h0M131.2 822.1h0M111.8 816.3h0M129.4 817.7h0M114.2 815.9h0M107.7 802.6h0M137.0 810.8h0M136.4 799.4h0M134.0 827.9h0M132.8 819.2h0M137.1 823.2h0M108.8 826.1h0M117.5 788.4h0M131.7 809.8h0M119.8 822.4h0M131.7 814.2h0M114.2 826.3h0M126.5 766.9h0M121.4 816.9h0M125.3 766.4h0M98.8 816.1h0M137.5 826.6h0M102.8 808.9h0M117.2 805.4h0M128.7 778.6h0M113.8 807.8h0M119.3 787.4h0M102.0 819.1h0M132.4 809.3h0M145.5 824.5h0M137.9 812.9h0M132.6 821.1h0M117.3 791.7h0M109.6 813.6h0M113.2 830.3h0M115.5 771.8h0M114.9 807.3h0M121.1 782.3h0M119.0 746.1h0M115.6 794.8h0M138.9 830.4h0M113.7 802.0h0M113.8 820.0h0M119.6 771.3h0M133.7 823.0h0M129.9 807.1h0M131.5 800.4h0M127.7 834.8h0M115.3 811.9h0M115.6 828.6h0M130.4 781.5h0M110.1 820.6h0M114.7 786.1h0M129.8 809.0h0M137.1 820.9h0M137.3 825.6h0M121.1 783.6h0M119.1 813.1h0M141.8 806.5h0M133.4 801.9h0M133.5 823.7h0M112.8 813.2h0M135.9 826.9h0M141.8 812.2h0M135.6 803.2h0M114.1 807.8h0M118.8 742.3h0M132.9 824.9h0M114.6 822.7h0M123.3 801.1h0M131.3 782.8h0M114.0 821.9h0M132.7 810.4h0M111.1 828.4h0M98.3 820.1h0M116.4 829.2h0M126.5 766.2h0M136.8 820.2h0M117.3 756.3h0M113.3 810.3h0M118.3 774.8h0M109.6 816.9h0M113.9 779.9h0M108.3 799.1h0M117.7 758.9h0M138.0 817.9h0M143.5 830.5h0M136.1 811.3h0M129.5 823.4h0M116.9 764.0h0M132.6 815.6h0M135.0 815.4h0M114.8 797.6h0M112.8 804.5h0M118.3 769.1h0M127.5 772.6h0M116.8 792.6h0M115.1 767.2h0M127.7 761.7h0M135.6 800.2h0M138.9 822.0h0M135.7 812.6h0M134.9 823.2h0M115.0 823.5h0M114.0 767.7h0M116.4 773.9h0M129.9 787.4h0M115.5 826.6h0M115.1 817.9h0M143.8 822.2h0M109.1 801.7h0M116.0 821.2h0M105.8 826.7h0M109.0 827.4h0M127.4 761.9h0M117.0 777.6h0M127.7 804.2h0M132.4 829.8h0M133.2 829.1h0M134.2 802.0h0M128.0 810.7h0M104.9 818.2h0M136.6 802.5h0M109.1 831.5h0M131.1 826.7h0M115.8 804.4h0M118.4 765.4h0M141.3 827.7h0M125.5 775.3h0M115.6 762.9h0M115.6 769.0h0M108.2 827.4h0M116.4 789.3h0M114.3 807.4h0M116.0 783.4h0M107.5 817.1h0M143.2 827.5h0M133.1 820.2h0M124.7 772.4h0M128.1 808.5h0M118.0 796.4h0M117.8 776.0h0M124.5 811.6h0M137.4 811.3h0M117.8 790.7h0M115.0 792.0h0M144.8 798.6h0M126.2 772.5h0M114.0 796.3h0M127.8 774.8h0M133.2 831.4h0M129.9 790.2h0M135.0 822.7h0M110.9 814.9h0M124.5 790.2h0M141.9 822.2h0M133.0 806.1h0M113.4 806.2h0M127.7 778.5h0M127.6 783.0h0M137.6 828.2h0M139.0 834.4h0M136.6 819.3h0M132.0 799.0h0M142.2 823.6h0M103.0 822.4h0M139.8 826.6h0M136.6 825.2h0M132.6 806.4h0M130.8 814.1h0M119.3 769.0h0M145.3 805.8h0M121.1 777.5h0M115.1 805.3h0M118.6 774.9h0M130.9 800.7h0M101.0 829.0h0M131.4 818.9h0M101.7 803.1h0M108.8 829.8h0M114.2 772.8h0M131.6 835.0h0M118.8 768.6h0M118.0 819.4h0M143.9 809.5h0M114.1 825.0h0M126.9 777.4h0M110.6 801.7h0M126.6 797.6h0M139.0 820.2h0M128.3 794.9h0M106.2 822.6h0M129.4 810.4h0M116.9 775.2h0M128.7 797.0h0M134.9 821.9h0M97.8 807.7h0M115.6 824.3h0M144.4 824.6h0M127.7 791.3h0M112.5 805.8h0M130.6 789.6h0M107.2 823.0h0M140.2 831.4h0M121.6 790.6h0M120.0 761.5h0M150.7 822.6h0M130.4 811.4h0M109.9 831.2h0M136.0 810.0h0M132.6 812.8h0M133.4 805.1h0M103.7 810.6h0M118.3 771.3h0M144.6 823.5h0M131.9 814.4h0M106.9 824.7h0M112.2 820.6h0M115.4 780.9h0M114.0 770.5h0M140.2 815.3h0M99.3 822.8h0M136.5 816.4h0M130.8 826.9h0M106.0 807.8h0M132.6 800.5h0M145.5 828.7h0M119.1 768.1h0M118.8 749.4h0M141.8 815.1h0M131.1 785.3h0M109.8 824.9h0M108.9 817.5h0M130.0 782.6h0M128.3 788.8h0M111.4 829.3h0M112.4 814.5h0M127.0 772.8h0M110.6 823.9h0M111.3 807.4h0M112.9 827.2h0M108.9 829.1h0M119.4 755.5h0M136.7 805.2h0M118.1 763.7h0M117.6 763.0h0M123.8 804.5h0M113.9 832.3h0M146.3 815.5h0M133.6 812.2h0M102.9 806.7h0M102.9 826.5h0M130.1 831.4h0M116.4 784.5h0M108.8 822.2h0M107.5 805.9h0M127.2 775.9h0M97.9 814.6h0M109.2 806.1h0M116.4 712.0h0M116.1 722.2h0M128.7 725.1h0M130.6 730.9h0M115.7 738.3h0M116.9 739.2h0M119.6 742.7h0M118.7 746.7h0M125.7 747.6h0M126.6 749.1h0M129.2 749.7h0M127.4 754.9h0M126.6 757.6h0M127.1 760.7h0M125.7 765.4h0M116.1 761.1h0M115.7 764.6h0M78.4 801.9h0M86.3 819.2h0M92.4 815.4h0M96.8 822.4h0M97.7 824.1h0M159.9 801.0h0M156.4 797.8h0M155.5 804.0h0M154.6 810.1h0M159.0 818.9h0M175.6 813.6h0M167.7 828.5h0M153.7 829.7h0M157.2 827.6h0M152.8 822.4h0M145.0 800.5h0M145.8 803.1h0" stroke="#BEBEBE" stroke-width="2.2" stroke-linecap="round" fill="none"/>
<path d="M113.4 730.8h0M109.6 733.6h0M107.3 737.8h0M112.6 753.2h0M111.2 755.8h0M95.9 756.7h0M98.2 757.6h0M105.2 765.1h0M107.3 763.7h0M109.9 763.3h0M111.7 763.3h0M110.5 771.2h0M112.6 770.7h0M111.7 773.3h0M109.1 774.2h0M112.6 775.1h0M97.7 775.9h0M105.2 775.1h0M110.8 776.8h0M112.6 778.6h0M109.9 780.0h0M106.4 782.1h0M110.8 782.1h0M95.0 782.1h0M94.2 784.7h0M107.3 784.7h0M109.9 785.6h0M112.6 784.7h0M108.2 787.3h0M110.8 788.2h0M103.8 789.4h0M106.9 790.8h0M109.1 791.7h0M112.2 790.8h0M96.8 791.7h0M97.1 793.5h0M90.3 793.5h0M109.1 794.3h0M111.7 794.3h0M107.3 796.1h0M110.8 797.0h0M112.6 797.8h0M95.0 797.0h0M101.2 797.8h0M103.4 797.5h0M109.9 797.8h0M113.0 779.9h0M110.0 776.3h0M113.3 784.9h0M107.0 788.4h0M110.7 797.0h0M109.1 786.6h0M112.0 777.6h0M107.6 796.7h0M112.5 784.0h0M110.2 789.4h0M112.7 783.6h0M109.8 776.1h0M109.4 789.8h0M112.0 792.1h0M113.3 775.3h0M109.0 783.1h0M113.2 780.3h0M112.9 774.8h0M107.7 776.2h0M110.7 797.6h0M111.4 795.4h0M113.0 780.9h0M111.1 791.2h0M107.4 771.0h0M109.9 796.3h0M109.9 785.3h0M109.9 793.5h0M113.1 777.8h0" stroke="#0808FA" stroke-width="2.5" stroke-linecap="round" fill="none"/>
<path d="M137.6 731.8h0M149.0 745.1h0M150.2 748.4h0M142.3 750.2h0M133.1 752.6h0M172.1 755.3h0M132.2 763.3h0M139.7 763.7h0M133.6 766.7h0M138.0 767.2h0M132.7 768.9h0M138.0 773.0h0M150.2 775.1h0M133.1 776.8h0M133.6 778.2h0M140.2 781.2h0M134.5 782.1h0M138.5 784.2h0M143.2 786.5h0M150.2 787.3h0M168.3 788.6h0M131.8 785.6h0M134.5 787.3h0M137.1 789.1h0M132.7 790.8h0M135.3 791.7h0M145.0 794.0h0M143.7 794.7h0M133.6 795.2h0M138.0 795.2h0M135.3 797.0h0M133.2 796.1h0M131.8 793.5h0M136.3 782.5h0M136.3 793.4h0M134.5 782.3h0M133.2 778.5h0M131.8 791.0h0M133.8 785.3h0M133.9 793.3h0M131.7 780.4h0M131.8 782.4h0M137.4 793.3h0M135.4 786.6h0M132.9 786.6h0M134.1 780.5h0M137.3 775.4h0M136.8 796.3h0M136.5 777.0h0M133.8 794.3h0M134.4 783.5h0M135.5 796.7h0M131.8 784.2h0M134.8 796.4h0M133.1 787.7h0M136.7 780.5h0M131.9 792.0h0M135.5 790.4h0M136.7 790.7h0M132.8 785.6h0M136.8 780.1h0M136.7 789.7h0M131.6 777.5h0M135.7 790.8h0M131.5 789.5h0M134.5 783.6h0M134.1 793.3h0M132.7 779.5h0" stroke="#FA0808" stroke-width="2.5" stroke-linecap="round" fill="none"/>
<rect x="27.20" y="707.00" width="192.00" height="138.50" fill="none" stroke="#1a1a1a" stroke-width="1.2"/>
<path d="M55.3 846.1v2.6M89.0 846.1v2.6M122.7 846.1v2.6M156.4 846.1v2.6M190.1 846.1v2.6M26.6 839.2h-2.6M26.6 808.0h-2.6M26.6 776.8h-2.6M26.6 745.6h-2.6M26.6 714.4h-2.6" stroke="#333" stroke-width="1" fill="none"/>
<text x="53.4" y="858.9" font-size="9.6" text-anchor="middle" fill="#333">-2</text>
<text x="87.1" y="858.9" font-size="9.6" text-anchor="middle" fill="#333">-1</text>
<text x="122.7" y="858.9" font-size="9.6" text-anchor="middle" fill="#333">0</text>
<text x="156.4" y="858.9" font-size="9.6" text-anchor="middle" fill="#333">1</text>
<text x="190.1" y="858.9" font-size="9.6" text-anchor="middle" fill="#333">2</text>
<text x="21.4" y="842.6" font-size="9.8" text-anchor="end" fill="#333">0</text>
<text x="21.4" y="811.4" font-size="9.8" text-anchor="end" fill="#333">1</text>
<text x="21.4" y="780.2" font-size="9.8" text-anchor="end" fill="#333">2</text>
<text x="21.4" y="749.0" font-size="9.8" text-anchor="end" fill="#333">3</text>
<text x="21.4" y="717.8" font-size="9.8" text-anchor="end" fill="#333">4</text>
<text x="63.1" y="872.6" font-size="11.3">log<tspan font-size="7" font-weight="bold" dy="0.8">2</tspan><tspan dy="-0.8">(IVF-HFD/NC-HFD)</tspan></text>
<text transform="translate(8.7 784.0) rotate(-90)" font-size="11.5" text-anchor="middle">-log10(p-value)</text>
<circle cx="55.7" cy="692" r="2.5" fill="#1515F5"/><circle cx="105.5" cy="692" r="2.5" fill="#C4C4C4"/><circle cx="166" cy="692" r="2.5" fill="#F51515"/>
<text x="63.2" y="694.6" font-size="9.2" fill="#222">Down</text>
<text x="113.1" y="694.6" font-size="9.2" fill="#222">Unchanged</text>
<text x="174.3" y="694.6" font-size="9.2" fill="#222">Up</text>
<rect x="261.8" y="705.3" width="191.7" height="136.9" fill="#fff"/>
<path d="M271.9 705.3V842.2M329.7 705.3V842.2M387.5 705.3V842.2M445.3 705.3V842.2M261.8 823.6H453.5M261.8 797.5H453.5M261.8 771.4H453.5M261.8 745.2H453.5M261.8 719.1H453.5" stroke="#F2F2F2" stroke-width="0.8" fill="none"/>
<path d="M300.8 705.3V842.2M358.6 705.3V842.2M416.4 705.3V842.2M261.8 836.6H453.5M261.8 810.5H453.5M261.8 784.4H453.5M261.8 758.3H453.5M261.8 732.2H453.5M261.8 706.1H453.5" stroke="#EBEBEB" stroke-width="1" fill="none"/>
<path d="M360.6 804.8h0M358.1 804.6h0M360.5 817.2h0M362.1 825.2h0M362.5 833.2h0M357.3 821.9h0M358.2 821.0h0M359.3 833.6h0M356.9 768.2h0M358.4 811.8h0M358.0 826.9h0M355.9 820.1h0M363.9 787.8h0M354.4 798.8h0M360.2 802.5h0M363.3 821.6h0M361.9 818.0h0M360.8 810.8h0M361.2 832.9h0M364.2 815.7h0M356.3 825.7h0M357.6 800.1h0M356.8 832.8h0M358.1 810.7h0M356.0 827.2h0M360.9 798.9h0M357.5 800.6h0M358.0 835.1h0M354.8 809.5h0M358.7 836.5h0M363.5 817.6h0M352.6 820.0h0M355.2 828.0h0M363.6 823.9h0M367.7 804.7h0M359.2 824.2h0M358.1 829.8h0M358.4 809.9h0M357.7 819.6h0M366.4 805.1h0M367.3 826.9h0M361.8 824.1h0M354.4 805.0h0M354.2 817.5h0M359.4 835.4h0M360.5 795.5h0M355.4 831.9h0M357.4 802.4h0M360.2 822.4h0M355.4 793.3h0M356.4 821.3h0M357.9 795.1h0M357.9 815.6h0M355.0 826.7h0M355.5 808.0h0M358.9 810.9h0M353.0 810.5h0M344.4 819.1h0M360.4 827.3h0M357.6 812.3h0M357.8 831.2h0M350.8 810.2h0M359.2 812.5h0M359.1 822.1h0M353.6 805.1h0M360.6 828.3h0M358.4 821.7h0M356.7 805.1h0M355.1 822.0h0M357.5 809.2h0M364.9 813.4h0M357.1 794.6h0M356.7 778.3h0M359.4 808.8h0M354.7 829.7h0M360.3 802.3h0M362.7 821.3h0M356.4 815.7h0M364.8 818.5h0M353.5 792.1h0M362.1 821.2h0M358.6 836.5h0M362.5 820.6h0M363.8 812.7h0M357.9 795.3h0M360.4 796.5h0M360.7 823.8h0M360.4 780.6h0M358.9 828.5h0M358.6 803.7h0M361.7 829.5h0M359.4 832.4h0M357.4 801.6h0M357.3 830.1h0M358.4 816.7h0M353.7 826.1h0M360.6 818.0h0M357.0 815.7h0M363.1 831.2h0M361.1 801.2h0M364.3 825.4h0M355.9 833.1h0M364.5 828.2h0M354.9 823.3h0M355.0 796.0h0M358.0 799.4h0M356.7 818.5h0M362.0 819.4h0M362.3 811.2h0M354.9 801.6h0M352.3 823.5h0M362.6 805.4h0M368.4 814.2h0M358.4 808.2h0M359.1 817.7h0M363.1 810.2h0M362.2 809.9h0M359.3 833.9h0M365.6 829.8h0M356.2 827.6h0M358.0 833.4h0M355.7 827.5h0M356.5 813.9h0M351.3 805.8h0M360.5 794.6h0M352.6 822.2h0M365.4 809.5h0M357.7 803.7h0M357.0 827.0h0M356.7 800.7h0M360.3 817.5h0M356.6 808.7h0M357.3 816.4h0M359.8 824.2h0M360.5 818.6h0M364.5 803.2h0M357.3 835.0h0M370.6 815.6h0M361.8 814.0h0M363.3 808.5h0M359.4 816.8h0M358.9 815.4h0M358.6 813.3h0M363.9 826.5h0M361.0 815.8h0M356.4 811.0h0M357.0 779.5h0M358.2 807.7h0M361.7 819.8h0M356.4 826.0h0M360.9 833.5h0M352.0 826.5h0M354.1 801.4h0M361.8 829.3h0M355.7 810.3h0M362.1 826.4h0M365.5 817.7h0M354.7 815.9h0M357.6 819.4h0M360.6 825.6h0M355.1 818.2h0M365.2 796.6h0M359.1 828.0h0M362.0 808.4h0M360.8 826.4h0M358.2 828.3h0M360.0 823.9h0M359.6 831.7h0M355.4 822.5h0M357.2 828.9h0M358.6 836.6h0M358.3 832.9h0M354.3 827.6h0M352.9 813.9h0M355.3 784.9h0M353.2 826.7h0M366.3 813.5h0M359.2 801.9h0M359.9 821.5h0M354.1 806.0h0M358.3 812.9h0M361.0 807.1h0M362.8 803.8h0M361.6 793.8h0M354.7 822.2h0M355.6 800.1h0M359.2 820.7h0M350.3 822.2h0M361.4 822.6h0M357.1 832.9h0M359.4 825.5h0M361.0 816.2h0M361.5 834.7h0M357.3 797.0h0M359.6 830.3h0M356.9 793.3h0M363.1 805.0h0M355.6 832.6h0M365.2 826.0h0M350.9 818.5h0M359.5 826.4h0M357.1 799.2h0M355.8 793.5h0M357.7 816.8h0M355.4 828.6h0M356.9 808.0h0M361.6 809.2h0M363.7 828.4h0M355.8 823.6h0M361.9 821.8h0M369.4 810.6h0M361.5 805.7h0M358.4 823.5h0M360.7 819.9h0M359.4 822.5h0M360.9 793.8h0M363.1 817.7h0M360.3 813.7h0M359.6 815.2h0M356.5 804.8h0M360.4 826.1h0M358.3 817.7h0M360.5 791.8h0M359.2 830.1h0M358.4 818.7h0M360.1 800.0h0M354.3 830.4h0M352.7 817.2h0M368.8 823.3h0M360.8 804.1h0M361.3 805.9h0M361.1 767.7h0M365.6 792.6h0M355.5 810.7h0M357.1 811.6h0M351.9 828.4h0M361.2 822.2h0M355.8 829.5h0M358.3 802.8h0M356.6 833.0h0M352.6 795.7h0M355.8 804.1h0M360.5 835.3h0M362.1 795.7h0M349.6 827.2h0M354.8 814.5h0M361.8 787.5h0M362.6 822.5h0M363.3 825.3h0M351.2 808.3h0M361.7 777.8h0M350.0 814.1h0M359.1 832.0h0M367.0 804.6h0M359.9 811.2h0M351.6 811.7h0M362.5 824.6h0M362.0 817.2h0M360.9 814.4h0M357.5 826.3h0M356.5 798.6h0M351.6 814.4h0M354.5 809.9h0M361.1 773.0h0M350.8 823.6h0M361.5 814.6h0M356.9 814.5h0M360.5 831.8h0M367.7 810.1h0M354.0 816.9h0M359.2 808.2h0M354.0 832.2h0M361.2 781.3h0M357.3 824.7h0M360.6 824.3h0M357.7 833.9h0M358.6 805.5h0M357.4 791.4h0M355.6 797.2h0M359.6 832.7h0M362.8 823.1h0M360.9 822.0h0M356.0 808.4h0M363.6 818.9h0M361.2 826.8h0M361.6 797.6h0M358.3 830.5h0M352.5 811.5h0M361.9 803.9h0M365.8 815.8h0M362.4 806.2h0M367.9 815.6h0M356.1 817.0h0M359.7 814.6h0M360.4 794.0h0M353.7 828.4h0M359.0 830.6h0M357.6 822.9h0M359.4 819.4h0M353.9 829.0h0M359.4 803.8h0M353.9 820.5h0M352.5 827.6h0M355.7 794.8h0M359.0 803.1h0M357.2 820.9h0M363.5 805.7h0M357.0 831.2h0M360.1 834.0h0M357.2 828.3h0M355.8 792.4h0M361.5 815.3h0M355.8 799.0h0M361.5 827.4h0M370.4 829.7h0M357.0 825.4h0M363.0 808.1h0M358.8 826.9h0M358.7 816.6h0M360.4 774.5h0M358.5 829.1h0M355.2 802.5h0M355.1 806.3h0M355.9 817.0h0M362.6 815.1h0M362.1 780.5h0M355.4 800.8h0M359.6 792.3h0M364.0 811.8h0M359.8 816.5h0M357.5 833.8h0M366.7 812.7h0M354.3 818.4h0M360.1 794.4h0M362.1 810.6h0M354.0 829.5h0M356.5 802.5h0M361.8 816.3h0M359.9 806.9h0M354.1 830.8h0M363.1 801.0h0M354.5 805.2h0M365.5 821.3h0M356.5 803.8h0M356.7 829.9h0M355.1 821.1h0M359.2 814.8h0M361.3 809.4h0M352.2 822.8h0M352.7 825.0h0M362.3 813.4h0M360.4 819.2h0M356.3 819.6h0M359.4 819.7h0M358.0 825.5h0M361.6 804.2h0M358.2 823.0h0M368.4 818.3h0M361.6 799.4h0M360.2 808.5h0M363.4 817.9h0M363.1 820.3h0M362.6 830.9h0M362.1 806.9h0M359.9 818.1h0M364.0 804.2h0M357.1 810.3h0M356.4 784.9h0M359.2 813.8h0M362.4 826.1h0M357.7 798.3h0M361.0 770.2h0M359.0 823.3h0M354.8 812.2h0M365.1 827.0h0M362.6 816.0h0M357.5 795.9h0M366.5 803.9h0M358.4 802.2h0M355.5 830.4h0M359.3 796.9h0M355.7 804.5h0M355.3 826.2h0M356.3 823.4h0M358.5 834.0h0M355.8 814.4h0M361.0 830.0h0M368.2 803.1h0M356.3 811.4h0M351.9 804.8h0M365.8 820.9h0M361.6 830.6h0M358.4 826.2h0M363.9 808.8h0M356.6 807.2h0M360.7 821.2h0M357.0 794.2h0M362.6 819.1h0M355.9 811.7h0M352.5 828.8h0M353.8 794.2h0M356.8 780.7h0M362.0 803.0h0M359.5 806.1h0M358.1 801.1h0M363.1 802.6h0M360.1 829.8h0M360.1 799.3h0M356.3 824.7h0M356.7 830.4h0M360.9 798.4h0M353.6 814.0h0M351.6 818.2h0M351.9 808.7h0M361.2 777.6h0M368.4 829.5h0M356.7 806.8h0M363.9 829.4h0M354.6 825.0h0M369.0 813.7h0M362.7 807.4h0M356.7 828.9h0M365.8 830.6h0M365.9 807.3h0M352.6 799.0h0M363.8 803.0h0M360.4 809.7h0M368.2 806.5h0M356.8 814.8h0M354.2 815.1h0M362.5 785.9h0M356.4 809.7h0M351.7 813.3h0M358.2 814.5h0M365.3 819.5h0M358.1 824.5h0M354.4 824.8h0M357.1 818.4h0M357.7 805.4h0M357.9 819.7h0M361.4 801.2h0M355.7 791.3h0M363.2 806.1h0M354.9 803.9h0M353.7 795.1h0M361.6 823.3h0M364.9 820.9h0M361.3 806.8h0M356.2 819.1h0M356.7 834.8h0M359.3 807.0h0M363.6 823.0h0M357.3 804.7h0M361.9 788.4h0M361.6 813.1h0M355.9 805.9h0M359.5 794.9h0M354.5 792.6h0M361.7 812.0h0M355.6 815.0h0M354.4 820.6h0M365.0 817.1h0M352.5 813.1h0M359.4 797.7h0M356.6 776.0h0M355.3 818.6h0M359.6 805.2h0M361.8 785.2h0M355.5 798.5h0M364.1 786.8h0M357.1 830.8h0M356.7 816.1h0M355.2 768.3h0M359.1 798.6h0M359.6 828.1h0M358.2 809.4h0M356.0 796.0h0M354.6 807.5h0M360.9 812.1h0M361.0 813.8h0M360.4 828.7h0M355.7 795.4h0M352.8 807.5h0M366.6 821.3h0M359.0 799.7h0M363.8 829.2h0M367.8 805.9h0M350.6 816.5h0M350.7 821.2h0M354.9 797.5h0M351.3 813.7h0M357.7 796.8h0M352.3 820.6h0M361.0 813.0h0M362.1 791.7h0M355.5 796.4h0M350.7 830.7h0M354.6 812.6h0M359.4 805.6h0M363.3 798.7h0M360.8 797.5h0M362.6 793.2h0M362.3 797.3h0M352.5 818.7h0M356.1 831.5h0M355.7 787.6h0M348.4 815.7h0M356.5 801.5h0M364.6 805.8h0M350.7 814.1h0M364.9 825.9h0M362.1 770.1h0M359.9 798.6h0M353.7 819.1h0M358.9 810.4h0M355.7 807.6h0M364.1 797.5h0M359.9 783.5h0M355.6 824.9h0M360.8 778.5h0M360.0 785.9h0M362.9 828.3h0M363.3 816.4h0M351.9 815.7h0M362.1 783.3h0M355.3 780.5h0M364.1 815.9h0M354.5 818.9h0M359.6 835.7h0M355.2 824.5h0M357.8 797.7h0M355.3 801.6h0M357.9 817.2h0M345.5 805.6h0M359.6 833.1h0M362.2 799.9h0M367.3 810.5h0M364.2 814.5h0M362.0 786.6h0M368.9 804.3h0M352.6 826.1h0M362.8 801.7h0M363.0 796.7h0M361.3 828.5h0M364.4 819.4h0M356.7 798.8h0M363.0 812.9h0M361.0 830.8h0M365.0 827.8h0M356.2 781.6h0M362.6 832.9h0M357.1 807.6h0M356.0 792.4h0M373.1 806.6h0M360.5 801.9h0M360.2 797.6h0M360.1 825.5h0M361.4 791.3h0M363.0 814.1h0M355.9 770.4h0M366.0 822.7h0M356.2 776.5h0M353.2 814.6h0M353.6 822.7h0M364.3 823.7h0M362.7 797.9h0M362.0 793.0h0M361.4 827.8h0M359.3 801.4h0M357.2 792.4h0M356.7 796.7h0M353.8 823.3h0M367.5 826.0h0M356.3 821.1h0M357.2 785.3h0M353.9 821.3h0M356.8 800.0h0M354.2 781.4h0M346.8 821.2h0M361.4 801.8h0M364.3 801.7h0M366.2 821.0h0M352.5 823.4h0M356.5 812.6h0M353.7 809.7h0M365.4 825.5h0M360.8 796.7h0M351.9 796.7h0M342.5 825.6h0M361.2 802.9h0M348.9 820.9h0M360.5 787.4h0M353.5 831.9h0M355.4 789.5h0M367.2 822.8h0M365.3 813.5h0M357.5 813.8h0M359.8 801.4h0M349.7 817.1h0M362.5 816.9h0M348.1 809.6h0M363.0 827.1h0M356.5 822.6h0M360.0 806.4h0M359.9 820.5h0M362.7 829.5h0M353.2 807.9h0M360.3 789.2h0M355.6 812.4h0M359.6 795.7h0M361.3 783.7h0M355.6 813.8h0M363.0 772.6h0M360.5 833.9h0M365.6 816.2h0M356.1 792.8h0M365.3 823.7h0M354.0 789.5h0M351.1 824.8h0M360.3 793.1h0M364.1 795.8h0M368.7 822.1h0M364.3 816.8h0M356.1 771.2h0M346.8 818.8h0M354.6 788.5h0M354.8 821.5h0M356.6 790.9h0M349.4 825.5h0M367.2 814.6h0M360.1 803.6h0M368.1 823.4h0M352.1 793.7h0M347.9 819.2h0M355.1 816.5h0M362.9 784.6h0M365.8 807.7h0M353.6 819.8h0M362.6 787.8h0M363.6 783.1h0M360.1 820.1h0M362.5 794.5h0M354.8 808.0h0M356.4 834.1h0M362.5 767.6h0M366.1 811.1h0M352.0 799.6h0M360.3 812.1h0M351.5 818.9h0M347.9 816.5h0M363.9 826.8h0M353.0 824.8h0M351.4 799.1h0M354.0 802.7h0M366.5 815.0h0M354.3 798.3h0M363.4 830.7h0M359.2 799.6h0M353.4 818.1h0M350.1 827.6h0M364.4 812.9h0M364.1 830.4h0M356.6 785.6h0M366.9 823.8h0M352.8 815.6h0M363.4 820.9h0M350.5 815.4h0M352.3 807.7h0M348.0 813.0h0M351.8 825.0h0M358.0 800.1h0M353.4 825.3h0M362.3 829.2h0M367.8 809.4h0M365.3 787.0h0M364.2 824.1h0M361.4 833.6h0M358.1 806.8h0M361.8 775.1h0M355.9 782.7h0M353.1 798.0h0M355.0 775.7h0M354.2 795.1h0M371.8 819.9h0M367.8 821.9h0M353.0 782.2h0M352.9 831.8h0M358.0 796.9h0M356.1 797.2h0M347.1 824.8h0M354.0 796.6h0M351.3 827.7h0M359.6 835.4h0M364.5 822.9h0M363.6 810.7h0M366.6 823.2h0M356.9 823.3h0M350.4 820.2h0M367.4 817.8h0M353.7 811.8h0M352.0 808.3h0M357.2 806.4h0M363.2 786.1h0M353.5 816.1h0M364.3 811.4h0M364.2 800.1h0M359.3 811.5h0M356.9 787.4h0M364.6 828.5h0M361.2 808.5h0M367.3 818.7h0M352.9 801.6h0M361.9 831.3h0M365.7 819.4h0M355.6 790.0h0M359.9 808.8h0M365.2 811.1h0M353.5 810.6h0M366.5 814.1h0M352.4 783.6h0M352.5 820.8h0M361.6 796.7h0M363.4 800.2h0M350.5 818.2h0M363.1 809.5h0M350.6 817.1h0M353.7 824.0h0M359.5 804.2h0M353.3 815.1h0M351.2 819.9h0M353.2 818.5h0M366.0 830.2h0M352.8 816.0h0M360.8 773.9h0M363.2 814.9h0M354.3 831.3h0M355.2 780.9h0M360.8 782.4h0M350.2 813.8h0M364.5 807.5h0M359.7 812.5h0M369.1 820.4h0M356.1 772.6h0M353.5 801.8h0M354.9 832.9h0M360.1 804.7h0M352.5 810.1h0M362.7 795.3h0M362.8 793.4h0M351.5 819.8h0M350.2 802.7h0M348.6 808.7h0M353.9 803.9h0M351.2 829.2h0M356.9 811.1h0M366.2 801.3h0M346.4 815.2h0M354.9 793.9h0M363.2 820.1h0M353.8 812.5h0M354.5 791.1h0M356.8 773.8h0M364.1 826.7h0M365.1 797.1h0M361.8 798.2h0M359.7 791.0h0M368.6 815.1h0M362.6 812.1h0M360.8 800.3h0M366.4 817.8h0M353.2 831.0h0M370.2 810.0h0M363.0 788.3h0M352.4 797.5h0M350.4 821.8h0M363.2 796.6h0M361.5 779.0h0M360.1 769.7h0M355.9 808.9h0M352.0 824.2h0M361.4 794.7h0M351.8 827.5h0M364.3 808.9h0M368.7 828.5h0M361.0 783.0h0M362.7 781.3h0M357.8 793.8h0M368.0 825.6h0M364.3 819.5h0M363.4 814.0h0M355.2 772.1h0M362.5 789.4h0M354.8 801.1h0M363.9 769.7h0M357.1 782.8h0M368.5 824.2h0M357.1 781.3h0M364.2 821.7h0M363.3 791.9h0M362.3 783.2h0M352.0 821.5h0M354.1 814.2h0M360.3 771.7h0M368.3 812.2h0M362.6 800.2h0M349.0 826.1h0M365.5 805.2h0M360.7 792.6h0M363.8 824.5h0M354.9 826.3h0M354.4 764.4h0M351.2 822.8h0M351.4 826.1h0M360.9 772.4h0M355.0 828.9h0M363.8 810.3h0M347.6 814.1h0M355.0 800.1h0M350.6 815.7h0M365.5 814.3h0M366.9 825.3h0M356.8 789.6h0M362.3 790.1h0M352.8 809.2h0M353.5 786.6h0M363.0 791.7h0M352.8 803.5h0M357.2 774.7h0M346.8 814.0h0M352.3 816.7h0M350.7 819.2h0M367.6 828.3h0M361.0 771.3h0M364.0 776.8h0M352.6 787.3h0M367.9 828.5h0M348.2 825.2h0M357.3 786.3h0M366.6 803.0h0M359.3 795.6h0M354.9 814.0h0M360.6 776.1h0M355.1 833.9h0M366.4 826.1h0M356.8 794.6h0M366.7 817.2h0M363.5 795.6h0M360.8 788.9h0M361.5 789.6h0M353.8 807.8h0M367.3 820.4h0M360.4 782.8h0M365.9 806.5h0M354.9 796.2h0M352.5 805.1h0M349.7 823.2h0M352.9 794.9h0M366.4 824.1h0M350.0 824.6h0M353.9 808.7h0M353.5 784.5h0M356.5 793.6h0M363.7 780.3h0M350.5 830.4h0M361.1 788.3h0M360.2 787.9h0M354.0 793.3h0M353.8 791.5h0M351.4 806.5h0M354.4 819.7h0M370.4 820.1h0M357.1 771.4h0M354.3 833.6h0M352.2 802.7h0M364.2 806.2h0M354.3 811.1h0M362.9 798.8h0M361.8 806.2h0M351.9 801.6h0M362.0 785.7h0M363.4 801.2h0M349.9 807.8h0M353.2 801.0h0M366.1 809.9h0M361.3 810.1h0M351.8 830.4h0M363.5 803.6h0M353.9 788.0h0M363.2 801.7h0M350.9 810.7h0M365.6 802.2h0M363.3 815.1h0M355.7 779.1h0M370.1 818.6h0M367.8 812.5h0M354.0 804.3h0M367.2 815.7h0M365.8 812.3h0M354.5 806.3h0M344.9 803.1h0M348.7 818.4h0M363.4 799.2h0M351.8 831.8h0M366.6 816.0h0M360.7 786.6h0M365.0 807.8h0M352.1 809.9h0M362.4 825.2h0M353.0 821.7h0M348.6 829.8h0M353.5 827.5h0M363.7 790.8h0M354.9 782.1h0M366.6 832.2h0M352.2 817.6h0M365.6 822.6h0M366.1 799.3h0M349.9 805.0h0M364.1 829.6h0M364.5 810.2h0M364.5 804.6h0M347.7 808.0h0M367.5 816.2h0M353.6 800.3h0M345.2 821.5h0M356.9 788.1h0M363.5 807.4h0M366.2 811.7h0M359.8 782.5h0M360.7 779.5h0M355.5 783.8h0M368.4 813.6h0M363.9 832.2h0M354.8 784.1h0M366.0 828.0h0M363.7 797.6h0M367.8 820.2h0M365.5 800.2h0M351.5 829.6h0M370.1 823.7h0M355.2 788.1h0M365.2 801.2h0M351.8 806.5h0M369.4 814.4h0M349.8 820.9h0M363.7 783.6h0M367.3 819.7h0M353.0 793.1h0M360.4 790.3h0M351.0 807.7h0M366.0 827.5h0M368.7 810.3h0M360.8 790.5h0M361.8 781.9h0M344.3 809.1h0M352.2 805.4h0M351.4 804.7h0M354.1 806.9h0M356.5 782.0h0M360.0 787.0h0M349.6 828.1h0M347.9 816.9h0M354.4 802.9h0M355.3 782.2h0M369.5 822.1h0M354.6 789.9h0M350.0 826.7h0M356.7 777.6h0M364.6 794.5h0M360.1 773.7h0M366.1 819.3h0M348.1 813.4h0M356.7 790.5h0M355.8 786.6h0M365.7 806.7h0M348.2 820.3h0M356.8 782.6h0M366.8 816.9h0M360.3 767.6h0M366.1 819.6h0M346.7 810.8h0M365.1 811.6h0M362.3 786.8h0M363.7 790.4h0M350.3 825.5h0M367.8 819.3h0M350.0 811.9h0M360.5 769.0h0M356.5 787.7h0M355.5 773.3h0M348.5 822.7h0M344.2 821.2h0M360.3 779.7h0M354.3 770.1h0M360.5 710.4h0M355.2 748.5h0M351.8 753.0h0M352.7 751.3h0M361.0 758.3h0M365.5 756.3h0M361.7 764.6h0M363.0 766.2h0M364.7 769.5h0M379.6 804.0h0M374.3 808.4h0M373.3 813.4h0M373.8 820.9h0M372.9 823.8h0M374.6 826.7h0M377.1 825.8h0M381.2 825.0h0M391.2 825.8h0M368.0 831.1h0M324.4 823.8h0M331.1 820.5h0M338.2 822.8h0M334.5 831.6h0M339.8 817.2h0M345.6 815.1h0M341.5 809.3h0M339.8 806.3h0M345.6 830.8h0M343.5 827.2h0M366.3 794.0h0" stroke="#BEBEBE" stroke-width="2.2" stroke-linecap="round" fill="none"/>
<path d="M348.9 765.1h0M347.6 770.0h0M348.9 778.1h0M345.1 783.6h0M346.5 782.8h0M347.6 784.9h0M344.3 792.4h0M348.1 794.0h0M349.8 798.8h0M345.6 802.6h0M350.1 802.6h0" stroke="#0808FA" stroke-width="2.5" stroke-linecap="round" fill="none"/>
<path d="M416.1 798.7h0M366.3 719.5h0M366.7 749.2h0M368.3 757.9h0M385.7 773.3h0M365.8 782.0h0M367.2 784.8h0M366.3 798.8h0M368.0 797.7h0M369.6 799.0h0M371.8 800.5h0M370.5 799.8h0" stroke="#FA0808" stroke-width="2.5" stroke-linecap="round" fill="none"/>
<rect x="261.80" y="705.30" width="191.60" height="137.40" fill="none" stroke="#1a1a1a" stroke-width="1.2"/>
<path d="M300.8 843.3v2.6M358.6 843.3v2.6M416.4 843.3v2.6M261.2 836.6h-2.6M261.2 810.5h-2.6M261.2 784.4h-2.6M261.2 758.3h-2.6M261.2 732.2h-2.6M261.2 706.1h-2.6" stroke="#333" stroke-width="1" fill="none"/>
<text x="298.9" y="857.4" font-size="9.6" text-anchor="middle" fill="#333">-2</text>
<text x="358.6" y="857.4" font-size="9.6" text-anchor="middle" fill="#333">0</text>
<text x="416.4" y="857.4" font-size="9.6" text-anchor="middle" fill="#333">2</text>
<text x="255.1" y="840.0" font-size="9.8" text-anchor="end" fill="#333">0</text>
<text x="255.1" y="813.9" font-size="9.8" text-anchor="end" fill="#333">1</text>
<text x="255.1" y="787.8" font-size="9.8" text-anchor="end" fill="#333">2</text>
<text x="255.1" y="761.7" font-size="9.8" text-anchor="end" fill="#333">3</text>
<text x="255.1" y="735.6" font-size="9.8" text-anchor="end" fill="#333">4</text>
<text x="255.1" y="709.5" font-size="9.8" text-anchor="end" fill="#333">5</text>
<text x="299.4" y="872.1" font-size="11.23">log<tspan font-size="7" font-weight="bold" dy="0.8">2</tspan><tspan dy="-0.8">(mIVF-HFD/NC-HFD)</tspan></text>
<text transform="translate(241.9 779.0) rotate(-90)" font-size="11.5" text-anchor="middle">-log10(p-value)</text>
<circle cx="284.8" cy="691.4" r="2.5" fill="#1515F5"/><circle cx="334.1" cy="691.4" r="2.5" fill="#C4C4C4"/><circle cx="394.8" cy="691.4" r="2.5" fill="#F51515"/>
<text x="292.3" y="694.0" font-size="9.2" fill="#222">Down</text>
<text x="341.7" y="694.0" font-size="9.2" fill="#222">Unchanged</text>
<text x="403.1" y="694.0" font-size="9.2" fill="#222">Up</text>
<rect x="493.3" y="705.5" width="190.9" height="137.2" fill="#fff"/>
<path d="M504.6 705.5V842.7M559.8 705.5V842.7M615.0 705.5V842.7M670.2 705.5V842.7M493.3 822.6H684.2M493.3 793.8H684.2M493.3 764.9H684.2M493.3 736.0H684.2" stroke="#F2F2F2" stroke-width="0.8" fill="none"/>
<path d="M532.2 705.5V842.7M587.4 705.5V842.7M642.6 705.5V842.7M493.3 837.1H684.2M493.3 808.2H684.2M493.3 779.3H684.2M493.3 750.4H684.2M493.3 721.5H684.2" stroke="#EBEBEB" stroke-width="1" fill="none"/>
<path d="M579.7 809.4h0M596.2 816.9h0M575.3 817.8h0M577.2 817.5h0M592.6 760.9h0M594.6 800.4h0M576.6 801.9h0M585.3 819.7h0M588.8 797.3h0M589.2 828.4h0M582.0 832.8h0M584.8 789.9h0M588.8 835.9h0M593.7 765.0h0M590.4 786.3h0M583.6 794.8h0M587.8 832.5h0M592.1 824.0h0M589.8 784.3h0M594.6 812.0h0M590.6 800.7h0M588.6 828.5h0M583.9 826.4h0M591.6 808.4h0M585.2 796.6h0M584.0 809.3h0M584.4 830.1h0M585.4 788.5h0M583.4 828.6h0M585.3 814.3h0M591.6 803.2h0M586.5 820.2h0M589.8 812.8h0M584.0 786.6h0M596.3 810.8h0M583.1 809.3h0M591.9 767.5h0M576.1 822.2h0M582.6 785.8h0M595.1 815.9h0M603.4 818.5h0M590.8 781.1h0M587.1 832.1h0M585.5 791.7h0M581.4 785.8h0M584.7 832.4h0M586.5 824.0h0M584.6 795.5h0M585.5 814.5h0M586.6 836.4h0M592.5 788.6h0M590.7 766.6h0M602.9 827.0h0M585.4 823.3h0M590.2 830.1h0M589.0 820.5h0M578.0 813.7h0M581.7 815.4h0M589.7 805.8h0M581.3 788.3h0M582.4 804.4h0M584.4 803.1h0M579.0 806.5h0M586.6 825.3h0M589.5 811.0h0M593.0 760.8h0M582.4 784.2h0M591.1 791.1h0M594.6 806.3h0M589.7 782.4h0M585.4 804.4h0M590.8 813.9h0M579.9 810.0h0M601.2 824.5h0M598.2 804.0h0M593.0 818.4h0M585.2 791.7h0M590.8 756.1h0M589.5 831.8h0M591.8 794.3h0M585.3 793.2h0M598.4 808.7h0M566.5 812.5h0M581.3 809.7h0M582.4 827.9h0M590.4 770.6h0M583.1 769.3h0M599.6 821.1h0M592.0 770.5h0M581.7 825.4h0M584.5 831.1h0M590.0 787.2h0M578.8 825.8h0M590.9 771.2h0M591.8 813.8h0M585.8 826.4h0M594.3 819.1h0M586.5 829.8h0M581.5 795.8h0M584.4 821.8h0M593.3 796.4h0M587.9 810.4h0M602.3 803.2h0M590.4 768.3h0M589.9 825.2h0M589.8 769.4h0M583.2 807.4h0M582.7 827.0h0M585.2 762.4h0M586.8 808.8h0M592.8 782.1h0M582.6 799.9h0M595.4 821.3h0M594.1 782.1h0M593.6 780.7h0M593.2 789.8h0M594.1 788.0h0M588.8 833.0h0M585.8 824.9h0M588.3 805.1h0M588.0 830.8h0M573.9 806.6h0M592.3 772.4h0M576.0 818.5h0M583.7 801.0h0M585.0 794.0h0M590.1 779.4h0M583.5 792.7h0M581.2 814.3h0M582.1 818.8h0M591.7 830.5h0M592.9 778.6h0M584.0 808.3h0M590.7 791.4h0M588.6 822.9h0M593.2 821.8h0M586.3 835.7h0M572.9 817.0h0M589.5 833.1h0M588.4 821.3h0M584.6 783.2h0M590.6 819.0h0M582.6 829.7h0M585.2 802.4h0M584.3 795.7h0M592.3 816.8h0M593.0 776.1h0M579.0 809.4h0M593.1 787.8h0M593.9 802.1h0M583.2 823.4h0M592.6 801.1h0M589.7 779.4h0M590.1 773.8h0M601.7 806.7h0M584.1 780.8h0M591.0 812.1h0M580.3 797.0h0M576.2 824.4h0M608.3 825.7h0M589.9 821.2h0M585.9 823.6h0M584.0 828.5h0M585.7 802.2h0M582.0 790.5h0M592.3 826.6h0M603.2 813.9h0M584.3 821.0h0M584.0 804.0h0M590.2 828.7h0M591.3 803.4h0M579.8 811.1h0M587.6 828.7h0M593.6 811.1h0M591.8 815.2h0M588.4 831.4h0M578.8 819.9h0M585.3 803.8h0M591.7 781.7h0M589.9 771.4h0M594.6 793.4h0M598.6 813.3h0M570.4 828.2h0M580.0 801.4h0M593.6 804.0h0M582.0 789.0h0M576.4 802.9h0M586.3 820.6h0M577.8 818.8h0M593.8 801.2h0M590.6 761.7h0M583.4 779.4h0M578.1 812.4h0M592.9 801.5h0M592.8 789.1h0M584.9 806.4h0M592.2 792.6h0M583.6 825.1h0M597.1 819.9h0M581.5 827.8h0M583.9 832.5h0M583.5 795.7h0M590.7 815.2h0M585.2 778.3h0M596.1 816.4h0M581.3 817.2h0M583.1 802.7h0M582.3 809.6h0M583.0 824.1h0M583.2 831.0h0M596.8 826.3h0M593.1 826.2h0M596.0 812.8h0M575.7 819.6h0M580.6 808.9h0M590.2 821.3h0M589.9 797.1h0M585.2 779.5h0M584.4 792.5h0M581.8 807.4h0M590.9 821.3h0M581.5 794.4h0M589.1 785.5h0M586.2 830.7h0M593.3 784.6h0M583.2 783.0h0M591.6 824.3h0M581.6 826.5h0M582.9 798.7h0M590.9 809.3h0M589.4 831.0h0M579.9 805.4h0M584.1 791.6h0M594.6 832.4h0M585.0 833.4h0M589.9 807.2h0M592.3 798.8h0M582.1 782.9h0M583.2 801.7h0M593.7 813.4h0M583.4 827.1h0M592.4 816.1h0M592.3 782.9h0M590.4 778.2h0M590.5 832.1h0M589.4 789.7h0M598.5 825.3h0M585.7 832.9h0M589.7 814.0h0M592.1 795.6h0M593.6 820.8h0M584.9 790.8h0M588.7 799.9h0M599.1 818.4h0M581.7 796.3h0M581.8 801.9h0M596.6 810.4h0M591.6 810.1h0M593.2 814.4h0M584.3 801.6h0M588.1 835.8h0M596.5 829.2h0M585.0 830.0h0M591.4 805.1h0M576.7 810.2h0M584.8 795.0h0M590.8 795.8h0M580.5 802.5h0M591.7 784.0h0M594.0 830.1h0M589.9 802.3h0M598.0 827.0h0M603.7 819.1h0M591.3 801.1h0M593.4 785.4h0M585.2 784.9h0M591.8 820.5h0M583.2 812.4h0M592.0 791.4h0M591.5 823.9h0M573.2 817.7h0M578.9 804.0h0M582.6 821.5h0M585.5 790.8h0M576.2 815.4h0M592.2 821.7h0M595.3 822.5h0M597.0 808.3h0M584.6 786.0h0M586.7 811.4h0M570.7 808.1h0M578.3 824.4h0M592.2 763.7h0M581.0 812.5h0M587.7 827.0h0M578.5 821.6h0M589.7 793.8h0M573.2 822.5h0M582.0 765.6h0M589.0 804.8h0M590.4 802.4h0M580.5 801.2h0M588.8 814.1h0M589.9 788.2h0M586.1 804.5h0M582.2 793.7h0M574.5 816.8h0M581.6 790.6h0M592.4 801.6h0M588.7 829.4h0M589.5 830.2h0M591.6 825.6h0M590.1 782.4h0M585.4 781.6h0M584.1 820.0h0M585.0 807.0h0M585.7 805.3h0M588.4 815.9h0M584.9 835.2h0M585.4 831.3h0M575.7 813.8h0M583.8 815.6h0M585.3 834.4h0M593.7 814.8h0M593.9 808.1h0M592.6 792.1h0M598.6 804.9h0M583.6 830.1h0M604.1 816.1h0M590.4 802.2h0M582.0 787.4h0M584.4 777.1h0M589.9 783.2h0M586.0 808.3h0M591.0 831.8h0M589.9 773.4h0M579.8 806.8h0M589.4 780.5h0M593.8 794.8h0M585.2 770.2h0M585.4 830.5h0M597.6 812.5h0M589.3 829.3h0M594.5 773.5h0M590.1 827.0h0M585.1 799.3h0M592.7 797.5h0M596.4 812.2h0M583.0 794.0h0M584.8 805.9h0M594.3 817.1h0M581.5 798.4h0M593.5 811.6h0M578.3 800.3h0M572.7 827.4h0M608.3 812.3h0M591.3 792.2h0M585.1 758.5h0M596.6 814.3h0M589.6 777.3h0M600.3 818.0h0M592.6 830.1h0M576.9 802.8h0M586.5 835.4h0M587.7 825.2h0M582.3 814.1h0M601.7 819.2h0M584.0 782.7h0M585.3 780.1h0M584.8 797.2h0M593.9 816.6h0M585.1 813.6h0M593.9 804.3h0M595.3 802.7h0M590.1 826.6h0M590.5 758.1h0M584.5 806.5h0M583.1 811.6h0M585.1 826.8h0M588.8 815.5h0M602.7 811.4h0M592.1 802.7h0M589.0 823.2h0M589.1 799.4h0M586.3 834.1h0M592.2 775.5h0M614.1 801.6h0M590.2 806.0h0M591.5 793.6h0M595.7 814.0h0M587.7 818.1h0M589.1 816.6h0M600.7 805.9h0M587.6 835.3h0M597.8 823.1h0M591.5 820.2h0M585.0 789.5h0M594.7 820.8h0M584.7 765.7h0M582.8 800.7h0M586.8 823.0h0M582.8 805.6h0M589.8 776.0h0M587.9 807.3h0M581.6 809.0h0M581.4 792.3h0M581.5 779.9h0M584.7 801.6h0M577.0 807.2h0M598.0 806.4h0M586.8 827.1h0M585.1 798.0h0M593.1 808.2h0M581.5 816.4h0M583.5 800.1h0M592.1 817.8h0M582.7 826.2h0M589.7 804.8h0M588.9 818.2h0M583.5 789.1h0M594.5 810.6h0M587.1 817.8h0M596.0 817.7h0M590.9 813.4h0M579.0 828.2h0M604.0 826.8h0M585.7 812.0h0M596.6 822.1h0M593.8 785.4h0M593.3 783.1h0M584.2 797.5h0M606.3 816.5h0M601.1 823.0h0M588.0 824.8h0M583.6 787.2h0M590.1 764.5h0M593.1 805.2h0M595.8 827.7h0M598.5 810.3h0M584.2 786.1h0M580.2 810.7h0M580.5 803.7h0M584.3 818.9h0M592.5 803.6h0M588.9 799.3h0M584.5 831.5h0M577.0 805.9h0M592.9 830.5h0M601.5 823.3h0M584.5 834.1h0M590.9 787.3h0M587.4 837.1h0M575.4 815.4h0M592.3 819.1h0M586.3 818.4h0M580.9 801.5h0M581.0 827.0h0M585.5 782.3h0M589.0 834.8h0M579.3 825.8h0M591.5 777.9h0M592.8 800.2h0M591.1 829.6h0M581.7 777.1h0M579.8 813.9h0M594.8 804.7h0M582.8 815.2h0M584.0 807.3h0M577.1 811.8h0M591.2 798.8h0M589.8 823.9h0M580.1 826.5h0M576.8 816.1h0M583.0 818.7h0M581.9 798.8h0M590.4 825.2h0M585.5 781.3h0M594.2 791.1h0M578.2 804.7h0M591.1 798.1h0M593.8 769.3h0M590.0 796.4h0M598.7 826.9h0M593.9 776.7h0M583.4 803.5h0M572.6 809.7h0M581.5 766.0h0M594.0 800.4h0M584.8 799.7h0M584.0 789.2h0M589.9 826.8h0M597.2 828.1h0M578.5 817.2h0M573.2 813.1h0M585.0 775.0h0M573.4 826.2h0M583.1 785.8h0M588.7 826.7h0M580.6 807.0h0M593.3 826.7h0M585.4 809.7h0M581.9 786.5h0M588.1 830.2h0M587.6 834.4h0M592.6 785.8h0M590.3 831.9h0M592.4 794.1h0M580.3 781.3h0M582.5 798.5h0M591.3 833.0h0M561.3 820.7h0M582.4 809.4h0M592.9 824.2h0M589.3 820.2h0M583.0 781.5h0M581.7 808.5h0M593.4 754.5h0M600.8 814.3h0M582.9 791.3h0M582.7 821.2h0M585.3 818.9h0M599.0 814.4h0M590.8 811.9h0M584.0 827.5h0M590.9 807.6h0M574.7 814.3h0M589.5 792.2h0M587.7 826.5h0M591.9 773.0h0M576.3 818.6h0M593.1 818.6h0M585.6 827.3h0M605.0 815.6h0M585.8 816.4h0M592.7 816.2h0M586.3 815.4h0M590.8 789.0h0M581.5 800.3h0M591.5 818.6h0M590.4 798.8h0M587.2 830.6h0M595.2 808.8h0M583.3 808.2h0M585.1 784.3h0M582.1 810.7h0M586.6 807.5h0M591.1 817.2h0M582.5 815.1h0M592.2 812.9h0M582.6 824.9h0M597.9 820.3h0M583.8 805.8h0M582.1 805.7h0M580.7 823.4h0M589.9 818.7h0M588.2 826.1h0M583.7 813.1h0M593.0 756.7h0M584.3 783.6h0M585.8 822.6h0M580.6 825.2h0M589.9 787.4h0M591.2 781.0h0M582.8 784.8h0M572.3 821.5h0M586.2 818.6h0M585.2 801.2h0M586.0 831.4h0M577.0 826.6h0M575.1 819.1h0M584.1 817.9h0M588.9 813.5h0M581.1 818.2h0M581.0 813.5h0M585.5 820.1h0M590.2 794.5h0M595.5 806.8h0M597.7 808.5h0M601.8 816.4h0M583.9 794.4h0M600.1 827.8h0M602.9 809.2h0M587.1 819.1h0M583.7 816.9h0M592.0 769.9h0M586.3 810.7h0M582.3 813.7h0M577.5 810.9h0M593.5 772.2h0M587.1 825.9h0M588.8 824.9h0M591.0 804.2h0M594.0 796.5h0M580.3 805.6h0M588.8 794.9h0M580.7 805.0h0M592.9 823.5h0M586.0 822.1h0M590.8 820.8h0M584.7 822.0h0M589.9 817.8h0M583.3 776.3h0M585.5 783.3h0M578.8 809.6h0M593.0 804.3h0M581.5 829.4h0M587.6 822.6h0M590.9 816.3h0M584.8 811.9h0M588.0 820.3h0M588.8 801.3h0M573.7 806.7h0M584.8 808.1h0M590.7 816.5h0M580.1 823.0h0M588.2 809.0h0M594.2 824.2h0M579.9 817.4h0M588.7 830.4h0M592.0 778.9h0M594.1 817.9h0M590.6 816.9h0M575.7 812.0h0M583.2 796.8h0M591.0 797.0h0M589.8 814.3h0M583.8 771.8h0M589.9 767.2h0M594.4 812.4h0M585.2 826.6h0M582.8 818.5h0M591.5 810.5h0M582.3 822.4h0M596.8 804.3h0M580.7 828.8h0M590.0 823.1h0M579.9 807.1h0M590.3 780.0h0M598.3 825.8h0M600.3 815.2h0M574.6 816.3h0M582.9 817.5h0M565.9 818.4h0M588.7 801.8h0M586.3 835.6h0M576.2 816.8h0M586.8 816.1h0M585.6 788.6h0M581.3 777.8h0M583.6 767.9h0M594.0 755.5h0M573.3 804.1h0M582.9 788.8h0M577.5 811.7h0M593.9 795.3h0M591.1 780.1h0M587.5 831.9h0M580.4 793.2h0M586.6 823.7h0M576.8 828.3h0M590.8 788.1h0M590.5 807.3h0M584.3 798.7h0M582.0 800.8h0M586.2 807.5h0M592.5 827.8h0M609.2 820.3h0M580.4 817.5h0M590.1 814.3h0M594.2 783.9h0M584.8 816.8h0M584.2 816.5h0M606.9 819.0h0M589.5 753.3h0M583.3 810.8h0M587.8 827.9h0M592.1 776.3h0M581.5 804.6h0M597.4 802.4h0M589.4 806.7h0M580.2 830.1h0M581.8 790.9h0M581.0 830.6h0M593.4 773.2h0M591.7 829.0h0M601.1 826.3h0M595.3 813.1h0M573.4 821.3h0M582.0 770.9h0M580.0 807.9h0M591.9 807.8h0M586.6 815.3h0M582.8 773.2h0M597.1 815.5h0M589.6 817.1h0M586.3 824.7h0M591.5 826.5h0M590.8 783.2h0M575.9 803.6h0M592.4 781.3h0M589.9 812.1h0M604.1 821.5h0M586.5 831.9h0M591.3 794.6h0M598.2 801.9h0M582.8 775.1h0M592.0 758.6h0M583.2 827.9h0M589.9 803.0h0M585.5 792.5h0M597.2 824.1h0M572.2 817.9h0M594.2 790.3h0M590.5 775.2h0M589.2 800.7h0M589.9 793.0h0M590.3 784.7h0M574.9 820.5h0M601.0 815.7h0M582.5 782.0h0M584.0 814.2h0M592.2 784.2h0M601.0 831.7h0M594.3 799.6h0M575.0 816.6h0M585.5 794.4h0M582.4 788.0h0M592.3 787.3h0M580.4 773.1h0M592.4 796.2h0M592.0 804.8h0M592.7 768.8h0M590.9 785.4h0M583.9 774.3h0M584.7 773.2h0M592.7 795.9h0M580.9 806.6h0M589.4 808.4h0M595.0 805.6h0M592.1 797.2h0M584.7 776.7h0M580.6 827.8h0M594.2 809.0h0M588.8 810.5h0M603.3 817.5h0M572.6 819.5h0M577.1 812.9h0M578.3 805.8h0M594.4 792.5h0M595.8 801.6h0M585.9 799.7h0M579.6 803.2h0M586.6 821.9h0M584.3 823.0h0M580.8 799.1h0M580.1 812.7h0M582.3 831.8h0M596.5 806.7h0M579.7 804.7h0M592.4 814.5h0M590.2 798.4h0M591.1 788.5h0M593.5 800.9h0M584.4 796.9h0M594.4 806.7h0M575.8 823.3h0M577.8 805.3h0M581.2 810.5h0M592.2 789.4h0M578.2 817.5h0M591.7 774.3h0M581.6 778.2h0M577.5 802.4h0M604.0 816.8h0M594.4 803.2h0M601.2 800.8h0M591.6 812.8h0M592.5 798.3h0M577.9 822.2h0M582.8 813.8h0M593.1 811.3h0M568.6 803.5h0M580.2 790.5h0M582.1 795.4h0M573.3 814.7h0M594.7 814.4h0M590.6 834.0h0M593.4 793.7h0M578.2 815.4h0M590.6 797.2h0M584.3 823.5h0M582.3 776.6h0M588.7 828.0h0M590.4 773.1h0M586.3 813.9h0M585.9 828.0h0M589.0 796.0h0M589.8 786.3h0M584.4 788.2h0M564.6 812.4h0M589.2 796.9h0M584.7 816.2h0M588.4 802.4h0M593.2 829.6h0M594.8 819.8h0M588.1 819.4h0M592.0 833.1h0M570.0 823.5h0M595.9 815.3h0M585.2 829.1h0M591.0 779.0h0M590.5 810.4h0M590.3 793.0h0M586.6 808.5h0M584.5 777.6h0M578.8 820.5h0M589.7 798.4h0M580.9 786.8h0M593.4 799.4h0M594.5 802.1h0M582.7 794.8h0M579.8 819.8h0M590.1 800.0h0M578.2 810.1h0M588.6 819.6h0M600.2 803.2h0M596.7 801.4h0M582.4 802.8h0M591.3 822.4h0M581.3 789.2h0M590.8 793.9h0M581.5 794.2h0M583.9 765.8h0M598.9 823.6h0M576.4 804.4h0M593.2 820.7h0M594.6 823.5h0M599.0 821.6h0M585.7 793.8h0M602.6 823.6h0M576.9 822.0h0M583.6 791.8h0M580.4 820.0h0M594.5 776.5h0M597.9 801.7h0M596.0 825.1h0M581.7 820.8h0M584.2 810.7h0M582.7 824.0h0M592.3 829.2h0M590.8 831.1h0M579.0 815.0h0M583.8 800.4h0M581.3 764.5h0M589.5 776.6h0M592.1 765.5h0M584.1 764.4h0M579.4 822.0h0M592.5 768.6h0M591.6 796.5h0M596.6 823.0h0M605.5 817.3h0M590.9 789.5h0M600.4 808.3h0M580.6 783.2h0M581.1 819.2h0M597.3 818.0h0M573.7 824.7h0M583.5 780.5h0M582.7 779.7h0M591.1 759.8h0M583.8 787.9h0M579.2 825.3h0M589.9 809.0h0M597.0 803.4h0M574.3 804.8h0M599.9 825.6h0M583.9 825.2h0M592.9 755.2h0M585.6 799.6h0M573.6 801.8h0M582.8 790.1h0M582.3 812.1h0M598.1 828.4h0M589.3 804.1h0M592.5 800.2h0M586.6 813.9h0M590.6 809.3h0M585.7 817.5h0M595.4 804.3h0M592.9 784.3h0M608.8 804.2h0M595.6 829.8h0M589.9 784.6h0M599.9 826.1h0M597.9 800.8h0M595.5 809.5h0M584.5 813.7h0M566.0 810.9h0M581.5 797.3h0M581.2 819.7h0M574.7 812.1h0M578.9 812.4h0M581.8 803.8h0M588.5 832.1h0M589.5 790.7h0M585.7 806.1h0M594.4 787.3h0M594.6 821.7h0M590.4 771.4h0M607.2 809.6h0M593.0 809.8h0M584.6 776.1h0M585.0 811.0h0M581.7 786.9h0M595.0 809.8h0M585.7 829.1h0M591.1 799.8h0M574.6 815.6h0M592.0 819.6h0M581.4 824.1h0M586.5 805.3h0M580.4 814.8h0M584.2 793.6h0M583.2 797.1h0M593.3 829.3h0M581.5 799.0h0M590.2 803.8h0M593.7 807.6h0M589.2 834.0h0M592.3 810.7h0M584.3 780.4h0M593.9 768.4h0M588.1 808.2h0M592.7 798.0h0M589.8 800.2h0M592.5 809.2h0M593.3 828.2h0M592.4 780.0h0M571.3 819.2h0M584.9 787.6h0M583.9 789.8h0M594.2 798.2h0M589.9 781.4h0M583.7 812.0h0M589.7 764.9h0M593.5 792.2h0M579.2 819.0h0M593.7 819.6h0M599.2 806.4h0M610.3 824.1h0M605.0 819.8h0M596.7 824.7h0M586.3 833.3h0M595.0 808.2h0M584.5 758.7h0M582.8 831.2h0M576.4 825.7h0M593.9 793.6h0M601.8 822.2h0M585.6 795.3h0M601.8 811.0h0M593.4 766.2h0M584.2 827.9h0M591.9 831.7h0M590.0 754.8h0M588.3 808.0h0M597.0 817.7h0M590.2 807.8h0M590.7 776.3h0M590.5 819.6h0M589.7 795.4h0M587.6 833.4h0M583.5 784.0h0M581.6 784.2h0M572.6 815.1h0M570.6 813.7h0M608.3 818.1h0M591.5 832.4h0M597.2 815.0h0M592.7 825.0h0M581.9 792.6h0M596.7 823.8h0M584.9 824.4h0M581.2 828.6h0M592.6 825.1h0M590.9 769.8h0M586.5 814.9h0M575.6 829.6h0M579.3 815.3h0M579.8 829.8h0M582.9 820.9h0M580.0 822.5h0M594.4 773.6h0M581.7 769.1h0M586.4 833.7h0M591.6 772.1h0M578.7 804.7h0M599.2 805.3h0M588.3 824.3h0M585.4 777.5h0M595.2 829.3h0M588.6 834.7h0M579.3 816.0h0M599.2 810.8h0M584.7 763.7h0M585.1 815.1h0M579.8 813.0h0M580.8 827.5h0M577.2 820.4h0M577.9 816.4h0M592.1 786.5h0M572.8 811.5h0M586.8 828.9h0M594.6 829.6h0M589.8 815.4h0M582.5 806.4h0M580.5 813.8h0M593.7 830.5h0M591.1 778.4h0M570.5 821.2h0M574.4 824.3h0M594.7 796.1h0M585.5 787.3h0M580.1 821.7h0M579.9 803.6h0M581.3 758.5h0M610.0 825.0h0M575.3 828.2h0M594.4 781.5h0M585.4 828.0h0M582.7 772.6h0M585.9 830.0h0M599.8 828.9h0M580.2 796.0h0M583.6 814.9h0M600.1 809.3h0M589.9 826.2h0M586.5 812.9h0M586.3 812.3h0M581.3 832.1h0M584.1 824.8h0M583.4 778.9h0M592.9 773.9h0M600.9 819.2h0M582.7 817.6h0M582.6 775.0h0M583.7 779.5h0M581.7 812.1h0M595.1 824.0h0M573.8 822.8h0M591.5 773.1h0M579.1 825.4h0M593.1 822.5h0M580.8 779.1h0M597.7 809.9h0M590.0 805.4h0M600.8 802.5h0M591.5 814.9h0M577.5 814.9h0M601.4 815.9h0M579.8 824.1h0M592.8 808.8h0M582.6 828.5h0M580.1 799.8h0M582.1 796.8h0M590.8 811.1h0M595.9 805.2h0M585.4 818.0h0M600.0 811.8h0M596.7 802.6h0M590.6 822.9h0M584.9 768.3h0M596.0 810.5h0M586.2 809.7h0M608.2 816.0h0M591.4 827.5h0M590.9 806.5h0M597.2 807.5h0M607.3 821.8h0M592.3 755.2h0M593.5 815.7h0M591.3 776.9h0M599.5 802.1h0M590.1 772.5h0M593.5 813.5h0M600.3 813.1h0M588.1 805.3h0M584.1 799.0h0M576.7 818.2h0M591.4 795.5h0M591.6 789.8h0M584.0 804.8h0M589.0 819.2h0M588.6 807.6h0M591.3 765.9h0M601.7 814.6h0M582.9 806.3h0M596.9 827.9h0M567.1 815.4h0M583.5 787.0h0M590.1 812.4h0M593.5 806.6h0M591.5 763.0h0M581.1 793.3h0M594.2 822.9h0M597.0 805.3h0M583.5 833.4h0M591.1 785.0h0M586.3 809.1h0M576.5 811.3h0M594.4 827.1h0M580.5 798.6h0M591.9 822.4h0M581.0 834.8h0M583.4 781.8h0M582.6 823.7h0M584.0 833.6h0M580.5 819.4h0M596.2 824.0h0M583.4 798.8h0M583.0 819.9h0M584.8 767.6h0M580.5 821.2h0M589.5 821.7h0M591.1 821.1h0M582.6 791.1h0M602.6 803.4h0M580.4 777.1h0M585.4 812.8h0M575.8 816.6h0M583.2 822.0h0M565.3 826.8h0M590.0 828.0h0M581.9 807.9h0M580.0 828.0h0M596.9 816.6h0M591.6 775.6h0M582.2 807.6h0M577.1 815.7h0M593.5 807.0h0M573.3 809.3h0M596.8 802.3h0M590.5 751.8h0M598.7 802.8h0M584.9 822.3h0M581.9 818.4h0M580.2 791.3h0M597.9 799.9h0M577.4 826.9h0M580.9 816.0h0M598.7 824.3h0M578.4 823.8h0M580.3 793.7h0M583.7 782.1h0M598.3 805.6h0M594.8 804.0h0M594.8 817.4h0M590.0 785.3h0M594.6 826.9h0M589.7 824.5h0M585.8 798.5h0M584.1 775.7h0M590.2 789.9h0M575.9 801.0h0M590.1 804.2h0M600.7 816.9h0M593.7 767.6h0M577.5 806.7h0M588.1 823.6h0M594.6 797.7h0M570.1 821.3h0M600.1 814.2h0M580.0 800.4h0M585.7 790.3h0M590.9 792.5h0M584.5 785.2h0M574.5 811.0h0M588.4 806.2h0M599.6 816.2h0M581.8 762.4h0M582.2 815.9h0M594.6 794.8h0M590.3 824.8h0M596.8 825.1h0M580.3 824.8h0M590.6 784.2h0M599.2 824.2h0M569.5 808.6h0M584.4 768.4h0M593.1 776.8h0M597.0 799.9h0M598.2 821.6h0M583.2 826.4h0M578.3 818.6h0M597.6 824.9h0M589.5 767.8h0M567.5 810.2h0M589.2 832.2h0M590.6 775.6h0M583.8 810.1h0M580.0 827.4h0M591.4 786.4h0M592.6 779.4h0M598.9 816.7h0M593.0 803.3h0M578.1 807.0h0M588.7 797.9h0M585.5 778.5h0M582.4 803.9h0M596.3 831.5h0M583.8 791.3h0M594.3 812.2h0M600.3 818.6h0M581.6 822.5h0M597.3 813.4h0M583.9 768.1h0M574.7 807.5h0M588.6 817.5h0M593.7 815.8h0M578.5 827.2h0M592.8 812.8h0M599.0 809.0h0M587.9 821.2h0M581.5 784.8h0M581.8 787.2h0M586.0 800.6h0M567.1 806.1h0M585.5 803.4h0M600.9 817.5h0M591.4 755.6h0M593.4 781.4h0M600.5 800.6h0M587.2 834.6h0M583.6 823.0h0M589.5 751.4h0M600.1 820.5h0M591.1 833.9h0M570.4 806.0h0M593.3 817.3h0M589.7 772.0h0M581.5 803.2h0M611.5 804.9h0M585.3 782.3h0M593.2 768.0h0M587.9 811.8h0M590.5 758.9h0M576.3 801.5h0M592.6 830.3h0M577.2 820.3h0M610.0 808.9h0M597.5 821.5h0M585.1 757.6h0M573.8 817.9h0M579.1 807.7h0M583.3 832.4h0M579.1 801.0h0M605.7 821.6h0M592.2 747.2h0M585.0 825.5h0M588.4 809.9h0M594.3 789.2h0M599.3 810.0h0M595.5 809.9h0M594.1 823.2h0M600.3 800.2h0M597.0 819.3h0M598.3 812.7h0M590.5 777.5h0M575.6 806.3h0M582.8 771.7h0M579.7 821.0h0M575.6 828.4h0M573.1 827.0h0M587.9 816.6h0M591.9 807.1h0M588.4 812.8h0M589.6 774.7h0M589.6 810.4h0M573.7 825.2h0M597.8 820.8h0M582.7 797.3h0M591.3 763.7h0M580.2 796.5h0M596.6 827.1h0M572.2 801.3h0M576.7 814.5h0M593.2 766.5h0M599.0 820.2h0M598.7 822.2h0M587.9 815.1h0M574.5 818.9h0M576.2 808.7h0M600.8 813.8h0M574.5 821.3h0M591.3 828.4h0M569.7 807.5h0M578.1 800.4h0M599.4 812.9h0M596.2 823.2h0M600.5 801.7h0M589.6 789.8h0M601.5 827.0h0M595.0 825.5h0M596.4 813.4h0M577.6 828.3h0M569.6 817.0h0M571.2 808.5h0M578.1 824.6h0M591.1 762.6h0M597.9 817.4h0M594.9 818.8h0M595.5 800.6h0M578.4 810.8h0M580.9 788.8h0M581.5 805.8h0M575.4 810.0h0M604.5 821.5h0M601.6 821.5h0M605.8 803.7h0M599.0 804.3h0M590.4 791.8h0M576.3 812.5h0M582.7 830.4h0M574.9 810.8h0M573.4 815.3h0M586.7 810.9h0M592.6 790.6h0M573.7 805.3h0M586.7 809.7h0M606.3 805.4h0M582.5 766.5h0M576.2 806.9h0M590.8 833.1h0M588.4 812.1h0M581.8 823.6h0M581.8 800.7h0M591.1 802.0h0M595.1 826.0h0M581.6 765.0h0M589.1 794.9h0M591.9 827.4h0M570.0 817.7h0M579.4 823.7h0M570.2 801.1h0M591.7 783.0h0M591.3 752.5h0M565.0 816.5h0M596.4 820.5h0M577.2 828.7h0M580.7 811.7h0M589.7 778.7h0M592.7 770.4h0M588.5 804.1h0M582.3 775.5h0M573.0 813.8h0M592.1 806.6h0M593.4 788.4h0M567.1 823.3h0M596.9 813.0h0M580.5 778.0h0M599.4 830.7h0M578.5 822.5h0M580.0 801.6h0M595.6 800.1h0M596.0 826.0h0M578.2 808.2h0M575.4 821.4h0M602.7 806.9h0M594.6 827.6h0M589.7 822.3h0M585.0 769.2h0M591.1 818.2h0M594.9 801.1h0M582.5 833.3h0M580.8 831.3h0M581.6 821.9h0M568.3 820.2h0M594.2 764.0h0M584.7 786.6h0M588.1 821.4h0M598.1 811.5h0M593.7 826.6h0M577.0 800.0h0M582.8 809.9h0M601.8 819.7h0M590.9 770.2h0M564.0 819.8h0M581.9 778.4h0M594.4 810.3h0M594.0 778.1h0M594.2 832.0h0M594.0 792.0h0M586.7 828.3h0M592.4 805.3h0M591.9 773.6h0M576.5 819.3h0M578.7 808.3h0M584.7 760.9h0M581.7 806.6h0M578.3 816.0h0M592.9 779.7h0M578.3 802.7h0M590.0 760.4h0M593.2 777.8h0M601.6 804.8h0M576.9 806.1h0M613.0 814.9h0M603.0 819.5h0M559.8 823.3h0M594.8 815.1h0M583.4 804.6h0M595.4 807.1h0M589.7 763.6h0M580.6 818.3h0M575.2 824.4h0M600.2 807.0h0M595.5 819.8h0M591.9 764.8h0M577.9 825.6h0M588.0 806.3h0M580.2 783.9h0M581.7 833.3h0M582.9 773.6h0M583.0 834.1h0M593.5 791.4h0M595.3 817.9h0M580.2 776.0h0M597.4 805.2h0M592.3 784.6h0M584.8 765.0h0M575.4 805.6h0M593.2 755.7h0M580.6 830.6h0M592.2 832.9h0M594.4 805.5h0M574.8 813.1h0M589.9 762.2h0M597.5 811.3h0M586.2 802.8h0M609.7 809.5h0M579.8 814.9h0M594.8 813.8h0M582.1 777.2h0M575.1 813.8h0M572.8 823.2h0M601.2 806.8h0M582.2 812.6h0M575.1 805.0h0M594.2 821.9h0M597.3 815.9h0M577.6 817.7h0M582.4 802.0h0M591.8 823.5h0M590.9 775.2h0M590.8 818.0h0M582.4 780.2h0M573.3 800.5h0M580.6 815.3h0M597.9 814.3h0M591.1 760.7h0M589.6 757.6h0M578.4 829.0h0M593.2 758.1h0M568.8 816.5h0M571.6 803.2h0M573.2 810.8h0M589.0 793.0h0M565.7 816.6h0M590.2 744.1h0M593.7 779.3h0M575.8 811.2h0M595.4 802.4h0M584.2 778.2h0M583.9 771.5h0M592.6 781.8h0M580.7 785.0h0M604.4 828.0h0M592.9 792.5h0M603.5 820.6h0M578.4 818.5h0M575.3 809.5h0M583.9 774.6h0M596.9 808.8h0M581.4 782.8h0M569.0 819.9h0M586.4 804.4h0M590.5 769.3h0M589.9 743.6h0M596.8 816.8h0M593.8 797.6h0M592.7 771.6h0M578.8 814.9h0M593.5 786.5h0M593.7 771.6h0M574.6 820.5h0M593.8 776.0h0M585.4 821.1h0M585.5 786.8h0M592.2 777.3h0M583.3 816.4h0M612.0 811.2h0M576.0 821.5h0M575.7 805.9h0M598.5 807.8h0M610.8 805.2h0M570.8 816.9h0M596.0 820.6h0M595.5 829.2h0M581.2 782.1h0M585.0 808.9h0M571.1 809.4h0M599.2 800.8h0M593.1 761.1h0M581.9 820.1h0M600.6 815.9h0M593.2 794.3h0M597.3 804.6h0M598.9 807.1h0M574.4 809.0h0M601.0 818.4h0M593.6 749.3h0M591.7 750.9h0M602.1 815.7h0M592.6 809.8h0M607.2 806.8h0M583.4 768.7h0M594.6 793.3h0M603.3 808.6h0M574.9 822.6h0M603.8 815.8h0M589.6 747.8h0M602.7 810.7h0M578.2 826.0h0M574.8 829.7h0M570.8 823.6h0M594.2 770.4h0M574.0 825.9h0M585.0 766.9h0M581.9 791.6h0M603.7 825.6h0M606.8 818.4h0M575.4 828.9h0M578.0 820.6h0M577.2 827.2h0M593.7 760.6h0M583.9 770.8h0M593.2 802.7h0M586.7 821.2h0M578.8 802.0h0M583.5 776.2h0M576.9 809.2h0M598.5 800.0h0M587.2 836.8h0M593.7 829.1h0M611.0 823.7h0M575.5 826.2h0M580.9 789.4h0M578.6 813.3h0M588.1 808.7h0M585.4 773.6h0M603.1 821.0h0M594.8 807.4h0M574.5 801.7h0M591.0 767.8h0M587.7 817.2h0M584.5 772.8h0M583.7 755.9h0M592.8 780.5h0M579.3 818.0h0M583.1 777.7h0M583.9 759.3h0M574.3 813.4h0M605.9 815.1h0M613.1 810.3h0M571.8 820.1h0M601.7 817.2h0M603.7 818.1h0M607.3 812.6h0M585.2 755.5h0M577.5 799.6h0M589.8 763.8h0M581.5 763.4h0M589.1 835.0h0M592.2 754.1h0M580.9 810.1h0M593.8 825.5h0M581.6 774.5h0M591.6 764.8h0M586.7 817.2h0M577.9 823.7h0M605.1 816.5h0M583.0 760.5h0M574.6 823.5h0M580.8 769.8h0M571.3 815.6h0M564.6 821.5h0M601.1 821.2h0M608.5 814.8h0M603.0 802.8h0M580.1 808.2h0M587.9 811.1h0M594.1 786.2h0M588.7 796.3h0M584.8 771.0h0M597.2 809.0h0M580.6 779.9h0M573.5 828.8h0M577.2 824.1h0M591.0 815.7h0M593.4 763.8h0M571.4 823.2h0M576.6 813.5h0M570.7 824.7h0M587.9 813.5h0M592.0 762.6h0M581.1 781.1h0M600.3 822.2h0M601.8 805.6h0M585.5 797.5h0M595.6 827.3h0M604.4 803.7h0M579.4 830.9h0M590.9 758.8h0M567.4 817.7h0M608.1 811.2h0M598.8 814.9h0M575.5 800.4h0M594.4 778.0h0M613.2 809.3h0M601.7 813.0h0M584.4 763.4h0M564.3 810.0h0M605.3 812.8h0M594.6 798.5h0M575.2 831.4h0M571.9 822.1h0M592.6 774.7h0M579.9 811.4h0M570.8 825.0h0M600.5 823.5h0M576.8 822.2h0M610.0 808.6h0M584.1 761.6h0M597.1 830.6h0M591.7 766.4h0M596.0 808.1h0M578.1 801.4h0M597.3 829.0h0M593.8 827.8h0M582.4 772.9h0M600.5 821.4h0M598.1 817.4h0M608.0 803.1h0M591.9 834.0h0M591.9 767.2h0M581.2 773.6h0M593.9 762.8h0M608.2 819.4h0M579.4 828.8h0M582.2 785.1h0M603.3 816.4h0M582.1 755.3h0M599.0 817.4h0M581.9 835.1h0M590.6 753.3h0M578.0 801.6h0M590.9 768.8h0M584.5 767.2h0M566.6 818.8h0M571.6 824.8h0M571.7 821.0h0M600.6 806.6h0M568.8 825.3h0M589.8 754.9h0M566.7 817.0h0M605.4 822.4h0M599.2 813.3h0M581.3 771.3h0M565.6 811.1h0M592.7 750.7h0M589.8 753.8h0M582.0 770.5h0M596.2 831.2h0M585.4 772.6h0M585.6 789.7h0M601.3 812.7h0M592.1 761.2h0M599.0 807.5h0M602.9 810.2h0M588.1 814.8h0M606.8 820.4h0M589.5 761.4h0M589.5 745.3h0M598.5 810.9h0M590.2 768.0h0M587.9 812.3h0M589.5 770.8h0M605.4 803.0h0M580.9 833.2h0M578.1 819.6h0M601.7 825.2h0M595.9 814.9h0M581.0 831.3h0M582.1 781.4h0M598.1 818.9h0M580.6 791.6h0M569.8 819.9h0M594.2 785.0h0M599.7 823.9h0M571.1 810.8h0M568.4 830.6h0M580.5 787.7h0M599.3 818.8h0M603.5 822.7h0M584.0 765.4h0M575.3 803.2h0M567.1 807.5h0M569.1 812.7h0M596.8 807.5h0M594.5 786.1h0M601.8 800.6h0M562.5 822.5h0M604.3 823.6h0M606.7 825.5h0M601.9 807.5h0M574.5 825.1h0M594.6 831.5h0M592.5 763.5h0M576.3 826.2h0M572.9 816.0h0M570.5 800.4h0M601.9 812.0h0M585.7 725.3h0M585.2 735.7h0M592.7 737.1h0M594.5 733.9h0M581.7 743.9h0M584.3 743.2h0M582.6 750.9h0M582.6 756.7h0M591.0 747.9h0M551.0 816.2h0M554.5 813.6h0M558.9 819.7h0M567.7 829.7h0M561.5 810.1h0M627.2 805.2h0M622.0 825.0h0M615.5 811.9h0M618.5 812.2h0M611.5 821.5h0M611.5 824.5h0M607.1 818.9h0M530.9 822.0h0M556.3 801.4h0" stroke="#BEBEBE" stroke-width="2.2" stroke-linecap="round" fill="none"/>
<path d="M576.4 733.9h0M576.4 749.7h0M576.9 750.2h0M563.8 757.6h0M576.9 758.1h0M579.9 760.7h0M571.7 760.7h0M572.0 762.8h0M580.8 764.6h0M579.9 766.3h0M561.2 768.4h0M578.2 767.7h0M576.4 768.9h0M564.7 770.7h0M571.2 772.4h0M569.9 773.8h0M577.3 775.1h0M579.6 775.1h0M575.5 775.9h0M544.9 779.5h0M572.0 780.7h0M578.2 778.6h0M579.6 780.3h0M558.6 784.7h0M577.3 784.7h0M575.5 785.9h0M570.3 787.3h0M555.4 789.4h0M552.8 791.7h0M565.0 791.7h0M556.3 794.0h0M569.4 790.8h0M572.0 790.8h0M574.7 789.1h0M577.3 789.1h0M579.1 790.8h0M565.9 794.3h0M568.2 794.7h0M572.9 793.5h0M575.5 792.6h0M577.3 794.3h0M579.1 796.1h0M559.8 798.7h0M565.0 799.2h0M569.9 798.2h0M572.9 797.8h0M575.9 797.8h0M578.2 798.7h0M577.2 783.3h0M575.6 786.8h0M575.8 795.9h0M575.9 789.3h0M580.7 789.9h0M577.9 788.2h0M578.2 777.5h0M575.5 784.2h0M578.3 799.2h0M573.9 797.1h0M573.3 793.1h0M579.6 786.5h0M573.0 795.9h0M580.6 789.3h0M579.4 782.7h0M579.1 786.3h0M573.3 777.1h0M574.6 787.6h0M579.6 780.4h0M576.3 793.5h0M577.9 794.8h0M573.9 799.4h0M574.4 795.0h0M576.8 773.2h0M578.9 791.9h0M577.2 794.2h0M573.8 796.0h0M579.7 785.4h0M574.0 784.9h0M576.4 786.4h0M577.5 775.9h0M575.4 798.4h0M576.2 799.2h0M579.9 778.9h0M576.5 798.4h0M577.2 777.4h0M580.6 773.9h0M575.1 792.1h0M580.0 794.5h0M575.8 777.2h0M575.4 798.3h0M579.9 782.8h0M573.4 776.8h0M579.8 780.0h0M579.4 774.7h0M580.0 793.2h0M573.4 779.6h0M574.8 791.0h0M579.0 784.5h0M576.4 775.1h0M573.0 788.0h0M578.4 798.7h0M579.2 776.8h0M580.6 798.5h0M574.1 774.9h0M574.9 787.7h0M579.6 776.4h0M573.6 799.5h0M575.1 787.0h0M576.5 796.0h0" stroke="#0808FA" stroke-width="2.5" stroke-linecap="round" fill="none"/>
<path d="M600.1 711.1h0M597.3 727.1h0M595.2 742.1h0M611.3 746.0h0M595.2 746.2h0M596.6 748.8h0M597.1 752.3h0M600.4 752.3h0M601.8 754.1h0M600.9 753.2h0M604.1 761.9h0M608.3 768.1h0M600.9 768.1h0M603.6 772.4h0M614.1 776.8h0M608.0 779.5h0M603.6 786.5h0M606.2 784.7h0M611.5 783.8h0M610.6 788.7h0M618.5 786.5h0M629.9 785.9h0M633.4 787.3h0M640.0 798.7h0M619.7 798.2h0M613.7 797.8h0M607.1 795.2h0M609.7 791.7h0M612.3 788.2h0M599.5 785.9h0M601.8 783.2h0M600.8 775.8h0M596.2 777.1h0M596.8 770.6h0M601.6 762.9h0M594.3 794.9h0M601.2 779.3h0M601.0 782.3h0M598.2 773.7h0M596.8 790.1h0M596.6 762.4h0M596.4 775.6h0M598.0 762.6h0M598.5 766.1h0M598.9 798.3h0M602.7 786.5h0M601.0 777.8h0M599.5 781.4h0M602.6 794.7h0M596.1 774.6h0M595.6 784.0h0M599.4 787.5h0M594.7 775.0h0M594.6 781.2h0M598.6 790.6h0M598.2 796.1h0M602.0 767.2h0M599.6 797.1h0M598.6 761.6h0M598.5 790.2h0M596.4 792.4h0M594.4 766.6h0M595.9 777.4h0M600.1 792.5h0M596.0 762.0h0M597.4 785.4h0M594.3 791.7h0M601.3 781.0h0M595.6 789.1h0M596.5 770.1h0M601.7 769.0h0M598.6 775.3h0M601.4 768.3h0M599.7 774.6h0M600.5 797.6h0M595.1 783.3h0M598.8 774.4h0M598.6 771.8h0M601.6 797.8h0M597.3 778.4h0M599.3 798.8h0M594.8 781.1h0M597.6 781.3h0M597.0 795.6h0M595.6 789.8h0M601.2 783.6h0M597.5 777.7h0M602.5 794.9h0M599.3 777.1h0M599.4 796.6h0M599.7 764.0h0M600.0 777.8h0M595.6 781.2h0M598.0 797.7h0M596.3 771.0h0M597.7 792.2h0M595.1 787.2h0M602.4 788.8h0M596.1 785.5h0M599.9 798.5h0M596.8 774.1h0M601.6 776.6h0M599.9 769.2h0M595.4 763.3h0M601.4 769.5h0M602.2 796.4h0M601.9 793.5h0M599.1 765.7h0M595.5 784.5h0M595.9 779.7h0M602.1 784.1h0M598.9 786.6h0M595.8 773.1h0M601.7 798.1h0" stroke="#FA0808" stroke-width="2.5" stroke-linecap="round" fill="none"/>
<rect x="493.50" y="705.60" width="190.90" height="137.60" fill="none" stroke="#1a1a1a" stroke-width="1.2"/>
<path d="M532.2 843.8v2.6M587.4 843.8v2.6M642.6 843.8v2.6M492.9 837.1h-2.6M492.9 808.2h-2.6M492.9 779.3h-2.6M492.9 750.4h-2.6M492.9 721.5h-2.6" stroke="#333" stroke-width="1" fill="none"/>
<text x="530.3" y="858.7" font-size="9.6" text-anchor="middle" fill="#333">-2</text>
<text x="587.4" y="858.7" font-size="9.6" text-anchor="middle" fill="#333">0</text>
<text x="642.6" y="858.7" font-size="9.6" text-anchor="middle" fill="#333">2</text>
<text x="487.3" y="840.5" font-size="9.8" text-anchor="end" fill="#333">0</text>
<text x="487.3" y="811.6" font-size="9.8" text-anchor="end" fill="#333">1</text>
<text x="487.3" y="782.7" font-size="9.8" text-anchor="end" fill="#333">2</text>
<text x="487.3" y="753.8" font-size="9.8" text-anchor="end" fill="#333">3</text>
<text x="487.3" y="724.9" font-size="9.8" text-anchor="end" fill="#333">4</text>
<text x="523.5" y="872.5" font-size="11.33">log<tspan font-size="7" font-weight="bold" dy="0.8">2</tspan><tspan dy="-0.8">(mIVF-HFD/IVF-HFD)</tspan></text>
<text transform="translate(474.3 781.7) rotate(-90)" font-size="11.5" text-anchor="middle">-log10(p-value)</text>
<circle cx="523.6" cy="692" r="2.5" fill="#1515F5"/><circle cx="572.4" cy="692" r="2.5" fill="#C4C4C4"/><circle cx="633.3" cy="692" r="2.5" fill="#F51515"/>
<text x="531.1" y="694.6" font-size="9.2" fill="#222">Down</text>
<text x="580.0" y="694.6" font-size="9.2" fill="#222">Unchanged</text>
<text x="641.6" y="694.6" font-size="9.2" fill="#222">Up</text>
</svg>
</body></html>
